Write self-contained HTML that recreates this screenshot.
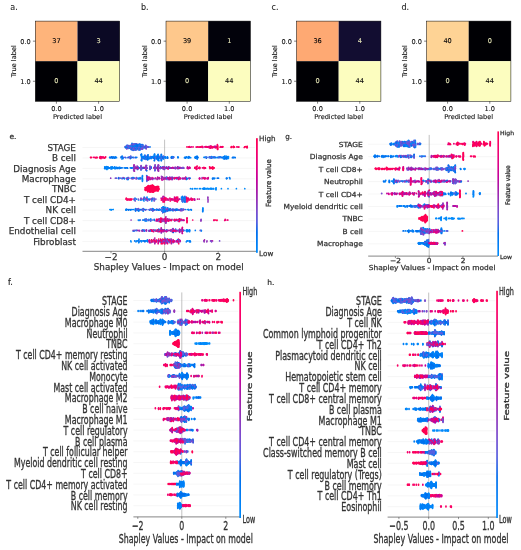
<!DOCTYPE html>
<html><head><meta charset="utf-8"><style>
html,body{margin:0;padding:0;background:#fff;}
svg{display:block;}
text{font-family:'DejaVu Sans','Liberation Sans',sans-serif;}
</style></head><body>
<svg width="521" height="550" viewBox="0 0 521 550" style="filter:blur(0.25px)">
<rect width="521" height="550" fill="#fff"/>
<rect x="35.30" y="21.10" width="42.2" height="40.1" fill="#feb47b"/>
<text transform="translate(56.40,42.96)" font-size="6.60" text-anchor="middle" fill="#000004" stroke="#000004" stroke-width="0.10">37</text>
<rect x="77.50" y="21.10" width="42.2" height="40.1" fill="#0b0924"/>
<text transform="translate(98.60,42.96)" font-size="6.60" text-anchor="middle" fill="#e6e6b8" stroke="#e6e6b8" stroke-width="0.10">3</text>
<rect x="35.30" y="61.20" width="42.2" height="40.1" fill="#000004"/>
<text transform="translate(56.40,83.06)" font-size="6.60" text-anchor="middle" fill="#e6e6b8" stroke="#e6e6b8" stroke-width="0.10">0</text>
<rect x="77.50" y="61.20" width="42.2" height="40.1" fill="#fcfdbf"/>
<text transform="translate(98.60,83.06)" font-size="6.60" text-anchor="middle" fill="#000004" stroke="#000004" stroke-width="0.10">44</text>
<rect x="35.30" y="21.10" width="84.4" height="80.2" fill="none" stroke="#000" stroke-width="0.5"/>
<line x1="32.90" y1="41.15" x2="35.30" y2="41.15" stroke="#000" stroke-width="0.5"/>
<text transform="translate(30.70,43.56)" font-size="6.60" text-anchor="end" fill="#111" stroke="#111" stroke-width="0.10">0.0</text>
<line x1="56.40" y1="101.30" x2="56.40" y2="103.70" stroke="#000" stroke-width="0.5"/>
<text transform="translate(56.40,110.80)" font-size="6.60" text-anchor="middle" fill="#111" stroke="#111" stroke-width="0.10">0.0</text>
<line x1="32.90" y1="81.25" x2="35.30" y2="81.25" stroke="#000" stroke-width="0.5"/>
<text transform="translate(30.70,83.66)" font-size="6.60" text-anchor="end" fill="#111" stroke="#111" stroke-width="0.10">1.0</text>
<line x1="98.60" y1="101.30" x2="98.60" y2="103.70" stroke="#000" stroke-width="0.5"/>
<text transform="translate(98.60,110.80)" font-size="6.60" text-anchor="middle" fill="#111" stroke="#111" stroke-width="0.10">1.0</text>
<text transform="translate(77.50,118.80)" font-size="6.60" text-anchor="middle" fill="#111" stroke="#111" stroke-width="0.10">Predicted label</text>
<text transform="translate(15.80,61.20) rotate(-90)" font-size="6.60" text-anchor="middle" fill="#111" stroke="#111" stroke-width="0.10">True label</text>
<text transform="translate(10.30,9.8)" font-size="8" fill="#222" stroke="#222" stroke-width="0.08">a.</text>
<rect x="166.00" y="21.10" width="42.2" height="40.1" fill="#fec88c"/>
<text transform="translate(187.10,42.96)" font-size="6.60" text-anchor="middle" fill="#000004" stroke="#000004" stroke-width="0.10">39</text>
<rect x="208.20" y="21.10" width="42.2" height="40.1" fill="#02020b"/>
<text transform="translate(229.30,42.96)" font-size="6.60" text-anchor="middle" fill="#e6e6b8" stroke="#e6e6b8" stroke-width="0.10">1</text>
<rect x="166.00" y="61.20" width="42.2" height="40.1" fill="#000004"/>
<text transform="translate(187.10,83.06)" font-size="6.60" text-anchor="middle" fill="#e6e6b8" stroke="#e6e6b8" stroke-width="0.10">0</text>
<rect x="208.20" y="61.20" width="42.2" height="40.1" fill="#fcfdbf"/>
<text transform="translate(229.30,83.06)" font-size="6.60" text-anchor="middle" fill="#000004" stroke="#000004" stroke-width="0.10">44</text>
<rect x="166.00" y="21.10" width="84.4" height="80.2" fill="none" stroke="#000" stroke-width="0.5"/>
<line x1="163.60" y1="41.15" x2="166.00" y2="41.15" stroke="#000" stroke-width="0.5"/>
<text transform="translate(161.40,43.56)" font-size="6.60" text-anchor="end" fill="#111" stroke="#111" stroke-width="0.10">0.0</text>
<line x1="187.10" y1="101.30" x2="187.10" y2="103.70" stroke="#000" stroke-width="0.5"/>
<text transform="translate(187.10,110.80)" font-size="6.60" text-anchor="middle" fill="#111" stroke="#111" stroke-width="0.10">0.0</text>
<line x1="163.60" y1="81.25" x2="166.00" y2="81.25" stroke="#000" stroke-width="0.5"/>
<text transform="translate(161.40,83.66)" font-size="6.60" text-anchor="end" fill="#111" stroke="#111" stroke-width="0.10">1.0</text>
<line x1="229.30" y1="101.30" x2="229.30" y2="103.70" stroke="#000" stroke-width="0.5"/>
<text transform="translate(229.30,110.80)" font-size="6.60" text-anchor="middle" fill="#111" stroke="#111" stroke-width="0.10">1.0</text>
<text transform="translate(208.20,118.80)" font-size="6.60" text-anchor="middle" fill="#111" stroke="#111" stroke-width="0.10">Predicted label</text>
<text transform="translate(146.50,61.20) rotate(-90)" font-size="6.60" text-anchor="middle" fill="#111" stroke="#111" stroke-width="0.10">True label</text>
<text transform="translate(141.00,9.8)" font-size="8" fill="#222" stroke="#222" stroke-width="0.08">b.</text>
<rect x="296.50" y="21.10" width="42.2" height="40.1" fill="#fea973"/>
<text transform="translate(317.60,42.96)" font-size="6.60" text-anchor="middle" fill="#000004" stroke="#000004" stroke-width="0.10">36</text>
<rect x="338.70" y="21.10" width="42.2" height="40.1" fill="#120d31"/>
<text transform="translate(359.80,42.96)" font-size="6.60" text-anchor="middle" fill="#e6e6b8" stroke="#e6e6b8" stroke-width="0.10">4</text>
<rect x="296.50" y="61.20" width="42.2" height="40.1" fill="#000004"/>
<text transform="translate(317.60,83.06)" font-size="6.60" text-anchor="middle" fill="#e6e6b8" stroke="#e6e6b8" stroke-width="0.10">0</text>
<rect x="338.70" y="61.20" width="42.2" height="40.1" fill="#fcfdbf"/>
<text transform="translate(359.80,83.06)" font-size="6.60" text-anchor="middle" fill="#000004" stroke="#000004" stroke-width="0.10">44</text>
<rect x="296.50" y="21.10" width="84.4" height="80.2" fill="none" stroke="#000" stroke-width="0.5"/>
<line x1="294.10" y1="41.15" x2="296.50" y2="41.15" stroke="#000" stroke-width="0.5"/>
<text transform="translate(291.90,43.56)" font-size="6.60" text-anchor="end" fill="#111" stroke="#111" stroke-width="0.10">0.0</text>
<line x1="317.60" y1="101.30" x2="317.60" y2="103.70" stroke="#000" stroke-width="0.5"/>
<text transform="translate(317.60,110.80)" font-size="6.60" text-anchor="middle" fill="#111" stroke="#111" stroke-width="0.10">0.0</text>
<line x1="294.10" y1="81.25" x2="296.50" y2="81.25" stroke="#000" stroke-width="0.5"/>
<text transform="translate(291.90,83.66)" font-size="6.60" text-anchor="end" fill="#111" stroke="#111" stroke-width="0.10">1.0</text>
<line x1="359.80" y1="101.30" x2="359.80" y2="103.70" stroke="#000" stroke-width="0.5"/>
<text transform="translate(359.80,110.80)" font-size="6.60" text-anchor="middle" fill="#111" stroke="#111" stroke-width="0.10">1.0</text>
<text transform="translate(338.70,118.80)" font-size="6.60" text-anchor="middle" fill="#111" stroke="#111" stroke-width="0.10">Predicted label</text>
<text transform="translate(277.00,61.20) rotate(-90)" font-size="6.60" text-anchor="middle" fill="#111" stroke="#111" stroke-width="0.10">True label</text>
<text transform="translate(271.50,9.8)" font-size="8" fill="#222" stroke="#222" stroke-width="0.08">c.</text>
<rect x="426.50" y="21.10" width="42.2" height="40.1" fill="#fed395"/>
<text transform="translate(447.60,42.96)" font-size="6.60" text-anchor="middle" fill="#000004" stroke="#000004" stroke-width="0.10">40</text>
<rect x="468.70" y="21.10" width="42.2" height="40.1" fill="#000004"/>
<text transform="translate(489.80,42.96)" font-size="6.60" text-anchor="middle" fill="#e6e6b8" stroke="#e6e6b8" stroke-width="0.10">0</text>
<rect x="426.50" y="61.20" width="42.2" height="40.1" fill="#000004"/>
<text transform="translate(447.60,83.06)" font-size="6.60" text-anchor="middle" fill="#e6e6b8" stroke="#e6e6b8" stroke-width="0.10">0</text>
<rect x="468.70" y="61.20" width="42.2" height="40.1" fill="#fcfdbf"/>
<text transform="translate(489.80,83.06)" font-size="6.60" text-anchor="middle" fill="#000004" stroke="#000004" stroke-width="0.10">44</text>
<rect x="426.50" y="21.10" width="84.4" height="80.2" fill="none" stroke="#000" stroke-width="0.5"/>
<line x1="424.10" y1="41.15" x2="426.50" y2="41.15" stroke="#000" stroke-width="0.5"/>
<text transform="translate(421.90,43.56)" font-size="6.60" text-anchor="end" fill="#111" stroke="#111" stroke-width="0.10">0.0</text>
<line x1="447.60" y1="101.30" x2="447.60" y2="103.70" stroke="#000" stroke-width="0.5"/>
<text transform="translate(447.60,110.80)" font-size="6.60" text-anchor="middle" fill="#111" stroke="#111" stroke-width="0.10">0.0</text>
<line x1="424.10" y1="81.25" x2="426.50" y2="81.25" stroke="#000" stroke-width="0.5"/>
<text transform="translate(421.90,83.66)" font-size="6.60" text-anchor="end" fill="#111" stroke="#111" stroke-width="0.10">1.0</text>
<line x1="489.80" y1="101.30" x2="489.80" y2="103.70" stroke="#000" stroke-width="0.5"/>
<text transform="translate(489.80,110.80)" font-size="6.60" text-anchor="middle" fill="#111" stroke="#111" stroke-width="0.10">1.0</text>
<text transform="translate(468.70,118.80)" font-size="6.60" text-anchor="middle" fill="#111" stroke="#111" stroke-width="0.10">Predicted label</text>
<text transform="translate(407.00,61.20) rotate(-90)" font-size="6.60" text-anchor="middle" fill="#111" stroke="#111" stroke-width="0.10">True label</text>
<text transform="translate(401.50,9.8)" font-size="8" fill="#222" stroke="#222" stroke-width="0.08">d.</text>
<defs><linearGradient id="cbg" x1="0" y1="1" x2="0" y2="0"><stop offset="0" stop-color="#008bfb"/><stop offset="0.18" stop-color="#006fed"/><stop offset="0.27" stop-color="#575fdf"/><stop offset="0.36" stop-color="#794cce"/><stop offset="0.45" stop-color="#9233b9"/><stop offset="0.55" stop-color="#aa17a7"/><stop offset="0.64" stop-color="#c5009a"/><stop offset="0.73" stop-color="#db008a"/><stop offset="0.82" stop-color="#ec0078"/><stop offset="0.91" stop-color="#fa0065"/><stop offset="1" stop-color="#ff0051"/></linearGradient></defs>
<line x1="82.50" y1="147.49" x2="255.00" y2="147.49" stroke="#ececec" stroke-width="0.5"/>
<line x1="82.50" y1="157.93" x2="255.00" y2="157.93" stroke="#ececec" stroke-width="0.5"/>
<line x1="82.50" y1="168.37" x2="255.00" y2="168.37" stroke="#ececec" stroke-width="0.5"/>
<line x1="82.50" y1="178.81" x2="255.00" y2="178.81" stroke="#ececec" stroke-width="0.5"/>
<line x1="82.50" y1="189.25" x2="255.00" y2="189.25" stroke="#ececec" stroke-width="0.5"/>
<line x1="82.50" y1="199.69" x2="255.00" y2="199.69" stroke="#ececec" stroke-width="0.5"/>
<line x1="82.50" y1="210.13" x2="255.00" y2="210.13" stroke="#ececec" stroke-width="0.5"/>
<line x1="82.50" y1="220.57" x2="255.00" y2="220.57" stroke="#ececec" stroke-width="0.5"/>
<line x1="82.50" y1="231.01" x2="255.00" y2="231.01" stroke="#ececec" stroke-width="0.5"/>
<line x1="82.50" y1="241.45" x2="255.00" y2="241.45" stroke="#ececec" stroke-width="0.5"/>
<line x1="164.60" y1="139.66" x2="164.60" y2="251.30" stroke="#999" stroke-width="0.6"/>
<text transform="translate(75.90,150.70)" font-size="8.80" text-anchor="end" fill="#333" stroke="#333" stroke-width="0.25">STAGE</text>
<text transform="translate(75.90,161.14)" font-size="8.80" text-anchor="end" fill="#333" stroke="#333" stroke-width="0.25">B cell</text>
<text transform="translate(75.90,171.58)" font-size="8.80" text-anchor="end" fill="#333" stroke="#333" stroke-width="0.25">Diagnosis Age</text>
<text transform="translate(75.90,182.02)" font-size="8.80" text-anchor="end" fill="#333" stroke="#333" stroke-width="0.25">Macrophage</text>
<text transform="translate(75.90,192.46)" font-size="8.80" text-anchor="end" fill="#333" stroke="#333" stroke-width="0.25">TNBC</text>
<text transform="translate(75.90,202.90)" font-size="8.80" text-anchor="end" fill="#333" stroke="#333" stroke-width="0.25">T cell CD4+</text>
<text transform="translate(75.90,213.34)" font-size="8.80" text-anchor="end" fill="#333" stroke="#333" stroke-width="0.25">NK cell</text>
<text transform="translate(75.90,223.78)" font-size="8.80" text-anchor="end" fill="#333" stroke="#333" stroke-width="0.25">T cell CD8+</text>
<text transform="translate(75.90,234.22)" font-size="8.80" text-anchor="end" fill="#333" stroke="#333" stroke-width="0.25">Endothelial cell</text>
<text transform="translate(75.90,244.66)" font-size="8.80" text-anchor="end" fill="#333" stroke="#333" stroke-width="0.25">Fibroblast</text>
<line x1="82.50" y1="251.30" x2="257.00" y2="251.30" stroke="#333" stroke-width="0.6"/>
<line x1="111.00" y1="251.30" x2="111.00" y2="253.30" stroke="#333" stroke-width="0.5"/>
<text transform="translate(111.00,260.10)" font-size="8.80" text-anchor="middle" fill="#333" stroke="#333" stroke-width="0.25">−2</text>
<line x1="164.60" y1="251.30" x2="164.60" y2="253.30" stroke="#333" stroke-width="0.5"/>
<text transform="translate(164.60,260.10)" font-size="8.80" text-anchor="middle" fill="#333" stroke="#333" stroke-width="0.25">0</text>
<line x1="218.20" y1="251.30" x2="218.20" y2="253.30" stroke="#333" stroke-width="0.5"/>
<text transform="translate(218.20,260.10)" font-size="8.80" text-anchor="middle" fill="#333" stroke="#333" stroke-width="0.25">2</text>
<text transform="translate(93.75,269.60)" font-size="8.80" text-anchor="start" fill="#333" stroke="#333" stroke-width="0.25">Shapley Values - Impact on model</text>
<rect x="256.00" y="138.20" width="1.80" height="114.60" fill="url(#cbg)"/>
<text transform="translate(259.10,140.80)" font-size="7.20" text-anchor="start" fill="#333" stroke="#333" stroke-width="0.25">High</text>
<text transform="translate(259.10,255.90)" font-size="7.20" text-anchor="start" fill="#333" stroke="#333" stroke-width="0.25">Low</text>
<text transform="translate(270.55,183.20) scale(1.000,1) rotate(-90)" font-size="7.00" text-anchor="middle" fill="#333" stroke="#333" stroke-width="0.30">Feature value</text>
<text transform="translate(9.40,139.00)" font-size="7.50" fill="#2a2a2a" stroke="#2a2a2a" stroke-width="0.2">e.</text>
<line x1="368.20" y1="144.23" x2="496.40" y2="144.23" stroke="#ececec" stroke-width="0.5"/>
<line x1="368.20" y1="156.68" x2="496.40" y2="156.68" stroke="#ececec" stroke-width="0.5"/>
<line x1="368.20" y1="169.13" x2="496.40" y2="169.13" stroke="#ececec" stroke-width="0.5"/>
<line x1="368.20" y1="181.58" x2="496.40" y2="181.58" stroke="#ececec" stroke-width="0.5"/>
<line x1="368.20" y1="194.03" x2="496.40" y2="194.03" stroke="#ececec" stroke-width="0.5"/>
<line x1="368.20" y1="206.48" x2="496.40" y2="206.48" stroke="#ececec" stroke-width="0.5"/>
<line x1="368.20" y1="218.93" x2="496.40" y2="218.93" stroke="#ececec" stroke-width="0.5"/>
<line x1="368.20" y1="231.38" x2="496.40" y2="231.38" stroke="#ececec" stroke-width="0.5"/>
<line x1="368.20" y1="243.83" x2="496.40" y2="243.83" stroke="#ececec" stroke-width="0.5"/>
<line x1="429.20" y1="134.90" x2="429.20" y2="256.10" stroke="#999" stroke-width="0.6"/>
<text transform="translate(362.80,146.75) scale(1.080,1)" font-size="6.90" text-anchor="end" fill="#333" stroke="#333" stroke-width="0.25">STAGE</text>
<text transform="translate(362.80,159.20) scale(1.080,1)" font-size="6.90" text-anchor="end" fill="#333" stroke="#333" stroke-width="0.25">Diagnosis Age</text>
<text transform="translate(362.80,171.65) scale(1.080,1)" font-size="6.90" text-anchor="end" fill="#333" stroke="#333" stroke-width="0.25">T cell CD8+</text>
<text transform="translate(362.80,184.10) scale(1.080,1)" font-size="6.90" text-anchor="end" fill="#333" stroke="#333" stroke-width="0.25">Neutrophil</text>
<text transform="translate(362.80,196.55) scale(1.080,1)" font-size="6.90" text-anchor="end" fill="#333" stroke="#333" stroke-width="0.25">T cell CD4+</text>
<text transform="translate(362.80,209.00) scale(1.080,1)" font-size="6.90" text-anchor="end" fill="#333" stroke="#333" stroke-width="0.25">Myeloid dendritic cell</text>
<text transform="translate(362.80,221.45) scale(1.080,1)" font-size="6.90" text-anchor="end" fill="#333" stroke="#333" stroke-width="0.25">TNBC</text>
<text transform="translate(362.80,233.90) scale(1.080,1)" font-size="6.90" text-anchor="end" fill="#333" stroke="#333" stroke-width="0.25">B cell</text>
<text transform="translate(362.80,246.35) scale(1.080,1)" font-size="6.90" text-anchor="end" fill="#333" stroke="#333" stroke-width="0.25">Macrophage</text>
<line x1="368.20" y1="256.10" x2="498.00" y2="256.10" stroke="#333" stroke-width="0.6"/>
<line x1="395.40" y1="256.10" x2="395.40" y2="258.10" stroke="#333" stroke-width="0.5"/>
<text transform="translate(395.40,262.50) scale(1.080,1)" font-size="6.90" text-anchor="middle" fill="#333" stroke="#333" stroke-width="0.25">−2</text>
<line x1="429.20" y1="256.10" x2="429.20" y2="258.10" stroke="#333" stroke-width="0.5"/>
<text transform="translate(429.20,262.50) scale(1.080,1)" font-size="6.90" text-anchor="middle" fill="#333" stroke="#333" stroke-width="0.25">0</text>
<line x1="463.00" y1="256.10" x2="463.00" y2="258.10" stroke="#333" stroke-width="0.5"/>
<text transform="translate(463.00,262.50) scale(1.080,1)" font-size="6.90" text-anchor="middle" fill="#333" stroke="#333" stroke-width="0.25">2</text>
<text transform="translate(368.70,270.30) scale(1.080,1)" font-size="6.90" text-anchor="start" fill="#333" stroke="#333" stroke-width="0.25">Shapley Values - Impact on model</text>
<rect x="497.40" y="131.40" width="1.60" height="124.60" fill="url(#cbg)"/>
<text transform="translate(500.00,135.40) scale(1.080,1)" font-size="5.65" text-anchor="start" fill="#333" stroke="#333" stroke-width="0.25">High</text>
<text transform="translate(500.00,259.10) scale(1.080,1)" font-size="5.65" text-anchor="start" fill="#333" stroke="#333" stroke-width="0.25">Low</text>
<text transform="translate(509.98,185.20) scale(1.080,1) rotate(-90)" font-size="5.80" text-anchor="middle" fill="#333" stroke="#333" stroke-width="0.28">Feature value</text>
<text transform="translate(285.20,138.60)" font-size="7.20" fill="#2a2a2a" stroke="#2a2a2a" stroke-width="0.2">g.</text>
<line x1="133.40" y1="300.51" x2="238.30" y2="300.51" stroke="#ececec" stroke-width="0.5"/>
<line x1="133.40" y1="311.31" x2="238.30" y2="311.31" stroke="#ececec" stroke-width="0.5"/>
<line x1="133.40" y1="322.11" x2="238.30" y2="322.11" stroke="#ececec" stroke-width="0.5"/>
<line x1="133.40" y1="332.91" x2="238.30" y2="332.91" stroke="#ececec" stroke-width="0.5"/>
<line x1="133.40" y1="343.71" x2="238.30" y2="343.71" stroke="#ececec" stroke-width="0.5"/>
<line x1="133.40" y1="354.51" x2="238.30" y2="354.51" stroke="#ececec" stroke-width="0.5"/>
<line x1="133.40" y1="365.31" x2="238.30" y2="365.31" stroke="#ececec" stroke-width="0.5"/>
<line x1="133.40" y1="376.11" x2="238.30" y2="376.11" stroke="#ececec" stroke-width="0.5"/>
<line x1="133.40" y1="386.91" x2="238.30" y2="386.91" stroke="#ececec" stroke-width="0.5"/>
<line x1="133.40" y1="397.71" x2="238.30" y2="397.71" stroke="#ececec" stroke-width="0.5"/>
<line x1="133.40" y1="408.51" x2="238.30" y2="408.51" stroke="#ececec" stroke-width="0.5"/>
<line x1="133.40" y1="419.31" x2="238.30" y2="419.31" stroke="#ececec" stroke-width="0.5"/>
<line x1="133.40" y1="430.11" x2="238.30" y2="430.11" stroke="#ececec" stroke-width="0.5"/>
<line x1="133.40" y1="440.91" x2="238.30" y2="440.91" stroke="#ececec" stroke-width="0.5"/>
<line x1="133.40" y1="451.71" x2="238.30" y2="451.71" stroke="#ececec" stroke-width="0.5"/>
<line x1="133.40" y1="462.51" x2="238.30" y2="462.51" stroke="#ececec" stroke-width="0.5"/>
<line x1="133.40" y1="473.31" x2="238.30" y2="473.31" stroke="#ececec" stroke-width="0.5"/>
<line x1="133.40" y1="484.11" x2="238.30" y2="484.11" stroke="#ececec" stroke-width="0.5"/>
<line x1="133.40" y1="494.91" x2="238.30" y2="494.91" stroke="#ececec" stroke-width="0.5"/>
<line x1="133.40" y1="505.71" x2="238.30" y2="505.71" stroke="#ececec" stroke-width="0.5"/>
<line x1="181.80" y1="292.41" x2="181.80" y2="516.90" stroke="#999" stroke-width="0.6"/>
<text transform="translate(127.60,305.10) scale(0.625,1)" font-size="12.60" text-anchor="end" fill="#333" stroke="#333" stroke-width="0.35">STAGE</text>
<text transform="translate(127.60,315.90) scale(0.625,1)" font-size="12.60" text-anchor="end" fill="#333" stroke="#333" stroke-width="0.35">Diagnosis Age</text>
<text transform="translate(127.60,326.70) scale(0.625,1)" font-size="12.60" text-anchor="end" fill="#333" stroke="#333" stroke-width="0.35">Macrophage M0</text>
<text transform="translate(127.60,337.50) scale(0.625,1)" font-size="12.60" text-anchor="end" fill="#333" stroke="#333" stroke-width="0.35">Neutrophil</text>
<text transform="translate(127.60,348.30) scale(0.625,1)" font-size="12.60" text-anchor="end" fill="#333" stroke="#333" stroke-width="0.35">TNBC</text>
<text transform="translate(127.60,359.10) scale(0.625,1)" font-size="12.60" text-anchor="end" fill="#333" stroke="#333" stroke-width="0.35">T cell CD4+ memory resting</text>
<text transform="translate(127.60,369.90) scale(0.625,1)" font-size="12.60" text-anchor="end" fill="#333" stroke="#333" stroke-width="0.35">NK cell activated</text>
<text transform="translate(127.60,380.70) scale(0.625,1)" font-size="12.60" text-anchor="end" fill="#333" stroke="#333" stroke-width="0.35">Monocyte</text>
<text transform="translate(127.60,391.50) scale(0.625,1)" font-size="12.60" text-anchor="end" fill="#333" stroke="#333" stroke-width="0.35">Mast cell activated</text>
<text transform="translate(127.60,402.30) scale(0.625,1)" font-size="12.60" text-anchor="end" fill="#333" stroke="#333" stroke-width="0.35">Macrophage M2</text>
<text transform="translate(127.60,413.10) scale(0.625,1)" font-size="12.60" text-anchor="end" fill="#333" stroke="#333" stroke-width="0.35">B cell naive</text>
<text transform="translate(127.60,423.90) scale(0.625,1)" font-size="12.60" text-anchor="end" fill="#333" stroke="#333" stroke-width="0.35">Macrophage M1</text>
<text transform="translate(127.60,434.70) scale(0.625,1)" font-size="12.60" text-anchor="end" fill="#333" stroke="#333" stroke-width="0.35">T cell regulatory</text>
<text transform="translate(127.60,445.50) scale(0.625,1)" font-size="12.60" text-anchor="end" fill="#333" stroke="#333" stroke-width="0.35">B cell plasma</text>
<text transform="translate(127.60,456.30) scale(0.625,1)" font-size="12.60" text-anchor="end" fill="#333" stroke="#333" stroke-width="0.35">T cell follicular helper</text>
<text transform="translate(127.60,467.10) scale(0.625,1)" font-size="12.60" text-anchor="end" fill="#333" stroke="#333" stroke-width="0.35">Myeloid dendritic cell resting</text>
<text transform="translate(127.60,477.90) scale(0.625,1)" font-size="12.60" text-anchor="end" fill="#333" stroke="#333" stroke-width="0.35">T cell CD8+</text>
<text transform="translate(127.60,488.70) scale(0.625,1)" font-size="12.60" text-anchor="end" fill="#333" stroke="#333" stroke-width="0.35">T cell CD4+ memory activated</text>
<text transform="translate(127.60,499.50) scale(0.625,1)" font-size="12.60" text-anchor="end" fill="#333" stroke="#333" stroke-width="0.35">B cell memory</text>
<text transform="translate(127.60,510.30) scale(0.625,1)" font-size="12.60" text-anchor="end" fill="#333" stroke="#333" stroke-width="0.35">NK cell resting</text>
<line x1="133.40" y1="516.90" x2="240.00" y2="516.90" stroke="#333" stroke-width="0.6"/>
<line x1="137.80" y1="516.90" x2="137.80" y2="518.90" stroke="#333" stroke-width="0.5"/>
<text transform="translate(137.80,529.80) scale(0.625,1)" font-size="12.60" text-anchor="middle" fill="#333" stroke="#333" stroke-width="0.35">−2</text>
<line x1="181.80" y1="516.90" x2="181.80" y2="518.90" stroke="#333" stroke-width="0.5"/>
<text transform="translate(181.80,529.80) scale(0.625,1)" font-size="12.60" text-anchor="middle" fill="#333" stroke="#333" stroke-width="0.35">0</text>
<line x1="225.80" y1="516.90" x2="225.80" y2="518.90" stroke="#333" stroke-width="0.5"/>
<text transform="translate(225.80,529.80) scale(0.625,1)" font-size="12.60" text-anchor="middle" fill="#333" stroke="#333" stroke-width="0.35">2</text>
<text transform="translate(118.75,543.40) scale(0.625,1)" font-size="12.60" text-anchor="start" fill="#333" stroke="#333" stroke-width="0.35">Shapley Values - Impact on model</text>
<rect x="239.30" y="291.80" width="1.70" height="226.20" fill="url(#cbg)"/>
<text transform="translate(242.50,294.75) scale(0.625,1)" font-size="10.30" text-anchor="start" fill="#333" stroke="#333" stroke-width="0.35">High</text>
<text transform="translate(242.50,523.00) scale(0.625,1)" font-size="10.30" text-anchor="start" fill="#333" stroke="#333" stroke-width="0.35">Low</text>
<text transform="translate(252.34,386.40) scale(0.625,1) rotate(-90)" font-size="10.25" text-anchor="middle" fill="#333" stroke="#333" stroke-width="0.48">Feature value</text>
<text transform="translate(8.10,285.20)" font-size="8.00" fill="#2a2a2a" stroke="#2a2a2a" stroke-width="0.2">f.</text>
<line x1="387.60" y1="300.71" x2="495.20" y2="300.71" stroke="#ececec" stroke-width="0.5"/>
<line x1="387.60" y1="311.55" x2="495.20" y2="311.55" stroke="#ececec" stroke-width="0.5"/>
<line x1="387.60" y1="322.39" x2="495.20" y2="322.39" stroke="#ececec" stroke-width="0.5"/>
<line x1="387.60" y1="333.23" x2="495.20" y2="333.23" stroke="#ececec" stroke-width="0.5"/>
<line x1="387.60" y1="344.07" x2="495.20" y2="344.07" stroke="#ececec" stroke-width="0.5"/>
<line x1="387.60" y1="354.91" x2="495.20" y2="354.91" stroke="#ececec" stroke-width="0.5"/>
<line x1="387.60" y1="365.75" x2="495.20" y2="365.75" stroke="#ececec" stroke-width="0.5"/>
<line x1="387.60" y1="376.59" x2="495.20" y2="376.59" stroke="#ececec" stroke-width="0.5"/>
<line x1="387.60" y1="387.43" x2="495.20" y2="387.43" stroke="#ececec" stroke-width="0.5"/>
<line x1="387.60" y1="398.27" x2="495.20" y2="398.27" stroke="#ececec" stroke-width="0.5"/>
<line x1="387.60" y1="409.11" x2="495.20" y2="409.11" stroke="#ececec" stroke-width="0.5"/>
<line x1="387.60" y1="419.95" x2="495.20" y2="419.95" stroke="#ececec" stroke-width="0.5"/>
<line x1="387.60" y1="430.79" x2="495.20" y2="430.79" stroke="#ececec" stroke-width="0.5"/>
<line x1="387.60" y1="441.63" x2="495.20" y2="441.63" stroke="#ececec" stroke-width="0.5"/>
<line x1="387.60" y1="452.47" x2="495.20" y2="452.47" stroke="#ececec" stroke-width="0.5"/>
<line x1="387.60" y1="463.31" x2="495.20" y2="463.31" stroke="#ececec" stroke-width="0.5"/>
<line x1="387.60" y1="474.15" x2="495.20" y2="474.15" stroke="#ececec" stroke-width="0.5"/>
<line x1="387.60" y1="484.99" x2="495.20" y2="484.99" stroke="#ececec" stroke-width="0.5"/>
<line x1="387.60" y1="495.83" x2="495.20" y2="495.83" stroke="#ececec" stroke-width="0.5"/>
<line x1="387.60" y1="506.67" x2="495.20" y2="506.67" stroke="#ececec" stroke-width="0.5"/>
<line x1="428.70" y1="292.58" x2="428.70" y2="517.10" stroke="#999" stroke-width="0.6"/>
<text transform="translate(381.80,305.30) scale(0.630,1)" font-size="12.60" text-anchor="end" fill="#333" stroke="#333" stroke-width="0.35">STAGE</text>
<text transform="translate(381.80,316.14) scale(0.630,1)" font-size="12.60" text-anchor="end" fill="#333" stroke="#333" stroke-width="0.35">Diagnosis Age</text>
<text transform="translate(381.80,326.98) scale(0.630,1)" font-size="12.60" text-anchor="end" fill="#333" stroke="#333" stroke-width="0.35">T cell NK</text>
<text transform="translate(381.80,337.82) scale(0.630,1)" font-size="12.60" text-anchor="end" fill="#333" stroke="#333" stroke-width="0.35">Common lymphoid progenitor</text>
<text transform="translate(381.80,348.66) scale(0.630,1)" font-size="12.60" text-anchor="end" fill="#333" stroke="#333" stroke-width="0.35">T cell CD4+ Th2</text>
<text transform="translate(381.80,359.50) scale(0.630,1)" font-size="12.60" text-anchor="end" fill="#333" stroke="#333" stroke-width="0.35">Plasmacytoid dendritic cell</text>
<text transform="translate(381.80,370.34) scale(0.630,1)" font-size="12.60" text-anchor="end" fill="#333" stroke="#333" stroke-width="0.35">NK cell</text>
<text transform="translate(381.80,381.18) scale(0.630,1)" font-size="12.60" text-anchor="end" fill="#333" stroke="#333" stroke-width="0.35">Hematopoietic stem cell</text>
<text transform="translate(381.80,392.02) scale(0.630,1)" font-size="12.60" text-anchor="end" fill="#333" stroke="#333" stroke-width="0.35">T cell CD4+ memory</text>
<text transform="translate(381.80,402.86) scale(0.630,1)" font-size="12.60" text-anchor="end" fill="#333" stroke="#333" stroke-width="0.35">T cell CD8+ central memory</text>
<text transform="translate(381.80,413.70) scale(0.630,1)" font-size="12.60" text-anchor="end" fill="#333" stroke="#333" stroke-width="0.35">B cell plasma</text>
<text transform="translate(381.80,424.54) scale(0.630,1)" font-size="12.60" text-anchor="end" fill="#333" stroke="#333" stroke-width="0.35">Macrophage M1</text>
<text transform="translate(381.80,435.38) scale(0.630,1)" font-size="12.60" text-anchor="end" fill="#333" stroke="#333" stroke-width="0.35">TNBC</text>
<text transform="translate(381.80,446.22) scale(0.630,1)" font-size="12.60" text-anchor="end" fill="#333" stroke="#333" stroke-width="0.35">T cell CD4+ central memory</text>
<text transform="translate(381.80,457.06) scale(0.630,1)" font-size="12.60" text-anchor="end" fill="#333" stroke="#333" stroke-width="0.35">Class-switched memory B cell</text>
<text transform="translate(381.80,467.90) scale(0.630,1)" font-size="12.60" text-anchor="end" fill="#333" stroke="#333" stroke-width="0.35">Mast cell</text>
<text transform="translate(381.80,478.74) scale(0.630,1)" font-size="12.60" text-anchor="end" fill="#333" stroke="#333" stroke-width="0.35">T cell regulatory (Tregs)</text>
<text transform="translate(381.80,489.58) scale(0.630,1)" font-size="12.60" text-anchor="end" fill="#333" stroke="#333" stroke-width="0.35">B cell memory</text>
<text transform="translate(381.80,500.42) scale(0.630,1)" font-size="12.60" text-anchor="end" fill="#333" stroke="#333" stroke-width="0.35">T cell CD4+ Th1</text>
<text transform="translate(381.80,511.26) scale(0.630,1)" font-size="12.60" text-anchor="end" fill="#333" stroke="#333" stroke-width="0.35">Eosinophil</text>
<line x1="387.60" y1="517.10" x2="497.00" y2="517.10" stroke="#333" stroke-width="0.6"/>
<line x1="398.90" y1="517.10" x2="398.90" y2="519.10" stroke="#333" stroke-width="0.5"/>
<text transform="translate(398.90,529.80) scale(0.630,1)" font-size="12.60" text-anchor="middle" fill="#333" stroke="#333" stroke-width="0.35">−0.5</text>
<line x1="428.70" y1="517.10" x2="428.70" y2="519.10" stroke="#333" stroke-width="0.5"/>
<text transform="translate(428.70,529.80) scale(0.630,1)" font-size="12.60" text-anchor="middle" fill="#333" stroke="#333" stroke-width="0.35">0.0</text>
<line x1="458.50" y1="517.10" x2="458.50" y2="519.10" stroke="#333" stroke-width="0.5"/>
<text transform="translate(458.50,529.80) scale(0.630,1)" font-size="12.60" text-anchor="middle" fill="#333" stroke="#333" stroke-width="0.35">0.5</text>
<line x1="488.30" y1="517.10" x2="488.30" y2="519.10" stroke="#333" stroke-width="0.5"/>
<text transform="translate(488.30,529.80) scale(0.630,1)" font-size="12.60" text-anchor="middle" fill="#333" stroke="#333" stroke-width="0.35">1.0</text>
<text transform="translate(508.50,543.40) scale(0.630,1)" font-size="12.60" text-anchor="end" fill="#333" stroke="#333" stroke-width="0.35">Shapley Values - Impact on model</text>
<rect x="496.20" y="290.80" width="1.70" height="227.20" fill="url(#cbg)"/>
<text transform="translate(499.00,294.50) scale(0.630,1)" font-size="10.30" text-anchor="start" fill="#333" stroke="#333" stroke-width="0.35">High</text>
<text transform="translate(499.00,522.70) scale(0.630,1)" font-size="10.30" text-anchor="start" fill="#333" stroke="#333" stroke-width="0.35">Low</text>
<text transform="translate(508.55,385.90) scale(0.630,1) rotate(-90)" font-size="10.25" text-anchor="middle" fill="#333" stroke="#333" stroke-width="0.48">Feature value</text>
<text transform="translate(267.20,285.20)" font-size="7.50" fill="#2a2a2a" stroke="#2a2a2a" stroke-width="0.2">h.</text>
<path transform="scale(0.1000,0.1)" d="M1282 1472h0m37-25h0m5 9h0m4 19h0m16 6h0m18-40h0m42 53h0m3-28h0m17 6h0m-269 97h0m160 8h0m22-4h0m78-21h0m1 13h0m60 8h0m0 13h0m1-9h0m64-8h0m4-25h0m28 21h0m41 21h0m235-13h0m4 0h0m14 0h0m15 9h0m0-13h0m25 8h0m46-4h0m17-12h0m275 16h0m3-16h0m-1201 108h0m3 13h0m13-17h0m6 29h0m12-8h0m30-17h0m16 13h0m14-8h0m5 4h0m23-4h0m11 4h0m74 4h0m-43 100h0m212 0h0m482 105h0m18 2h0m22-2h0m13 0h0m79 2h0m3-2h0m10 0h0m50 2h0m3-2h0m56-3h0m1 3h0m0 11h0m1-3h0m53-8h0m-829 113h0m74-9h0m56 0h0m-221 104h0m12 6h0m124 5h0m105-5h0m97-6h0m6 11h0m8 5h0m1-26h0m10 5h0m166 5h0m13 0h0m-64 209h0m47-6h0m51 19h0m25 0h0m-508 110h0" stroke="#008bfb" stroke-width="17.0" stroke-linecap="round" fill="none"/>
<path transform="scale(0.1000,0.1)" d="M1257 1472h0m12 9h0m13-9h0m13-6h0m24 15h0m5-3h0m2 16h0m15-41h0m15 41h0m0-44h0m1 41h0m3-3h0m5-32h0m18-3h0m8 10h0m2 37h0m10-44h0m1-9h0m-255 126h0m14 0h0m2 4h0m46 0h0m4-4h0m3-8h0m84 8h0m1 13h0m1-21h0m4 4h0m51 8h0m58 13h0m0-8h0m20-5h0m6 13h0m15-4h0m19 12h0m26-21h0m41 26h0m2-5h0m0-46h0m0 42h0m0-54h0m3 25h0m30 12h0m27-8h0m8-12h0m7 8h0m96 17h0m19-13h0m43 8h0m75 5h0m10-13h0m100 4h0m106 0h0m130 4h0m4-8h0m34 13h0m29-13h0m4-4h0m14 4h0m-1228 109h0m15 0h0m5 4h0m3-13h0m9 13h0m21-8h0m13-5h0m36 13h0m29-4h0m64 0h0m162-4h0m173 4h0m-202 110h0m38 0h0m0-6h0m1-12h0m0 31h0m43-44h0m1 19h0m826 0h0m-162 111h0m-727 113h0m37-28h0m43 19h0m9 9h0m26 0h0m0-9h0m315 0h0m5 0h0m6-19h0m-582 118h0m1 5h0m21 0h0m70-10h0m42 16h0m22-6h0m32 0h0m78 0h0m39 6h0m15-6h0m54-10h0m8 21h0m1 11h0m0-38h0m27 6h0m21 16h0m64-6h0m13 0h0m255 6h0m2-16h0m-639 120h0m46 99h0m122 0h0m109-6h0m63 19h0m-340 82h0m69 10h0m437 0h0" stroke="#007ef6" stroke-width="17.0" stroke-linecap="round" fill="none"/>
<path transform="scale(0.1000,0.1)" d="M1252 1466h0m34 12h0m23-18h0m4-4h0m1 16h0m2-3h0m5 28h0m5-56h0m5 62h0m3-6h0m8-50h0m13-6h0m5 44h0m2-19h0m8 25h0m5-44h0m2 9h0m10 32h0m1-38h0m10-6h0m3 44h0m22-19h0m4-22h0m12 28h0m16-9h0m3 3h0m-333 104h0m6 4h0m92-4h0m35 4h0m66-4h0m92 21h0m2-17h0m1 9h0m6-9h0m84-12h0m1 17h0m6-5h0m22-16h0m25 8h0m3 13h0m4-5h0m5 9h0m5-17h0m1-25h0m34 25h0m32 4h0m84 0h0m126 4h0m100 5h0m106-5h0m0 5h0m30-5h0m17-4h0m31 0h0m9 4h0m42-8h0m82 8h0m60 0h0m-1186 109h0m155-8h0m15 4h0m57 12h0m35 5h0m55 4h0m45-21h0m1-13h0m37 0h0m4 30h0m3-34h0m-188 117h0m280 0h0m45 0h0m94-6h0m78 19h0m309-13h0m98 0h0m-441 200h0m8 18h0m14 19h0m-498 87h0m1-16h0m1 21h0m0-5h0m0-11h0m28 11h0m2-5h0m2 10h0m103-16h0m45 0h0m62 0h0m2 6h0m24-11h0m7 0h0m17 0h0m52 16h0m103-5h0m86 0h0m-442 93h0m40 11h0m20 5h0m-175 100h0m114-6h0m64 0h0m65 0h0m75 0h0m168 6h0m-471 99h0m232 0h0m121-19h0" stroke="#006fed" stroke-width="17.0" stroke-linecap="round" fill="none"/>
<path transform="scale(0.1000,0.1)" d="M1281 1456h0m14 13h0m2-6h0m11 18h0m17-15h0m2-16h0m12 10h0m6 25h0m16-25h0m14 18h0m7 7h0m38-22h0m6 12h0m1 13h0m19-19h0m9-13h0m18 13h0m4-3h0m-258 103h0m18 4h0m14 0h0m59 0h0m134 9h0m10 0h0m3-9h0m21-21h0m55 30h0m0-9h0m34 0h0m36 9h0m135-9h0m378 9h0m97-9h0m-869 105h0m68-13h0m31 17h0m60 8h0m47-33h0m0-4h0m1 41h0m8-16h0m20 21h0m1-25h0m25 0h0m232 4h0m-649 110h0m51-6h0m43 6h0m111 0h0m11 0h0m63-18h0m420 12h0m-539 209h0m472 19h0m5-19h0m14-9h0m10-19h0m5 37h0m-416 95h0m244 0h0m12 0h0m24 6h0m8-11h0m8 0h0m26 0h0m27 11h0m-384 99h0m45 0h0m9 0h0m4 5h0m49-5h0m36 5h0m-127 99h0m71 0h0m27-6h0m63 19h0m-67 92h0m5-10h0m4 10h0m98 9h0m40-28h0m15 0h0m41 37h0" stroke="#575fdf" stroke-width="17.0" stroke-linecap="round" fill="none"/>
<path transform="scale(0.1000,0.1)" d="M1260 1463h0m2 3h0m5-6h0m1 28h0m7-22h0m8-3h0m4 18h0m25-15h0m2 22h0m11-16h0m4-9h0m6 25h0m10 3h0m8 6h0m3-22h0m1-12h0m10-25h0m24 28h0m1 0h0m8 3h0m2 9h0m1 13h0m58-6h0m-182 92h0m58 92h0m1-12h0m17 21h0m91 0h0m13 21h0m1-46h0m39 41h0m0-12h0m2-8h0m48 29h0m1-29h0m1-13h0m29 29h0m82-8h0m58 0h0m-566 100h0m91 0h0m74 0h0m82-6h0m68 19h0m0-13h0m19 13h0m52-7h0m133-12h0m38 12h0m77-6h0m19 6h0m-423 203h0m108 9h0m55-9h0m-180 99h0m20 0h0m12 5h0m56 6h0m58-6h0m15 6h0m15 0h0m25-11h0m73 0h0m82 5h0m64 0h0m27 11h0m-241 99h0m52-11h0m137 11h0m41 0h0m-189 80h0m118 7h0m-171 117h0m21-10h0m66-9h0m41 9h0m43 28h0m307-18h0" stroke="#794cce" stroke-width="17.0" stroke-linecap="round" fill="none"/>
<path transform="scale(0.1000,0.1)" d="M1337 1686h0m0 21h0m30-25h0m9 4h0m4 4h0m50-12h0m30-4h0m7-17h0m84-9h0m13 34h0m22 0h0m49 0h0m5 4h0m2-12h0m163 4h0m33 4h0m-549 100h0m196 19h0m13-19h0m17 6h0m11 7h0m108-13h0m24 6h0m27 7h0m357-13h0m-571 209h0m37 0h0m7 9h0m8-18h0m271 9h0m285-19h0m2 28h0m-326 106h0m26-5h0m40 5h0m10-5h0m-256 109h0m25 0h0m16-16h0m26-5h0m78 5h0m27 16h0m263-5h0m1-11h0m-679 110h0m63 0h0m48 0h0m76 0h0m66-6h0m1 12h0m28-12h0m169 6h0m22-6h0m4 6h0m-189 95h0m30 38h0m139-38h0m7 0h0m3 19h0m242-9h0m1 9h0" stroke="#9233b9" stroke-width="17.0" stroke-linecap="round" fill="none"/>
<path transform="scale(0.1000,0.1)" d="M2105 1463h0m0 12h0m-737 211h0m3-25h0m68 17h0m69-4h0m71 20h0m7 17h0m2-58h0m33 29h0m8 4h0m13-17h0m71 13h0m37-8h0m130 8h0m-384 106h0m64 0h0m22-6h0m14 6h0m126-6h0m105 6h0m-201 194h0m19-10h0m-83 238h0m55 6h0m6-6h0m27-10h0m25-11h0m122 0h0m-425 115h0m9 0h0m46 6h0m37-12h0m128 6h0m23 0h0m21 6h0m38 0h0m148-12h0m1 12h0m-279 80h0m8 28h0m166 0h0m18-9h0m49 9h0m260-19h0m67 10h0m13 0h0" stroke="#aa17a7" stroke-width="17.0" stroke-linecap="round" fill="none"/>
<path transform="scale(0.1000,0.1)" d="M2143 1463h0m10 0h0m-467 219h0m22 0h0m51-4h0m116-9h0m17 13h0m7-4h0m-414 98h0m141-6h0m10 25h0m362-13h0m-382 209h0m23 19h0m16-19h0m35 0h0m26 0h0m17 0h0m18-9h0m15 28h0m178-19h0m-338 214h0m170 0h0m-255 99h0m50 0h0m41-25h0m90 25h0m21-6h0m11 6h0m102 0h0m-253 105h0m6 0h0m26 18h0" stroke="#c5009a" stroke-width="17.0" stroke-linecap="round" fill="none"/>
<path transform="scale(0.1000,0.1)" d="M2060 1472h0m18 0h0m69-3h0m-466 221h0m197-16h0m10 4h0m79-9h0m21 13h0m11-4h0m-528 110h0m181-12h0m29 12h0m37-6h0m5 13h0m21-7h0m1 0h0m-105 194h0m84 9h0m140-19h0m7 19h0m10-9h0m-305 218h0m17 16h0m12-11h0m0-16h0m13 16h0m39 0h0m1 22h0m40-33h0m86 16h0m55-10h0m440 0h0m-704 110h0m38 0h0m95-6h0m71 6h0m17-18h0m34 18h0m-336 108h0m47 0h0m98 0h0m25-9h0m13-19h0m6 19h0m101-19h0" stroke="#db008a" stroke-width="17.0" stroke-linecap="round" fill="none"/>
<path transform="scale(0.1000,0.1)" d="M2006 1469h0m-129 209h0m72 0h0m12 0h0m86 4h0m65-8h0m9 8h0m-645 119h0m81-19h0m62-6h0m9 0h0m229-6h0m140 18h0m42-12h0m16 6h0m28-6h0m-376 215h0m41 0h0m9 0h0m145 0h0m6 0h0m22 0h0m-365 203h0m52-10h0m121 16h0m55-6h0m24 6h0m52 5h0m-136 93h0m19 6h0m-224 105h0m35 0h0m19 28h0m76-28h0" stroke="#ec0078" stroke-width="17.0" stroke-linecap="round" fill="none"/>
<path transform="scale(0.1000,0.1)" d="M1893 1469h0m103 3h0m28 0h0m1-6h0m69 12h0m30 0h0m51-9h0m1 25h0m0-13h0m31-12h0m12 0h0m98 0h0m18-6h0m0 12h0m51-3h0m3-3h0m79 0h0m-1504 104h0m7 0h0m25 0h0m13 4h0m10-8h0m947 125h0m25-20h0m64 8h0m45-4h0m29 8h0m-537 90h0m262 12h0m-585 212h0m33-9h0m11 9h0m17-9h0m330-9h0m43 28h0m44-10h0m26 19h0m115-19h0m29 0h0m-328 200h0m18 0h0m263 27h0m0-49h0m1 38h0m56-16h0m211 0h0m33 0h0m76 5h0m-739 93h0m60 12h0m155 7h0m76-7h0m-237 89h0m3 19h0m63-28h0m17 47h0m0-38h0m90 19h0" stroke="#fa0065" stroke-width="17.0" stroke-linecap="round" fill="none"/>
<path transform="scale(0.1000,0.1)" d="M2007 1472h0m167 0h0m2-12h0m47 12h0m114-3h0m-1378 108h0m51 9h0m32-4h0m930 79h0m160 21h0m-680 210h0m1-8h0m1-3h0m1 14h0m2-17h0m3 23h0m7-23h0m1 20h0m7-17h0m3 37h0m0-3h0m6-37h0m0-6h0m0-3h0m3 23h0m5-11h0m1 6h0m1 5h0m1-3h0m0-17h0m2-6h0m0 35h0m2 20h0m0-23h0m2 12h0m2-52h0m4 52h0m1-41h0m2 46h0m1-14h0m1-40h0m1 26h0m3-3h0m1 3h0m0-6h0m2-6h0m1-23h0m2 17h0m0 29h0m1-14h0m2 34h0m0-55h0m1 32h0m0-40h0m2 37h0m0 9h0m2 17h0m2-34h0m0-9h0m1-17h0m2 11h0m1 52h0m0-43h0m2 14h0m1-23h0m1 35h0m1-41h0m2 3h0m0 32h0m1-3h0m1 15h0m1-23h0m0 20h0m2-15h0m1 6h0m1-14h0m0-12h0m1 29h0m5 3h0m3-29h0m1 26h0m4-9h0m1-26h0m1 32h0m4-23h0m0 6h0m5 20h0m2-38h0m0 44h0m1-6h0m0-3h0m7-23h0m0 17h0m1-23h0m-323 113h0m47 9h0m319 0h0m120 9h0m4 10h0m126-28h0m-297 218h0m563 0h0m-615 104h0m292-12h0m0 25h0m4-13h0m-267 114h0m29 0h0m110-19h0" stroke="#ff0051" stroke-width="17.0" stroke-linecap="round" fill="none"/>
<path transform="scale(0.1000,0.1)" d="M1275 1475h0m6-15h0m12 9h0m12 16h0m31-35h0m5-9h0m7 19h0m22 28h0m3-7h0m17-25h0m35-6h0m-10 107h0m0-13h0m36 33h0m96-20h0m33 0h0m23 16h0m71-4h0m214 4h0m65-4h0m204 4h0m77 13h0m28-13h0m-1199 113h0m3 4h0m18-12h0m27 12h0m12-4h0m8-8h0m23 8h0m17 0h0m166 90h0m43 6h0m10 0h0m33-6h0m1 37h0m1-56h0m0 50h0m700-19h0m-154 99h0m23 0h0m33 0h0m13 5h0m2-8h0m8 5h0m21-5h0m15 3h0m17-3h0m8 5h0m2-2h0m17 2h0m7-2h0m311 0h0m-978 95h0m350 0h0m6 18h0m-727 95h0m13 6h0m148 0h0m330 0h0m3-6h0m28 11h0m11-38h0m15 33h0m38 5h0m342 5h0m-574 99h0m14 0h0m41-21h0m0 5h0m200 116h0m107-6h0m47 0h0m4-6h0m5 0h0m143 6h0m-706 105h0m3 9h0m104-9h0" stroke="#008bfb" stroke-width="17.0" stroke-linecap="round" fill="none"/>
<path transform="scale(0.1000,0.1)" d="M1258 1472h0m55-19h0m7 16h0m5-22h0m16 9h0m2 29h0m8-22h0m0-16h0m4 3h0m2 31h0m9-12h0m3 6h0m9-22h0m23 44h0m5-16h0m20-25h0m38 16h0m-326 97h0m10 13h0m71 8h0m3-29h0m1 21h0m145-9h0m48 25h0m1-12h0m4-17h0m13 0h0m1 4h0m41 17h0m1-33h0m4-9h0m0 13h0m1 8h0m14 17h0m5-13h0m12-4h0m13-4h0m3 12h0m19-4h0m31-25h0m0 25h0m1 9h0m0-30h0m1 38h0m8 17h0m24-13h0m1 9h0m0-55h0m0 13h0m37 16h0m8 5h0m17-9h0m169 4h0m52-4h0m52 4h0m11-12h0m13 21h0m137-4h0m2-5h0m27-8h0m31 8h0m50-4h0m20 0h0m5-8h0m20 25h0m7-8h0m8 4h0m67-13h0m-1301 113h0m20-4h0m28-4h0m17 0h0m1 8h0m4-4h0m9-8h0m22-5h0m18 9h0m111 4h0m154-8h0m189 4h0m7-9h0m-353 126h0m6-7h0m122-6h0m24 13h0m342-13h0m107 6h0m252-6h0m173 0h0m1 6h0m-806 203h0m32 0h0m20 9h0m269-9h0m0-19h0m15 0h0m8 10h0m20 9h0m0 9h0m-503 95h0m1 6h0m33-6h0m44 16h0m73-21h0m22-5h0m97-6h0m2-5h0m13 0h0m1 5h0m5 16h0m10 22h0m3-11h0m11 0h0m58-11h0m17 0h0m130 0h0m39 6h0m113 16h0m1-27h0m-630 110h0m91-6h0m15 6h0m38-6h0m-51 116h0m239-6h0m26-12h0m118 18h0m20-6h0m4 0h0m55 0h0m60 6h0m-653 108h0m13-9h0m48 0h0m32 0h0m20 0h0m401 0h0m7 0h0" stroke="#007ef6" stroke-width="17.0" stroke-linecap="round" fill="none"/>
<path transform="scale(0.1000,0.1)" d="M1267 1456h0m52-3h0m3 7h0m19 34h0m6-25h0m1 9h0m8-34h0m1 9h0m7 19h0m15 13h0m3-4h0m15-40h0m14 28h0m5-13h0m5 10h0m31 9h0m48-6h0m-397 104h0m14 4h0m34 0h0m60-8h0m19 17h0m75-4h0m51-9h0m57 30h0m3-34h0m24 17h0m2-25h0m34 4h0m86 17h0m13-13h0m6 29h0m0-4h0m7-8h0m11-9h0m25-4h0m11 4h0m40 0h0m2 5h0m37-13h0m66 4h0m109-8h0m83 25h0m87-21h0m34 0h0m58 4h0m35 0h0m57 17h0m16-4h0m65-9h0m3-4h0m-1256 96h0m101 13h0m20 0h0m72-4h0m8 0h0m45 0h0m32 4h0m25-4h0m4-13h0m43 21h0m13-4h0m78-4h0m31 0h0m32 0h0m30-9h0m183 17h0m-476 96h0m112 6h0m44 13h0m198-31h0m59 18h0m15-12h0m24 12h0m421-6h0m79 0h0m-914 200h0m16 9h0m96 9h0m358 0h0m7 19h0m25-37h0m-567 119h0m70 0h0m22-11h0m35 5h0m19-10h0m5 5h0m9 5h0m50 6h0m54-6h0m23 0h0m13 6h0m38-6h0m0 6h0m5 16h0m4-32h0m6 32h0m18-16h0m0-22h0m20 16h0m2-16h0m25 22h0m47-6h0m19-5h0m135 5h0m-562 215h0m164 0h0m82-18h0m45 18h0m9-12h0m-258 111h0m19 0h0m31 0h0m44 9h0m152 0h0m36 9h0" stroke="#006fed" stroke-width="17.0" stroke-linecap="round" fill="none"/>
<path transform="scale(0.1000,0.1)" d="M1274 1478h0m71-40h0m3 56h0m16-16h0m5-12h0m17-6h0m23 25h0m2 3h0m16-28h0m2-7h0m54 16h0m-190 100h0m15-8h0m31 16h0m83 5h0m37-17h0m1 29h0m136-29h0m4-4h0m11 29h0m20-25h0m5 12h0m430-4h0m39-4h0m38 0h0m44 8h0m-839 97h0m28-5h0m123-4h0m1 25h0m49 17h0m6-21h0m72-4h0m7 8h0m124-4h0m20-4h0m11-8h0m18 8h0m-641 100h0m22-6h0m33 12h0m103-12h0m144 31h0m1 6h0m204-31h0m-331 209h0m133 19h0m65-28h0m318 0h0m-493 119h0m13-6h0m53 6h0m37-6h0m43 6h0m50 0h0m64 10h0m29-26h0m181 5h0m-381 115h0m-11 105h0m22-6h0m171 0h0m31 6h0m91 7h0m29-13h0m6 0h0m209 0h0m2 0h0m-459 95h0m121 0h0m8 19h0m3 9h0m89-18h0" stroke="#575fdf" stroke-width="17.0" stroke-linecap="round" fill="none"/>
<path transform="scale(0.1000,0.1)" d="M1252 1469h0m48 9h0m7 7h0m5-35h0m11-6h0m10 19h0m1-19h0m3 37h0m1-12h0m6-3h0m7-22h0m32 0h0m2 50h0m13-31h0m2-3h0m1-7h0m4 7h0m21 18h0m17-6h0m12 3h0m0 6h0m-81 201h0m37-25h0m6 25h0m49 4h0m34-25h0m1 25h0m71 0h0m13-17h0m6 5h0m19 8h0m62-8h0m25 4h0m44 0h0m15 4h0m9-4h0m62 4h0m-627 100h0m144 0h0m20-6h0m105 12h0m41-6h0m195-6h0m87 12h0m42 0h0m12-6h0m47 0h0m-541 228h0m487-10h0m-473 95h0m148-5h0m113 38h0m15-6h0m30-11h0m6-21h0m126 5h0m-169 115h0m27 11h0m124-21h0m223 0h0m-408 98h0m119 6h0m7-6h0m2 25h0m27-25h0m-248 129h0m140-47h0m2 29h0m2-19h0m6 28h0m130-9h0m318 0h0" stroke="#794cce" stroke-width="17.0" stroke-linecap="round" fill="none"/>
<path transform="scale(0.1000,0.1)" d="M1337 1665h0m0 25h0m1-16h0m1 29h0m42-25h0m29 4h0m1 12h0m48-16h0m1 12h0m1-8h0m39 4h0m40-4h0m13-4h0m18 4h0m10-17h0m1-17h0m125 30h0m24 0h0m21 8h0m3-12h0m-648 108h0m223 6h0m221-6h0m64-19h0m1 19h0m9-12h0m66 18h0m27 7h0m-289 196h0m8 9h0m2-18h0m20 0h0m179 18h0m441-18h0m1 9h0m-276 115h0m5-16h0m31 5h0m-203 99h0m6 22h0m51-11h0m23-5h0m87 0h0m-384 110h0m115 0h0m54-12h0m79 6h0m55 6h0m39-6h0m34-6h0m-128 101h0m94 19h0m306 0h0" stroke="#9233b9" stroke-width="17.0" stroke-linecap="round" fill="none"/>
<path transform="scale(0.1000,0.1)" d="M2118 1469h0m50-3h0m-794 208h0m13 8h0m31-4h0m54 4h0m108 4h0m1-25h0m4 42h0m4-17h0m18-8h0m16-4h0m40 0h0m130 4h0m-294 98h0m118 12h0m47 0h0m28 7h0m115-13h0m19 0h0m-55 209h0m28 0h0m147 0h0m-290 187h0m2-5h0m1-5h0m0 26h0m18 11h0m10 0h0m114-11h0m22 6h0m14 0h0m-412 104h0m39 6h0m149-18h0m209 31h0m0 6h0m2-50h0m-276 101h0m2 47h0m82-28h0m82 38h0" stroke="#aa17a7" stroke-width="17.0" stroke-linecap="round" fill="none"/>
<path transform="scale(0.1000,0.1)" d="M2165 1469h0m4 3h0m-517 206h0m91 4h0m33-13h0m24 5h0m-228 121h0m267-13h0m204 6h0m29 0h0m-414 203h0m98 9h0m11 0h0m225-9h0m-410 214h0m77-5h0m5 10h0m38-10h0m55 0h0m5-6h0m-81 110h0m141-19h0m2 50h0m-331 64h0m89 28h0m24-28h0m107-9h0m15 19h0m34 0h0" stroke="#c5009a" stroke-width="17.0" stroke-linecap="round" fill="none"/>
<path transform="scale(0.1000,0.1)" d="M1917 1469h0m152 0h0m37 9h0m-113 200h0m-516 117h0m28 0h0m16-19h0m0 6h0m56 0h0m101-6h0m27 6h0m72-6h0m9 19h0m-140 196h0m7 9h0m94-18h0m9 9h0m163 0h0m56 0h0m-378 209h0m50-6h0m36 0h0m93 6h0m20 0h0m457 0h0m-692 104h0m32 6h0m117-6h0m1-6h0m-215 129h0m48-18h0m71 18h0m81-9h0m9-9h0m27-10h0m41 19h0" stroke="#db008a" stroke-width="17.0" stroke-linecap="round" fill="none"/>
<path transform="scale(0.1000,0.1)" d="M1903 1472h0m87 0h0m28-3h0m9 6h0m38-9h0m28 6h0m20-9h0m7 12h0m32 0h0m56-9h0m8 6h0m11-3h0m141 0h0m-1424 104h0m85 4h0m1002 101h0m73 4h0m-628 100h0m104 6h0m123 0h0m-65 203h0m6 19h0m43-10h0m12-18h0m64-10h0m108 28h0m23 0h0m-306 194h0m17 0h0m52 22h0m-137 94h0m19-12h0m4 6h0m83-6h0m98 12h0m17-6h0m82 0h0m-274 105h0m63 9h0m132-9h0" stroke="#ec0078" stroke-width="17.0" stroke-linecap="round" fill="none"/>
<path transform="scale(0.1000,0.1)" d="M1892 1472h0m2-6h0m37 3h0m49 0h0m40-6h0m77 6h0m11 12h0m49-12h0m17-16h0m1 3h0m1 29h0m0 6h0m138-25h0m132 3h0m24 9h0m0-12h0m-1561 111h0m45 0h0m49-12h0m29 8h0m25-4h0m892 113h0m14-17h0m4 13h0m86 0h0m61 0h0m21 0h0m-865 313h0m32 9h0m317 0h0m38-18h0m7 18h0m14-9h0m37 0h0m53-9h0m6 0h0m5 9h0m95 9h0m-267 184h0m29 16h0m46 10h0m83-10h0m104-6h0m0-5h0m1 11h0m403 0h0m-746 110h0m119 117h0m29 10h0" stroke="#fa0065" stroke-width="17.0" stroke-linecap="round" fill="none"/>
<path transform="scale(0.1000,0.1)" d="M1976 1469h0m78-3h0m20 6h0m101-6h0m1-3h0m0 25h0m52-22h0m85 6h0m134 0h0m6-6h0m19-3h0m-1470 119h0m947 92h0m174 12h0m4 4h0m13-8h0m2-4h0m-689 223h0m0-26h0m5 29h0m1-20h0m2 14h0m3-11h0m1 2h0m1 6h0m4 0h0m1 9h0m3-15h0m0-14h0m3-12h0m1 47h0m2-12h0m1 15h0m0-6h0m2-18h0m1 12h0m2-46h0m0 20h0m1 23h0m8 6h0m0-3h0m1-32h0m0 6h0m2-3h0m1-9h0m4 26h0m1-28h0m0 31h0m1-23h0m0 15h0m1 31h0m0-28h0m1 8h0m0 23h0m1-55h0m5-5h0m0 8h0m1 23h0m2 18h0m0-12h0m1 20h0m0-54h0m0 17h0m1 26h0m2 3h0m0 6h0m7-6h0m0-12h0m4-14h0m0-18h0m1 24h0m2-15h0m1 41h0m1-15h0m0 6h0m7-32h0m2 29h0m0-20h0m3-12h0m1 20h0m7-2h0m2 8h0m1-26h0m0 35h0m2-26h0m3 9h0m2-3h0m1-12h0m2 15h0m0-9h0m1 6h0m0 5h0m2 3h0m3 12h0m3-17h0m2 23h0m1-29h0m3 23h0m0-20h0m2 5h0m1-5h0m2 3h0m-297 104h0m339 28h0m15-19h0m113-18h0m106 28h0m62-10h0m0-9h0m-362 209h0m20-6h0m10 16h0m116-10h0m160 10h0m286-10h0m12 5h0m-541 93h0m105 19h0m-146 73h0m19 0h0m29 9h0m65 28h0m29-9h0" stroke="#ff0051" stroke-width="17.0" stroke-linecap="round" fill="none"/>
<path transform="scale(0.1000,0.1)" d="M1266 1469h0m47-6h0m13 25h0m14-22h0m23 31h0m30-12h0m9-35h0m-306 123h0m352-21h0m5 9h0m24 4h0m2 8h0m6 9h0m61-17h0m52 21h0m11-13h0m5-21h0m41 17h0m319 13h0m66-9h0m85 0h0m108-4h0m1 8h0m11-8h0m4 4h0m12-12h0m22 4h0m1 17h0m-1234 96h0m9-4h0m13 0h0m23 4h0m31 0h0m15 4h0m58-8h0m66 108h0m14-6h0m869 6h0m-224 105h0m83 0h0m27 2h0m16-5h0m16 5h0m8-2h0m11 2h0m30 0h0m3-5h0m0 3h0m38 5h0m3-3h0m1-8h0m1-3h0m119 9h0m84 0h0m-932 113h0m8 10h0m30-38h0m48 38h0m-413 85h0m11 0h0m15 0h0m1 0h0m183 0h0m62 6h0m139 0h0m47-6h0m54-16h0m8 22h0m1 5h0m6 16h0m11-11h0m14-37h0m226 21h0m2 0h0m144-16h0m-578 126h0m10-16h0m1 11h0m-17 110h0m395-6h0m25 6h0m19-6h0m-522 105h0m28-19h0m24 28h0m51-9h0m405 0h0" stroke="#008bfb" stroke-width="17.0" stroke-linecap="round" fill="none"/>
<path transform="scale(0.1000,0.1)" d="M1254 1475h0m5 0h0m18 6h0m18 0h0m2-21h0m3 15h0m1-3h0m33 3h0m11-19h0m9-3h0m17 16h0m3 3h0m6-3h0m3 3h0m2-25h0m3 44h0m8-19h0m16 0h0m1-22h0m17 13h0m34 15h0m-366 99h0m22-8h0m8 13h0m99-5h0m182-29h0m7 13h0m1 46h0m0-34h0m2-8h0m8 8h0m19-8h0m21 4h0m10 21h0m11-4h0m11-4h0m6-13h0m6 17h0m7-13h0m11-4h0m15-21h0m0 29h0m2 13h0m20-29h0m15 0h0m32 16h0m1 21h0m9-12h0m20-17h0m14 4h0m63 0h0m9 4h0m50-8h0m4 4h0m179 4h0m11-8h0m71 4h0m72-8h0m5 4h0m16 8h0m38-4h0m80 9h0m17-9h0m63 0h0m-1285 101h0m3 8h0m5 4h0m23-12h0m15 8h0m60-4h0m5-4h0m1 8h0m29-8h0m1 12h0m3-4h0m1-4h0m26 0h0m20 0h0m67 0h0m19 0h0m-84 110h0m38 7h0m47-13h0m95-19h0m717 25h0m125 0h0m-227 93h0m-632 110h0m5 9h0m413-37h0m7 47h0m7 0h0m7 9h0m3-47h0m1 19h0m-591 104h0m3 6h0m59-6h0m15 0h0m20-5h0m26 16h0m148-16h0m77 5h0m29-27h0m1 33h0m3-6h0m24 6h0m14 0h0m9-11h0m19 0h0m18 16h0m22-5h0m30-6h0m18 6h0m20-11h0m42 5h0m57 0h0m114 0h0m2 11h0m-646 94h0m52 0h0m-70 104h0m64-6h0m124 6h0m93 6h0m222 0h0m2-6h0m5 0h0m11 6h0m9-12h0m0 12h0m-421 89h0m389 19h0m33 0h0m5-9h0m4 9h0" stroke="#007ef6" stroke-width="17.0" stroke-linecap="round" fill="none"/>
<path transform="scale(0.1000,0.1)" d="M1259 1478h0m19-25h0m3 16h0m31 25h0m5-3h0m3-57h0m1 51h0m11-13h0m21 0h0m1 16h0m10-41h0m7 16h0m2-13h0m1 10h0m25 21h0m6-18h0m2 12h0m5-28h0m21 22h0m7 9h0m4-12h0m13-3h0m-349 114h0m6-8h0m16 4h0m153 0h0m132-33h0m41 29h0m6 21h0m13-29h0m0 21h0m0-5h0m1 17h0m63-12h0m5 25h0m2-21h0m4-13h0m17 17h0m12-25h0m2 38h0m32 4h0m0-63h0m13 25h0m3 13h0m6 8h0m77-13h0m9-12h0m173 12h0m73-8h0m5-4h0m3 12h0m6-4h0m240 4h0m20-12h0m8 21h0m13-9h0m90 0h0m-1146 105h0m7-4h0m183 0h0m15 0h0m56 29h0m199-29h0m29 4h0m90-8h0m-600 108h0m45 0h0m632 0h0m7 0h0m32 0h0m227 6h0m8-6h0m-793 218h0m99-9h0m405 19h0m-569 85h0m25 0h0m106 0h0m121 11h0m126 5h0m20-5h0m13-5h0m11-16h0m3 10h0m32 11h0m27-5h0m9 0h0m45-6h0m-388 105h0m113 0h0m40 104h0m38-6h0m115 25h0m-342 95h0m51-9h0m6 9h0m154 0h0m172-19h0" stroke="#006fed" stroke-width="17.0" stroke-linecap="round" fill="none"/>
<path transform="scale(0.1000,0.1)" d="M1270 1453h0m11 32h0m1-25h0m5 6h0m1 9h0m11-19h0m8 19h0m17 25h0m5-62h0m0 53h0m4-13h0m13 22h0m8-25h0m4 25h0m24-3h0m1-22h0m3 3h0m8-3h0m20 3h0m1-25h0m15 19h0m28-19h0m29 19h0m-31 85h0m45 8h0m53 12h0m59 5h0m21-21h0m94 21h0m367-9h0m26 4h0m-712 109h0m0-17h0m62 9h0m28 0h0m92 0h0m13 8h0m49-4h0m4 4h0m6-17h0m20 5h0m137 4h0m-543 104h0m190-19h0m183 19h0m20 13h0m50-25h0m-368 230h0m107 0h0m82-9h0m282 19h0m-402 91h0m174-11h0m22 21h0m42-16h0m159 6h0m4-11h0m2 11h0m-370 93h0m11 0h0m11 6h0m5 0h0m23 5h0m19-5h0m66 5h0m192 0h0m-434 99h0m11 0h0m179 0h0m23 6h0m35-6h0m130-12h0m-237 117h0m32 9h0m100-9h0m19 0h0m36 0h0m4 9h0m15 0h0m90 9h0" stroke="#575fdf" stroke-width="17.0" stroke-linecap="round" fill="none"/>
<path transform="scale(0.1000,0.1)" d="M1266 1485h0m13-22h0m29 15h0m28 13h0m75 0h0m8-6h0m4-4h0m1 10h0m15-25h0m23 22h0m0-28h0m9 12h0m-175 105h0m41 122h0m1-17h0m72-8h0m1 16h0m48-29h0m41 8h0m49 13h0m1 8h0m31-33h0m52 8h0m43 13h0m69 0h0m67 4h0m18-8h0m-546 102h0m36 12h0m40 0h0m3-6h0m4 6h0m120-6h0m90 6h0m0-18h0m-167 212h0m129 18h0m3 10h0m17-19h0m-176 94h0m46 5h0m67 5h0m17 0h0m15 16h0m96-26h0m46 5h0m40 5h0m89 0h0m-205 94h0m48 16h0m49-11h0m123 11h0m-319 99h0m118 25h0m2-12h0m11-13h0m87 6h0m81 7h0m-138 110h0m460-9h0m80-9h0" stroke="#794cce" stroke-width="17.0" stroke-linecap="round" fill="none"/>
<path transform="scale(0.1000,0.1)" d="M1338 1694h0m1-41h0m8 8h0m5 8h0m58-8h0m50 4h0m0 4h0m0 25h0m120 13h0m15-25h0m38-4h0m9 16h0m55-20h0m87 4h0m26 0h0m-579 98h0m37 12h0m255 0h0m115 0h0m60-18h0m23 6h0m29 0h0m107 0h0m163 12h0m1-12h0m-609 215h0m55 0h0m8 9h0m152-28h0m453 38h0m0 9h0m-409 76h0m65 6h0m-425 99h0m304 16h0m6-16h0m37 32h0m351-22h0m-615 100h0m220 7h0m58-13h0m132 0h0m3 6h0m-176 117h0m33-9h0m54-19h0m82 10h0m270 0h0" stroke="#9233b9" stroke-width="17.0" stroke-linecap="round" fill="none"/>
<path transform="scale(0.1000,0.1)" d="M2149 1466h0m8 0h0m-816 182h0m4 63h0m7-25h0m12-12h0m4 4h0m173-4h0m32 0h0m59 4h0m38 4h0m17-13h0m27 9h0m19 4h0m43 4h0m98-8h0m11 8h0m-414 77h0m125 19h0m100-6h0m26 0h0m49 6h0m21-12h0m102 18h0m159-6h0m29 0h0m-404 218h0m267 0h0m-336 189h0m62 11h0m3 5h0m76 0h0m-287 99h0m29 6h0m122 13h0m19-6h0m59-13h0m38-19h0m67 38h0m31-25h0m-300 120h0m20 19h0m102-19h0m42-9h0m21 0h0" stroke="#aa17a7" stroke-width="17.0" stroke-linecap="round" fill="none"/>
<path transform="scale(0.1000,0.1)" d="M2139 1475h0m22-3h0m-720 202h0m221 4h0m19 8h0m47-12h0m64 8h0m81 0h0m24-8h0m-416 102h0m50 6h0m45-6h0m45 25h0m28-13h0m34-6h0m15 13h0m296-13h0m87 6h0m-455 212h0m6-37h0m83 37h0m232 0h0m-381 205h0m92-16h0m52 16h0m85 5h0m35-5h0m9 0h0m-223 105h0m27-6h0m152 6h0m-197 99h0m10-10h0m45 0h0m93 19h0m57-9h0" stroke="#c5009a" stroke-width="17.0" stroke-linecap="round" fill="none"/>
<path transform="scale(0.1000,0.1)" d="M2042 1469h0m44-3h0m2 3h0m3-3h0m1-3h0m15-3h0m1 12h0m12 0h0m23 0h0m-264 214h0m16-12h0m3 8h0m65 0h0m-473 88h0m4 18h0m125 7h0m160-7h0m70 0h0m145 0h0m-382 194h0m8 9h0m125-19h0m34 28h0m2-9h0m-246 326h0m79-13h0m9 6h0m6-6h0m23 6h0m12 7h0m73-7h0m8-6h0m12 6h0m5 0h0m-262 99h0m125 0h0m44 18h0" stroke="#db008a" stroke-width="17.0" stroke-linecap="round" fill="none"/>
<path transform="scale(0.1000,0.1)" d="M1962 1469h0m1 3h0m98-3h0m32 6h0m16-9h0m50 12h0m-1149 91h0m10 8h0m951 109h0m23-4h0m30-4h0m22 0h0m-568 92h0m274 12h0m11-6h0m37 6h0m272 0h0m-441 228h0m41-19h0m55 9h0m7 0h0m11 10h0m120-28h0m4 37h0m43-37h0m0 18h0m-307 216h0m2-6h0m10-21h0m34 16h0m23-5h0m18 0h0m53-6h0m394 11h0m113-11h0m4 6h0m-664 117h0m10-7h0m5-6h0m217-31h0m-334 136h0m195-10h0m17 10h0m74 0h0m4 9h0" stroke="#ec0078" stroke-width="17.0" stroke-linecap="round" fill="none"/>
<path transform="scale(0.1000,0.1)" d="M1869 1469h0m133 0h0m102 0h0m29 0h0m41-19h0m0-3h0m158 22h0m47 0h0m64 6h0m30 0h0m-1568 98h0m28 0h0m64 4h0m9-4h0m19 0h0m6-4h0m19 4h0m912 117h0m2-16h0m33 12h0m44 0h0m58-12h0m1 12h0m19-8h0m7-4h0m-386 108h0m59 6h0m231-6h0m21 6h0m-792 203h0m16 0h0m1 9h0m4 0h0m2-9h0m13 9h0m318 0h0m30 19h0m59-19h0m75-28h0m0 38h0m8-10h0m93 10h0m6-19h0m6 0h0m-318 203h0m34-10h0m51 0h0m29 26h0m62-10h0m35-6h0m8 22h0m6-11h0m74-21h0m-353 126h0m42 0h0m19-12h0m167 12h0m-122 127h0m16-10h0" stroke="#fa0065" stroke-width="17.0" stroke-linecap="round" fill="none"/>
<path transform="scale(0.1000,0.1)" d="M1882 1469h0m238-3h0m43 9h0m11 3h0m2-3h0m25-3h0m112 3h0m24-9h0m8 6h0m123 0h0m-1555 101h0m57 4h0m82 0h0m945 97h0m42 0h0m57-5h0m16 13h0m15-8h0m1-5h0m-676 229h0m2-20h0m2 11h0m1-2h0m2-6h0m1 11h0m3-17h0m3-3h0m1 12h0m0 3h0m1-18h0m1 3h0m4 29h0m1-9h0m5-11h0m1 6h0m1-29h0m0 3h0m0 5h0m2 29h0m1-11h0m0 20h0m5-26h0m3 17h0m0 12h0m1-23h0m1-18h0m2 44h0m1-29h0m1 32h0m1-6h0m0-32h0m1 43h0m1-14h0m3-49h0m3 23h0m0-3h0m2 17h0m0 12h0m2-26h0m0 3h0m2-9h0m3 41h0m0-15h0m1 3h0m3-29h0m1 20h0m1 29h0m1-63h0m1 52h0m1-21h0m1-23h0m1-14h0m3 3h0m0 60h0m1-54h0m0 5h0m3 44h0m2-21h0m1 24h0m1-35h0m2-3h0m1 14h0m0-5h0m6-9h0m1 32h0m2-12h0m1-14h0m1-3h0m9 3h0m1 26h0m4-18h0m0-17h0m1 23h0m8 3h0m2-26h0m0 6h0m4 17h0m3-29h0m2 23h0m2 3h0m-275 99h0m331-9h0m117 28h0m106-19h0m-260 230h0m106-16h0m102-11h0m55 27h0m-356 178h0m2 19h0m21-19h0m76 38h0m0-28h0m174 28h0" stroke="#ff0051" stroke-width="17.0" stroke-linecap="round" fill="none"/>
<path transform="scale(0.1000,0.1)" d="M3965 1418h0m-50 19h0m53 119h0m36 0h0m14-119h0m27 0h0m10 20h0m-237 105h0m122 242h0m351-112h0m51-6h0m150 23h0m0-17h0m30 0h0m7-6h0m1 12h0m-257 353h0m185-109h0m69 0h0m41-7h0m167 13h0m-762 121h0m151 0h0m339 106h0m-69 9h0m5 0h0m1 0h0m11 18h0m0-4h0m3 104h0m28-118h0m19 5h0m33-5h0m37 5h0m10-5h0m44 5h0m-510 120h0m110 0h0m24 0h0m3 19h0m15-19h0m39 117h0m160-117h0m18 0h0m-244 132h0m24-8h0m19 0h0m10 0h0m17 15h0m9 0h0" stroke="#008bfb" stroke-width="19.0" stroke-linecap="round" fill="none"/>
<path transform="scale(0.1000,0.1)" d="M3914 1431h0m78-6h0m69 0h0m7 0h0m12 0h0m56 6h0m-384 125h0m22 0h0m139-112h0m47 0h0m73 0h0m4 13h0m17-20h0m7 13h0m10 13h0m3-13h0m38 7h0m1-7h0m27 13h0m1 88h0m6-101h0m8 7h0m-406 116h0m304-6h0m2-5h0m50 0h0m95 0h0m101 119h0m73 0h0m87 0h0m72 0h0m-676 123h0m424-12h0m103-100h0m22-6h0m14 0h0m40 12h0m21-12h0m5 34h0m16-22h0m3 5h0m138-11h0m-805 125h0m14-6h0m42 13h0m61-7h0m103-6h0m284 6h0m35 0h0m358 99h0m0 7h0m-628 128h0m158 0h0m160-96h0m10-13h0m12 0h0m79-7h0m-512 125h0m34 0h0m24 9h0m52 233h0m81 0h0m90-12h0m92-106h0m24-4h0m4 122h0m116-118h0m87 0h0m-562 125h0m31 13h0m46-13h0m24 0h0m7 0h0m0 6h0m27 111h0m25-92h0m36-25h0m14 109h0m17-15h0m130-94h0m-230 124h0m8 0h0m20 0h0m6 0h0m15 0h0m17 0h0m13 0h0m17 0h0" stroke="#007ef6" stroke-width="19.0" stroke-linecap="round" fill="none"/>
<path transform="scale(0.1000,0.1)" d="M4095 1418h0m57-13h0m-190 45h0m12-13h0m14 13h0m2 19h0m90-19h0m116-6h0m5 0h0m4-7h0m-451 125h0m37 0h0m142 0h0m40 0h0m41 5h0m65-5h0m62 11h0m76-11h0m10 0h0m303 113h0m21-17h0m2 6h0m-615 134h0m309-106h0m32 0h0m6 106h0m184-106h0m15 0h0m31 11h0m3-5h0m18 11h0m15-6h0m2 23h0m-490 85h0m15 0h0m5 6h0m354-6h0m73 112h0m18-93h0m57-19h0m-350 240h0m165-103h0m140-13h0m19 0h0m4 7h0m-568 118h0m119 0h0m7 0h0m61 9h0m36 227h0m13-19h0m-107 38h0m5 0h0m44 0h0m1-6h0m43 13h0m27-13h0m2 117h0m10-117h0m14 94h0m13 15h0m7-96h0m123 0h0m1-7h0m-132 118h0" stroke="#006fed" stroke-width="19.0" stroke-linecap="round" fill="none"/>
<path transform="scale(0.1000,0.1)" d="M3954 1431h0m19-13h0m1-6h0m76 6h0m42 13h0m30-6h0m-161 32h0m51 0h0m6-13h0m19 6h0m20-13h0m9 7h0m40 6h0m33 19h0m37-32h0m-170 130h0m32 0h0m103-5h0m43 119h0m-75 17h0m127-12h0m35 6h0m26 112h0m2-118h0m34 0h0m25 0h0m17 6h0m25 0h0m9 0h0m45 0h0m16 6h0m16 5h0m-534 108h0m57 0h0m402 112h0m7-112h0m185 6h0m10-6h0m-427 231h0m105-75h0m44-32h0m76 7h0m100 0h0m21-7h0m25 7h0m23-7h0m-422 134h0m74 227h0m-5 26h0m58 89h0m3-89h0m32 0h0m143-13h0m-195 132h0m4 15h0m13-23h0" stroke="#575fdf" stroke-width="19.0" stroke-linecap="round" fill="none"/>
<path transform="scale(0.1000,0.1)" d="M3956 1425h0m14 0h0m88 6h0m53-6h0m-116 12h0m10 20h0m45-13h0m88 0h0m3 112h0m9-93h0m-35 110h0m14 113h0m97 0h0m130 118h0m77-112h0m118 106h0m-589 13h0m67 0h0m152 6h0m93-6h0m60 6h0m37 0h0m202-6h0m-329 131h0m24-7h0m18 13h0m80 7h0m58 96h0m1 0h0m-235 9h0m10 18h0m48-18h0m34 0h0m47 0h0m1 0h0m-121 236h0m33 6h0m16-6h0m125 6h0m-172 20h0m22 6h0m68-19h0m87 6h0m62 111h0" stroke="#794cce" stroke-width="19.0" stroke-linecap="round" fill="none"/>
<path transform="scale(0.1000,0.1)" d="M4105 1556h0m-64 11h0m18-5h0m64 119h0m308-114h0m31 0h0m44 0h0m-556 237h0m12 0h0m122-118h0m114 0h0m54 6h0m143 112h0m19-118h0m4 12h0m115 94h0m27 6h0m-616 13h0m17 6h0m11 0h0m78 112h0m183-118h0m27 6h0m21 7h0m56-13h0m12 118h0m99-112h0m81-6h0m7 19h0m1 6h0m-409 99h0m14 0h0m174 7h0m46 0h0m3 0h0m59 0h0m-187 127h0m154-9h0m4 9h0m77 0h0m-237 221h0m9 12h0m69 0h0m-97 7h0m2 19h0m13-13h0m79 111h0m22-111h0m5 111h0m2-117h0m22 132h0m0-8h0m4 8h0m4-8h0m70 0h0m7 0h0" stroke="#9233b9" stroke-width="19.0" stroke-linecap="round" fill="none"/>
<path transform="scale(0.1000,0.1)" d="M4316 1556h0m-161 125h0m159-108h0m205-11h0m-413 130h0m10 6h0m154-12h0m15 118h0m91 0h0m-339 125h0m98-112h0m115 99h0m7-105h0m24 0h0m49 118h0m170-112h0m76-6h0m-567 124h0m17 7h0m10-7h0m326 0h0m23 116h0m86-27h0m0 18h0m0 9h0m-202 9h0m29 9h0m94 0h0m79-9h0m2 9h0m-141 240h0m8 6h0m36-6h0m17 0h0m57 139h0" stroke="#aa17a7" stroke-width="19.0" stroke-linecap="round" fill="none"/>
<path transform="scale(0.1000,0.1)" d="M4493 1556h0m-382 125h0m308-119h0m106 5h0m-571 125h0m198 0h0m-127 237h0m82-105h0m1 6h0m44-6h0m12-7h0m110 112h0m191-112h0m-579 118h0m36 7h0m3-7h0m155 7h0m106 0h0m1 6h0m16-6h0m81 6h0m-28 112h0m27 9h0m41 0h0m40 0h0m73-9h0m-99 242h0m17 0h0m-2 7h0m46 6h0m-95 118h0m23 0h0m38 0h0m84 0h0" stroke="#c5009a" stroke-width="19.0" stroke-linecap="round" fill="none"/>
<path transform="scale(0.1000,0.1)" d="M4731 1418h0m32 13h0m-400 125h0m163-5h0m239-101h0m-401 112h0m105 0h0m21 0h0m71 0h0m30 0h0m-599 124h0m-71 243h0m105-13h0m70 7h0m241 6h0m2-6h0m22-7h0m59 13h0m56-112h0m-511 118h0m60 26h0m267-19h0m110 13h0m-203 114h0m46 18h0m9-18h0m16 0h0m45 0h0m61-9h0m60 0h0m-111 242h0m-15 7h0m57 0h0" stroke="#db008a" stroke-width="19.0" stroke-linecap="round" fill="none"/>
<path transform="scale(0.1000,0.1)" d="M4751 1431h0m35-6h0m-298 12h0m46 119h0m92-119h0m27 0h0m77 7h0m61-7h0m-435 136h0m17 0h0m190-6h0m-734 119h0m119 0h0m19 0h0m11 0h0m129 99h0m311 19h0m-272 125h0m42 0h0m64 0h0m96-13h0m43-99h0m86-6h0m-562 131h0m334 13h0m99-20h0m15 13h0m51-6h0m-75 380h0m21 0h0m-69 111h0m35 8h0m21-8h0m11 8h0" stroke="#ec0078" stroke-width="19.0" stroke-linecap="round" fill="none"/>
<path transform="scale(0.1000,0.1)" d="M4644 1431h0m137 0h0m16 0h0m43-6h0m61 6h0m2-6h0m-466 131h0m127-119h0m69 114h0m118-101h0m15 13h0m6-26h0m11 13h0m17 0h0m74-13h0m-1009 238h0m563-113h0m110 0h0m94 28h0m2-23h0m73-5h0m10 0h0m-941 124h0m8 0h0m28 0h0m4 6h0m34-6h0m27 0h0m36 0h0m42 12h0m35-6h0m223 93h0m0 7h0m2 12h0m0 26h0m-26 221h0m13 0h0m20-109h0m132 13h0m82 96h0m165-96h0m0 12h0m-280 102h0m93-9h0m-100 366h0m-4 15h0m2-8h0m29 0h0m12 0h0m14 0h0" stroke="#fa0065" stroke-width="19.0" stroke-linecap="round" fill="none"/>
<path transform="scale(0.1000,0.1)" d="M4799 1418h0m41 13h0m-347 6h0m12 7h0m67-7h0m39 0h0m16 7h0m6 84h0m1 28h0m100-119h0m49 0h0m51 7h0m14 0h0m1 6h0m-977 231h0m655-102h0m77-12h0m28 6h0m1 22h0m-840 91h0m2 6h0m126 0h0m294 132h0m11 99h0m166 6h0m207-6h0m1 6h0m0 6h0m-366 240h0m4 0h0m13 0h0m2-9h0m5 0h0m1 5h0m9-5h0m5 5h0m43-111h0m-125 120h0m2 4h0m10 0h0m6 14h0m4-9h0m3-9h0m0 4h0m3-4h0m4 13h0m1-9h0m1 18h0m3-9h0m1-13h0m1 0h0m3 18h0m7 9h0m0-23h0m0 14h0m1 13h0m5-4h0m2-14h0m1-13h0m2 18h0m2-14h0m2 5h0m0-9h0m1 36h0m0-14h0m1-9h0m2-4h0m1 9h0m0-14h0m4 0h0m1 14h0m0 0h0m1 13h0m2-4h0m1-23h0m26 257h0m64-8h0" stroke="#ff0051" stroke-width="19.0" stroke-linecap="round" fill="none"/>
<path transform="scale(0.1000,0.1)" d="M4080 1412h0m-171 144h0m52-119h0m98 26h0m11-6h0m11 0h0m74-20h0m0 32h0m-338 98h0m95-5h0m46 0h0m533 108h0m-192 22h0m-403 119h0m32 6h0m67 0h0m290 112h0m146 0h0m95 0h0m29-6h0m-270 12h0m224 13h0m62-6h0m-498 118h0m187 0h0m153 111h0m-139 119h0m85-106h0m7 0h0m43 9h0m52-9h0m2 0h0m0 9h0m25-9h0m31 5h0m0-5h0m1 0h0m79 0h0m40 0h0m-548 125h0m113 13h0m6-7h0m61 96h0m3-83h0m3-13h0m5 111h0m131-111h0m0 13h0m-225 113h0m1 0h0m3-8h0m64 0h0m22 8h0m2 7h0m4-7h0m1 30h0m4-30h0" stroke="#008bfb" stroke-width="19.0" stroke-linecap="round" fill="none"/>
<path transform="scale(0.1000,0.1)" d="M3964 1425h0m6 6h0m14 0h0m9 0h0m54-13h0m9 7h0m68-7h0m5 7h0m12 0h0m4-13h0m8 19h0m-403 120h0m79 5h0m75-112h0m27 0h0m11-7h0m13 0h0m44 13h0m3-6h0m13 0h0m18-7h0m7 7h0m4 6h0m1 7h0m33 6h0m2 88h0m16-107h0m21 0h0m39 0h0m-416 118h0m38 0h0m56 0h0m75 11h0m44-11h0m108 11h0m17-11h0m283 119h0m17 0h0m112-17h0m45 6h0m18-17h0m-50 39h0m36 0h0m12 6h0m90-12h0m6 6h0m-797 125h0m88 7h0m28 0h0m504-13h0m90 112h0m174 6h0m0-19h0m-292 25h0m64 20h0m72-20h0m82 0h0m135 0h0m-789 125h0m33 0h0m57 0h0m47 9h0m12-9h0m21 0h0m4 0h0m85 242h0m149-12h0m-330 19h0m172 117h0m34-117h0m-104 124h0m3 0h0m3 8h0m13-8h0m5 0h0m38 8h0m19-8h0m3 8h0m3-8h0m4 0h0m8 15h0" stroke="#007ef6" stroke-width="19.0" stroke-linecap="round" fill="none"/>
<path transform="scale(0.1000,0.1)" d="M4043 1425h0m6 6h0m104-6h0m-251 12h0m82 7h0m62 19h0m21-19h0m20-7h0m10 32h0m26-19h0m2-13h0m11 7h0m5 101h0m7-69h0m42-39h0m-418 130h0m71-5h0m37 0h0m127 0h0m41 0h0m374 119h0m47 0h0m-10 5h0m10 17h0m139-11h0m-670 138h0m2-13h0m33-6h0m251 0h0m284 0h0m57 118h0m-287 122h0m6-90h0m200-26h0m22 0h0m7 0h0m286 7h0m1-7h0m-709 125h0m20 9h0m32-9h0m60 9h0m52 233h0m158-6h0m-326 19h0m48 0h0m108 0h0m15 13h0m13-13h0m15 111h0m2 0h0m-81 7h0m29 0h0m15 15h0m21 15h0m12 0h0m5-15h0" stroke="#006fed" stroke-width="19.0" stroke-linecap="round" fill="none"/>
<path transform="scale(0.1000,0.1)" d="M4006 1425h0m7 6h0m14-6h0m126-13h0m1 38h0m-47 117h0m109 0h0m36-5h0m157 119h0m65-6h0m11-17h0m0 17h0m41 6h0m-545 123h0m103-106h0m13 106h0m37-118h0m16 118h0m159-112h0m24 0h0m16-6h0m136 28h0m66-5h0m0-17h0m-539 119h0m32 0h0m54 0h0m321 6h0m16 0h0m94 0h0m11 7h0m12 105h0m1-118h0m0 25h0m10-25h0m-313 240h0m97-96h0m47-20h0m-254 125h0m24 0h0m4 0h0m7 9h0m84 0h0m-49 233h0m36-6h0m22 0h0m-65 19h0m5 19h0m42 84h0m4-96h0m30 74h0m132-74h0m59-13h0m-217 132h0m2-8h0m10 0h0m180 8h0" stroke="#575fdf" stroke-width="19.0" stroke-linecap="round" fill="none"/>
<path transform="scale(0.1000,0.1)" d="M4098 1431h0m44-13h0m-167 45h0m19-6h0m14-20h0m6 13h0m86-13h0m0 114h0m39 5h0m-71 11h0m71 0h0m2 12h0m71 102h0m99 0h0m51-6h0m53 6h0m136-6h0m-455 17h0m21-6h0m25 6h0m16-6h0m33 6h0m28-6h0m96 0h0m74 0h0m27 6h0m12 0h0m2-6h0m20 0h0m79 106h0m10 6h0m14-6h0m3 12h0m6 0h0m-566 7h0m32 6h0m64-6h0m255 6h0m97-6h0m54 0h0m41 0h0m27 6h0m-749 118h0m268 0h0m108 20h0m221 0h0m-225 114h0m84 233h0m2-6h0m6 6h0m9-6h0m1 6h0m90-6h0m-165 45h0m1-26h0m4 0h0m11 19h0m2 13h0m2-25h0m9 12h0m5-19h0m43 13h0m63-13h0m63-6h0" stroke="#794cce" stroke-width="19.0" stroke-linecap="round" fill="none"/>
<path transform="scale(0.1000,0.1)" d="M4019 1567h0m8-5h0m77 119h0m376-119h0m13 5h0m-428 237h0m140-112h0m49 6h0m276 100h0m1 6h0m18 0h0m-604 125h0m2-112h0m316 0h0m22 93h0m120-99h0m57 0h0m131 0h0m88 0h0m-742 124h0m8 0h0m53 7h0m40-7h0m188 0h0m201 107h0m43 9h0m-131 18h0m46 0h0m10-9h0m24 0h0m51 18h0m74-18h0m10 0h0m-346 223h0m3 0h0m69 13h0m-59 13h0m10 32h0m5-19h0m32 0h0m3 0h0m18 12h0m27-19h0m5 0h0m47 7h0m11-7h0m1-6h0m-10 124h0" stroke="#9233b9" stroke-width="19.0" stroke-linecap="round" fill="none"/>
<path transform="scale(0.1000,0.1)" d="M4315 1562h0m0 5h0m19-5h0m111 0h0m35 5h0m30-5h0m-431 130h0m5 0h0m47 0h0m154-6h0m-97 237h0m32-87h0m46-25h0m102 0h0m12 118h0m24-112h0m12 106h0m191-112h0m-655 124h0m116 0h0m35 0h0m36 13h0m333 85h0m-96 45h0m52-9h0m113-9h0m-203 381h0" stroke="#aa17a7" stroke-width="19.0" stroke-linecap="round" fill="none"/>
<path transform="scale(0.1000,0.1)" d="M4342 1556h0m197-5h0m-288 130h0m272-102h0m-552 113h0m9 0h0m52 6h0m0-12h0m78 6h0m27 119h0m14 6h0m71 112h0m86-118h0m50 13h0m141-13h0m-629 124h0m238 0h0m121 7h0m16 6h0m4 13h0m41 90h0m59-90h0m9-13h0m26 0h0m2-6h0m7 0h0m11-7h0m-197 125h0m10 0h0m28 0h0m326 0h0m-279 366h0m41 0h0m32-117h0m7 6h0m16-6h0m-91 132h0m16-8h0m1 8h0m24-8h0" stroke="#c5009a" stroke-width="19.0" stroke-linecap="round" fill="none"/>
<path transform="scale(0.1000,0.1)" d="M4740 1425h0m-227 131h0m294-119h0m-809 244h0m71 5h0m83 12h0m42-12h0m-27 125h0m134 0h0m116 105h0m50-99h0m-555 118h0m51 7h0m34 0h0m28 6h0m67 0h0m72-13h0m26 26h0m32-26h0m18 0h0m10 0h0m60 13h0m26 103h0m-22 251h0m22 0h0m-19 124h0m43-98h0m-57 113h0" stroke="#db008a" stroke-width="19.0" stroke-linecap="round" fill="none"/>
<path transform="scale(0.1000,0.1)" d="M4485 1431h0m-107 120h0m103-107h0m14 0h0m44-7h0m26 7h0m164 13h0m15-7h0m5-13h0m65 0h0m50 7h0m-870 231h0m337-113h0m5 5h0m65-5h0m12 5h0m25 0h0m24-5h0m57 5h0m-533 125h0m121 106h0m1-19h0m-2 70h0m0-13h0m253-19h0m0 112h0m1-6h0m47-106h0m-486 131h0m174-13h0m96 116h0m219-103h0m-214 121h0m47 0h0m4 9h0m4-9h0m29-9h0m8 0h0m50 9h0m-22 253h0m43-13h0m-67 132h0m58 0h0m1-8h0" stroke="#ec0078" stroke-width="19.0" stroke-linecap="round" fill="none"/>
<path transform="scale(0.1000,0.1)" d="M4731 1425h0m70 6h0m61 0h0m-291 13h0m8 0h0m6-7h0m14 0h0m130 26h0m21-19h0m15 13h0m27 0h0m7-13h0m38-7h0m8 20h0m2-20h0m14 0h0m-1067 244h0m597-119h0m241 17h0m1-17h0m106 5h0m-910 125h0m41 6h0m2-6h0m17-6h0m8 6h0m9 0h0m21-6h0m5 0h0m102 0h0m180 112h0m0-19h0m0 32h0m385 92h0m-399 32h0m176 0h0m223 39h0m-260 104h0m46 0h0m-82 348h0" stroke="#fa0065" stroke-width="19.0" stroke-linecap="round" fill="none"/>
<path transform="scale(0.1000,0.1)" d="M4577 1425h0m167 6h0m-364 125h0m135 0h0m262-112h0m63 0h0m61 6h0m2-13h0m-944 244h0m405-114h0m10 0h0m148 17h0m8-22h0m219 0h0m2 5h0m-924 119h0m41 0h0m165 6h0m180 151h0m15 86h0m21-6h0m44-20h0m70 26h0m-86 13h0m-61 233h0m7 0h0m6 0h0m4-4h0m1 4h0m9-4h0m3-9h0m8 9h0m1 4h0m1-13h0m5 9h0m3 4h0m1-4h0m4 4h0m50-115h0m62 0h0m27 0h0m-217 129h0m12-9h0m4 13h0m0-13h0m3 4h0m1 0h0m3 9h0m2-4h0m5-9h0m2 27h0m9-18h0m0 4h0m4-4h0m1 4h0m0-9h0m4 9h0m1 9h0m1-13h0m3 13h0m0-4h0m0-18h0m1 4h0m1 0h0m3 5h0m1 36h0m2-32h0m3 23h0m4-36h0m5 9h0m1 13h0m4-4h0m0-9h0m1 13h0m0-22h0m44 261h0" stroke="#ff0051" stroke-width="19.0" stroke-linecap="round" fill="none"/>
<path transform="scale(0.1000,0.1)" d="M4086 1405h0m31 26h0m20 0h0m15-13h0m-218 19h0m49 0h0m77 20h0m36 0h0m12-20h0m-240 125h0m104 5h0m41-5h0m458 124h0m29 0h0m149 0h0m-722 125h0m134 6h0m189-6h0m33 19h0m517 99h0m-293 13h0m226 25h0m2-12h0m0 6h0m-758 99h0m385 124h0m46 5h0m2-5h0m45 0h0m8 14h0m0-18h0m1 9h0m45-5h0m10-4h0m8 4h0m53 0h0m5 0h0m15 5h0m26-5h0m-497 125h0m108 6h0m29 96h0m5 15h0m145-98h0m-169 105h0m3 15h0m11-7h0m4 15h0m16-15h0m2 15h0m4-15h0" stroke="#008bfb" stroke-width="19.0" stroke-linecap="round" fill="none"/>
<path transform="scale(0.1000,0.1)" d="M4011 1425h0m21 0h0m49-7h0m44 13h0m-187 13h0m37 25h0m15-6h0m6-19h0m61 6h0m43-6h0m31-7h0m-303 130h0m3 6h0m24-11h0m64 0h0m7 5h0m155 0h0m27 6h0m31-11h0m101 0h0m249 119h0m28 0h0m-625 123h0m343 0h0m77-118h0m67 0h0m19 0h0m90 12h0m16-12h0m8 6h0m14-6h0m8 17h0m70-17h0m-686 125h0m21 25h0m1-25h0m81 0h0m20 0h0m237 6h0m241 112h0m-274 113h0m196-107h0m11 0h0m36 7h0m36 6h0m209-6h0m1-7h0m-762 125h0m60 0h0m20 9h0m108-9h0m25 18h0m46-18h0m180 115h0m-323 127h0m121-12h0m26-7h0m8 7h0m16 0h0m41 12h0m114-19h0m-294 26h0m62 6h0m10-6h0m39 0h0m12 19h0m5-6h0m4 104h0m26-8h0m1 8h0m2-117h0m6 6h0m5 0h0m-92 118h0m14 0h0m7 0h0m6 0h0m4 0h0m2 8h0m9 0h0m6 0h0m5 0h0m1-8h0" stroke="#007ef6" stroke-width="19.0" stroke-linecap="round" fill="none"/>
<path transform="scale(0.1000,0.1)" d="M3963 1431h0m32-13h0m28 13h0m5-13h0m-119 32h0m44 0h0m23 0h0m60 13h0m49 6h0m34-12h0m-370 110h0m21-5h0m46 0h0m31 5h0m10-5h0m30 0h0m21 5h0m100 6h0m28-11h0m51 11h0m29-6h0m3-5h0m359 119h0m6-28h0m25 22h0m2-5h0m5 5h0m37 6h0m-614 111h0m279-100h0m146 6h0m6-12h0m101 118h0m8-112h0m57 0h0m15 28h0m0-6h0m-715 97h0m56 6h0m421 0h0m78 7h0m62-13h0m54 118h0m104-112h0m-316 118h0m15 0h0m243 13h0m13 0h0m-574 112h0m78 0h0m38 0h0m105 242h0m23 0h0m179-6h0m-383 13h0m5 0h0m45 0h0m23 0h0m62 0h0m10 0h0m28 0h0m25 6h0m21 103h0m26-109h0m7 117h0m131-92h0m-171 99h0m20 8h0m3 7h0m2-15h0m17 0h0m2 15h0" stroke="#006fed" stroke-width="19.0" stroke-linecap="round" fill="none"/>
<path transform="scale(0.1000,0.1)" d="M3997 1412h0m50 19h0m19-13h0m3 13h0m6-13h0m5 13h0m13-19h0m22 6h0m26-13h0m57 26h0m-245 13h0m11 19h0m9-6h0m1-13h0m29-7h0m21 13h0m58-6h0m11 19h0m20 93h0m13-112h0m11 13h0m7-20h0m36 7h0m-192 123h0m153 0h0m362 114h0m-270 11h0m60-6h0m16 118h0m34-112h0m30 6h0m85-6h0m28-6h0m30 0h0m11 12h0m19-12h0m-266 150h0m5 87h0m67-112h0m22 0h0m28 118h0m140-105h0m0-7h0m2-6h0m7 6h0m6 7h0m1 6h0m23-13h0m-160 118h0m-268 134h0m114 0h0m-58 272h0m39 85h0m13-117h0m4 13h0m7 96h0m15-109h0m186 0h0" stroke="#575fdf" stroke-width="19.0" stroke-linecap="round" fill="none"/>
<path transform="scale(0.1000,0.1)" d="M4006 1431h0m8-13h0m18 13h0m59-6h0m-74 131h0m21 0h0m37-119h0m3 0h0m6 119h0m12-106h0m36 0h0m47-13h0m-191 125h0m83 119h0m16-102h0m286 96h0m180-5h0m-482 16h0m2 12h0m110-6h0m61-6h0m15 0h0m83 118h0m17-112h0m22 6h0m-295 119h0m11 0h0m86-6h0m99 6h0m250 7h0m28 0h0m-276 131h0m30-20h0m26 13h0m35-6h0m16-7h0m26 116h0m-142 27h0m-69 218h0m31 0h0m34 6h0m14 0h0m-45 7h0m19 6h0m8-6h0m11 6h0m2 7h0m29 0h0m10-13h0m2 0h0m15 124h0" stroke="#794cce" stroke-width="19.0" stroke-linecap="round" fill="none"/>
<path transform="scale(0.1000,0.1)" d="M3994 1556h0m66 0h0m26 119h0m0 6h0m27-6h0m291-113h0m34 0h0m-354 242h0m306-6h0m43 6h0m101 0h0m19-118h0m-576 131h0m2-6h0m69 6h0m85-6h0m14 0h0m39 99h0m3-99h0m40 6h0m56 99h0m58 7h0m192-106h0m-559 118h0m165 7h0m47-7h0m136 7h0m21 109h0m5-109h0m80 91h0m-210 36h0m16-9h0m103 0h0m27 0h0m7 9h0m29-9h0m70 27h0m1-27h0m57 0h0m-315 230h0m10 12h0m125 0h0m6-6h0m14 6h0m-105 13h0m32 0h0m62 111h0m40-117h0m-105 124h0m26 8h0m51 0h0" stroke="#9233b9" stroke-width="19.0" stroke-linecap="round" fill="none"/>
<path transform="scale(0.1000,0.1)" d="M4412 1556h0m-217 125h0m147-119h0m174 11h0m-426 113h0m8 0h0m17 0h0m9 6h0m39-6h0m44 0h0m55 0h0m184 118h0m-353 125h0m34 0h0m157-6h0m21-106h0m25-6h0m67 112h0m197-106h0m-645 125h0m89 0h0m16-7h0m10 7h0m116 109h0m52-103h0m63-6h0m16 0h0m36 6h0m-146 112h0m154 0h0m71 18h0m2 9h0m6-18h0m38 27h0m85-36h0m-256 262h0m83 0h0m-39 111h0" stroke="#aa17a7" stroke-width="19.0" stroke-linecap="round" fill="none"/>
<path transform="scale(0.1000,0.1)" d="M4516 1551h0m-484 124h0m-49 11h0m199 0h0m41 6h0m132 112h0m-234 13h0m57-6h0m14 6h0m113 112h0m40-118h0m69 0h0m70 0h0m-484 124h0m25 0h0m24 7h0m138 25h0m72 84h0m21-116h0m5 116h0m86-116h0m52 0h0m-146 134h0m21-9h0m129 0h0m111 0h0m33 9h0m-260 246h0m-21 118h0m42 0h0m14 8h0m26 0h0" stroke="#c5009a" stroke-width="19.0" stroke-linecap="round" fill="none"/>
<path transform="scale(0.1000,0.1)" d="M4768 1431h0m-735 239h0m323-108h0m53 5h0m86-5h0m88 0h0m-476 242h0m-1 7h0m13 0h0m245 112h0m33-112h0m-508 131h0m127 0h0m48-7h0m189 7h0m79-7h0m6 7h0m-147 118h0m79 0h0m18 9h0m54-9h0m22 0h0m3 9h0m-15 246h0m1 7h0m17 6h0m4-13h0m-77 118h0m2 0h0m16 0h0m4 0h0m13 8h0" stroke="#db008a" stroke-width="19.0" stroke-linecap="round" fill="none"/>
<path transform="scale(0.1000,0.1)" d="M4587 1431h0m172-6h0m-114 19h0m2-7h0m95 7h0m17-7h0m-726 244h0m320-114h0m24-5h0m156 11h0m60-6h0m-485 225h0m-91 137h0m10-6h0m40 6h0m41-112h0m78 99h0m175-105h0m23 118h0m21-13h0m-410 19h0m30 20h0m72-13h0m188 13h0m139 114h0m-56 227h0m9 137h0" stroke="#ec0078" stroke-width="19.0" stroke-linecap="round" fill="none"/>
<path transform="scale(0.1000,0.1)" d="M4738 1431h0m28-13h0m38 7h0m98-7h0m-387 127h0m9 11h0m108-11h0m3-108h0m13 13h0m98 7h0m18-13h0m28 0h0m4 6h0m105-6h0m1 13h0m-1118 224h0m560-114h0m191 0h0m30-5h0m37 0h0m30 22h0m105-22h0m-985 124h0m10 0h0m83 6h0m46-6h0m15 0h0m86 12h0m40 5h0m75 140h0m108-26h0m169-6h0m39 112h0m177-13h0m-468 32h0m76-7h0m179 125h0m30 9h0m-113 364h0m39 0h0" stroke="#fa0065" stroke-width="19.0" stroke-linecap="round" fill="none"/>
<path transform="scale(0.1000,0.1)" d="M4571 1431h0m218-6h0m50-7h0m10 13h0m-495 125h0m145-119h0m78 13h0m55 84h0m2 5h0m101-89h0m7-13h0m42 7h0m15 13h0m48-7h0m2-13h0m-1092 244h0m780-108h0m96 28h0m-872 91h0m23 0h0m61-6h0m19 0h0m23 6h0m72-6h0m641 230h0m-224 135h0m7-9h0m33-94h0m7 0h0m176-6h0m1 19h0m0-13h0m-389 227h0m4-4h0m5 0h0m1-5h0m18 5h0m1-5h0m1-4h0m4 13h0m2-9h0m4 5h0m1-18h0m2 4h0m1-9h0m2 27h0m1-13h0m1-5h0m7 5h0m4 13h0m37-115h0m-102 129h0m6 0h0m3 9h0m5-5h0m4-4h0m1 9h0m2-9h0m0-5h0m0 14h0m6-14h0m2-4h0m5 9h0m3-9h0m4 13h0m6 18h0m0-4h0m3 13h0m0-22h0m1 4h0m3 5h0m0-27h0m1 31h0m1-22h0m3 4h0m3 0h0m0-13h0m3 4h0m1 9h0m75 233h0m278-117h0m-300 124h0" stroke="#ff0051" stroke-width="19.0" stroke-linecap="round" fill="none"/>
<path transform="scale(0.0718,0.1)" d="M2251 2976h0m6 38h0m6-19h0m12 0h0m6 8h0m15 14h0m18 5h0m11-22h0m3-8h0m26 19h0m-251 100h0m15-7h0m131 0h0m18-7h0m-151 108h0m4 0h0m36 14h0m20 0h0m15 7h0m52 7h0m23 7h0m8-35h0m7 14h0m67 0h0m55 0h0m125 21h0m-159 71h0m27 19h0m25-3h0m20 13h0m1-6h0m18-26h0m14 3h0m4 29h0m4-16h0m4-3h0m3 9h0m8-3h0m241 108h0m55 0h0m5 0h0m26 0h0m17 2h0m2-4h0m4 2h0m10 0h0m5 0h0m9 2h0m20-2h0m21 0h0m7 0h0m-405 121h0m1 14h0m43-22h0m0-14h0m2 0h0m7 14h0m-64 112h0m2-9h0m18 0h0m18 0h0m41 0h0m61 0h0m31 0h0m-264 102h0m20 6h0m98 0h0m5 12h0m2-18h0m13 12h0m4-12h0m5 18h0m40-12h0m12-12h0m-39 120h0m35 0h0m8 0h0m6 18h0m11-27h0m30 18h0m40-18h0m2 9h0m11-9h0m-147 117h0m126 0h0m-148 102h0m25 24h0m2 6h0m46-12h0m2-12h0m6 24h0m4-24h0m6 0h0m26 6h0m2-12h0m-145 114h0m15 9h0m23 9h0m14-27h0m19 9h0m-74 114h0m59 102h0m3 27h0m-59 67h0m-37 129h0m14-7h0m5 7h0m91 7h0m5-7h0m4 7h0m1-14h0m34 0h0m-181 108h0m17 0h0m10-21h0m63 14h0m-66 120h0m30-10h0m4 20h0m3-15h0m4 5h0m1 10h0m1-30h0m1 20h0m5 0h0m0-5h0m1-5h0m2-10h0m1-5h0m0 46h0m10-31h0m1 5h0m1-10h0m1 25h0m0-15h0m3 0h0m5 5h0m1-5h0m2 15h0m2-25h0m-54 123h0m1-9h0m9 0h0m2 13h0m3-13h0m2 9h0m1 8h0m9-4h0m10 0h0m38-13h0m26 9h0m-117 97h0m3 24h0m1-12h0m0-6h0m13-24h0m0 30h0m0-18h0m0 36h0m4-30h0m3 0h0m6 0h0m7 0h0" stroke="#008bfb" stroke-width="25.0" stroke-linecap="round" fill="none"/>
<path transform="scale(0.0718,0.1)" d="M2111 3006h0m25-6h0m23 0h0m39 9h0m3-6h0m2 6h0m17-9h0m14 11h0m17-24h0m3 24h0m10-24h0m29 27h0m2 0h0m5-30h0m1 8h0m5-3h0m4 9h0m10-3h0m16 16h0m18-16h0m2-6h0m-404 122h0m47 0h0m81 0h0m155 7h0m8-21h0m1 28h0m4-14h0m7 21h0m53-35h0m6 21h0m47-7h0m-234 101h0m4 0h0m2 21h0m8-21h0m19 7h0m85 7h0m2-7h0m13-21h0m1 7h0m83 21h0m23-7h0m3 0h0m33 7h0m32-7h0m44 14h0m3-28h0m46 0h0m52 28h0m23 7h0m-235 84h0m0-10h0m0 16h0m5-3h0m11 0h0m7 0h0m2 7h0m8-7h0m16 7h0m2-4h0m13-6h0m8 0h0m1-10h0m2 7h0m0 32h0m1-26h0m1 32h0m1-48h0m2 29h0m0-36h0m1 23h0m6 0h0m3 3h0m3 13h0m2-9h0m9-17h0m1 26h0m7-32h0m1 16h0m2-16h0m4 23h0m0-17h0m10 17h0m-40 209h0m48 22h0m12-26h0m16-5h0m8 0h0m2 9h0m12 13h0m48-17h0m-129 121h0m4-18h0m147 9h0m15 0h0m2 9h0m59-9h0m9 18h0m-353 84h0m35 6h0m109-18h0m0 24h0m19-6h0m1-6h0m7 12h0m2-6h0m5 12h0m3-6h0m20-12h0m1 18h0m2-12h0m43 18h0m1-24h0m7 18h0m2-18h0m-119 123h0m25-9h0m5-9h0m4 27h0m5 9h0m18-27h0m22-9h0m21 18h0m12-18h0m3 27h0m9-27h0m25 18h0m4-27h0m4 18h0m15 0h0m12 18h0m6-27h0m4 18h0m25 0h0m4-18h0m-110 108h0m15 18h0m6-9h0m136 0h0m-219 108h0m64 6h0m2-6h0m1-24h0m15 36h0m1-42h0m3 42h0m11-6h0m-48 129h0m-190 81h0m59 6h0m13-18h0m3 18h0m19 6h0m51 0h0m54-12h0m55 0h0m-76 117h0m6-9h0m0 9h0m13-9h0m4 0h0m18 0h0m16 0h0m45 0h0m-170 108h0m1 7h0m-44 101h0m26 0h0m11 0h0m2 7h0m15-7h0m26 7h0m41 0h0m5 14h0m7-28h0m1-7h0m2 21h0m3 7h0m13-7h0m18-7h0m15 0h0m6 0h0m0 14h0m-213 94h0m15 14h0m7-21h0m9 14h0m23-7h0m1-7h0m13 0h0m2-7h0m8 14h0m11 0h0m-35 113h0m0-10h0m0 15h0m0 21h0m0-31h0m9 10h0m4 0h0m4-10h0m0-10h0m2 20h0m3-5h0m5 10h0m0-10h0m1 15h0m0-30h0m3 15h0m2-10h0m0 15h0m4 5h0m1-25h0m4-5h0m1 15h0m4-10h0m6 10h0m0 20h0m0-10h0m-66 103h0m6 0h0m0-5h0m2-4h0m2 0h0m3 4h0m3 13h0m0-26h0m3 9h0m9-23h0m1 32h0m1-14h0m2 14h0m9-5h0m5 9h0m0 4h0m9-22h0m2 9h0m7 5h0m5-5h0m3-4h0m1 9h0m11-5h0m17 0h0m-116 120h0m0-12h0m0-18h0m1 24h0m1-6h0m6 0h0m1 6h0m1 0h0m3-6h0m4 6h0m2 6h0m1-6h0m0 6h0m8-30h0m6 18h0m1 18h0m1-36h0m0 6h0m1 24h0m6-18h0m4 6h0m1 6h0m3-6h0m0 12h0m1-18h0m1 12h0m1-6h0m3 0h0" stroke="#007ef6" stroke-width="25.0" stroke-linecap="round" fill="none"/>
<path transform="scale(0.0718,0.1)" d="M2126 3003h0m7 3h0m14-6h0m31-2h0m35 5h0m45-3h0m17-2h0m18-3h0m7-19h0m12 30h0m13-17h0m-253 136h0m92 0h0m118-21h0m19-14h0m30 0h0m-231 143h0m11-14h0m32 0h0m34 14h0m55-14h0m1 7h0m18 0h0m14-7h0m41 0h0m40 14h0m1-21h0m65 21h0m6-7h0m97-21h0m11 7h0m9 7h0m51 29h0m-186 82h0m15-6h0m31-7h0m39 13h0m10 222h0m7-22h0m3 4h0m2 27h0m33-5h0m10-13h0m-116 126h0m9-9h0m2-9h0m23 0h0m36 18h0m60-18h0m7-9h0m37 18h0m8 0h0m83 0h0m0-9h0m-345 108h0m57 0h0m78 0h0m5 0h0m28 12h0m13-42h0m12 36h0m6-18h0m7 0h0m7 18h0m1-12h0m5 12h0m17-6h0m1 18h0m3-30h0m6 0h0m3-12h0m1 42h0m0-6h0m14-12h0m-135 117h0m1-9h0m24-9h0m21 9h0m30 0h0m7 9h0m31-18h0m1 18h0m41-9h0m4-9h0m67 9h0m12 0h0m-149 108h0m12 9h0m5-9h0m7-9h0m25 27h0m149-18h0m11 0h0m-223 114h0m22 0h0m4 0h0m11-6h0m1 6h0m8-6h0m23-12h0m3 6h0m6 12h0m5 6h0m-98 87h0m10 18h0m0-9h0m3-18h0m3 27h0m8 0h0m21-9h0m12 0h0m-165 108h0m20-6h0m16-6h0m10 12h0m19 18h0m6-6h0m8-12h0m79 0h0m2 108h0m3 0h0m86-9h0m-179 225h0m7-14h0m3 7h0m3 28h0m3-28h0m1 14h0m5-7h0m2 7h0m46-7h0m7 7h0m5-7h0m2 21h0m4-21h0m8 0h0m4 14h0m4-21h0m11 14h0m1-7h0m18 0h0m6 0h0m17 21h0m-241 94h0m14-7h0m40 7h0m2 0h0m1-21h0m0 43h0m8-22h0m6-14h0m15 14h0m20 7h0m4 7h0m3-21h0m5 7h0m21 0h0m-108 101h0m8 0h0m47 108h0m19 9h0m9-13h0m4 9h0m7 4h0m6-9h0m8 9h0m3 0h0m10-4h0m8 0h0m4-5h0m1 0h0m39 0h0" stroke="#006fed" stroke-width="25.0" stroke-linecap="round" fill="none"/>
<path transform="scale(0.0718,0.1)" d="M2136 2998h0m28 5h0m12 8h0m54-19h0m6 8h0m23 28h0m0-25h0m9 25h0m3-14h0m1-25h0m21 9h0m9 2h0m1 6h0m3-11h0m4 8h0m21-5h0m23 19h0m0-19h0m0 22h0m31-11h0m-287 95h0m22 7h0m9-7h0m18 7h0m12 0h0m87 7h0m23 14h0m4-14h0m79-14h0m1 115h0m235 21h0m12-28h0m-207 336h0m27-5h0m6 5h0m65-5h0m13 0h0m0-18h0m3 23h0m3-18h0m4-14h0m15 9h0m2 23h0m6 4h0m9-18h0m1 5h0m2 13h0m10-9h0m3 0h0m3 5h0m-137 112h0m23-18h0m14-9h0m29 27h0m5 0h0m2 9h0m169-18h0m-309 108h0m40 0h0m26 0h0m23 0h0m57 108h0m7 0h0m9-9h0m24 9h0m15 9h0m38 0h0m16 0h0m32 0h0m14-9h0m21 18h0m44-9h0m-133 126h0m40-18h0m6-9h0m-136 108h0m53-6h0m1 6h0m20 0h0m39-12h0m7 0h0m4-6h0m2 18h0m5-12h0m2 6h0m-115 132h0m50-27h0m-174 117h0m19 0h0m60 0h0m31-6h0m8 18h0m1-12h0m9-12h0m26 6h0m97 6h0m-50 117h0m7 0h0m5-18h0m8 9h0m11 0h0m18 0h0m42 18h0m-173 184h0m0 28h0m18-7h0m61 14h0m-127 80h0m7 21h0m0-14h0m3 7h0m3-7h0m18 0h0m25 21h0m4-35h0m21 7h0" stroke="#575fdf" stroke-width="25.0" stroke-linecap="round" fill="none"/>
<path transform="scale(0.0718,0.1)" d="M2211 3000h0m32 0h0m25 17h0m6-11h0m23-3h0m2 19h0m1 6h0m7-41h0m47 5h0m35 11h0m-85 129h0m42-14h0m163 130h0m22 0h0m46-36h0m8 14h0m11-14h0m-290 336h0m34-5h0m34 0h0m61-4h0m0 9h0m55-9h0m35 22h0m7-9h0m-87 126h0m12-18h0m16 0h0m-115 99h0m22 0h0m203 216h0m-40 225h0m33-9h0m19 18h0m-118 102h0m22-6h0m16 24h0m10-12h0m11-18h0m18 12h0m-65 105h0m59-9h0m9 0h0m3 0h0m6-9h0m4 9h0m5 0h0m7 0h0m30 0h0m22 0h0m20 9h0m4-9h0m-95 108h0m37 0h0m-120 209h0m21 7h0m3 21h0m18-35h0m0 28h0m104-14h0" stroke="#794cce" stroke-width="25.0" stroke-linecap="round" fill="none"/>
<path transform="scale(0.0718,0.1)" d="M2252 3097h0m24 28h0m15-21h0m73 7h0m65 0h0m418 14h0m-338 73h0m22 0h0m24 21h0m223-7h0m-461 327h0m76-5h0m23 14h0m0-9h0m29-5h0m24 9h0m51 0h0m8 5h0m-81 103h0m355 0h0m-457 102h0m355 6h0m16 0h0m-306 225h0m16-9h0m17 0h0m22 0h0m12-9h0m0 9h0m29 0h0m48-18h0m23 9h0m3 18h0m86 105h0m10-6h0m-158 117h0m8-18h0m5 0h0m27 0h0m15-18h0m4 36h0m10-18h0m0 27h0m9-27h0m0 18h0m7-9h0m-173 225h0m66-18h0m27 18h0m80 315h0m7 0h0m6 0h0" stroke="#9233b9" stroke-width="25.0" stroke-linecap="round" fill="none"/>
<path transform="scale(0.0718,0.1)" d="M2659 3104h0m5 7h0m34 7h0m-71 101h0m99 0h0m92 0h0m19 0h0m-503 306h0m0 5h0m6 18h0m21-9h0m119 130h0m5-27h0m323 9h0m-319 333h0m133-9h0m-174 108h0m242 0h0m-185 108h0m-21 102h0m16-6h0m1 6h0m44 0h0m206 12h0m-275 111h0m-41 106h0m21 14h0m1-42h0m2 14h0m1 7h0m11 7h0m3 14h0m10-7h0m50 216h0m15-7h0" stroke="#aa17a7" stroke-width="25.0" stroke-linecap="round" fill="none"/>
<path transform="scale(0.0718,0.1)" d="M2663 3125h0m79-7h0m122 0h0m136-7h0m-306 108h0m49 108h0m42 3h0m75-3h0m95 0h0m89 0h0m-735 216h0m47 5h0m44-5h0m7 5h0m5-5h0m49 9h0m310-4h0m65 103h0m-449 333h0m6 9h0m77-18h0m151-9h0m-134 129h0m-158 87h0m63 18h0m22 0h0m6 0h0m-22 87h0m130 6h0m-75 96h0m-9 105h0m9 7h0m3 7h0m19 0h0m0 14h0m12-14h0m47 230h0" stroke="#c5009a" stroke-width="25.0" stroke-linecap="round" fill="none"/>
<path transform="scale(0.0718,0.1)" d="M2813 3003h0m-102 115h0m39 0h0m56-7h0m3 7h0m-179 101h0m44 7h0m4 101h0m22 3h0m74-3h0m121 0h0m-551 216h0m2 5h0m33 0h0m55 4h0m9-4h0m13 0h0m30-5h0m33 5h0m183-5h0m17 0h0m-401 324h0m8 0h0m57 9h0m33 108h0m5-9h0m32-9h0m39 0h0m11 18h0m13 9h0m50-9h0m27 9h0m-181 207h0m59-9h0m-34 114h0m10-6h0m20 0h0m23 0h0m7-12h0m-43 147h0m8-36h0m54 0h0m1 27h0m-73 90h0m2-14h0m25 14h0m30 7h0m17-7h0m14 209h0m28 0h0m4 7h0m31 0h0" stroke="#db008a" stroke-width="25.0" stroke-linecap="round" fill="none"/>
<path transform="scale(0.0718,0.1)" d="M2824 3003h0m27 0h0m30 3h0m93 0h0m18-3h0m146 3h0m30 0h0m3-6h0m-569 111h0m78-21h0m4 50h0m9-29h0m202-7h0m59 0h0m-97 115h0m-182 108h0m386 0h0m-663 212h0m117 35h0m154-31h0m68 5h0m88 0h0m-520 112h0m6-9h0m113-9h0m238 117h0m-270 117h0m34-18h0m6 9h0m12 18h0m25-27h0m-80 108h0m5 36h0m5-27h0m35-9h0m16 9h0m46 18h0m15-9h0m13 0h0m8 0h0m77 0h0m-401 99h0m73 0h0m206-18h0m-174 126h0m59-9h0m42 27h0m76-18h0m1 9h0m16-9h0m4 0h0m-62 102h0m5 12h0m31 6h0m5-18h0m27-18h0m32 18h0m21 6h0m-192 108h0m1 0h0m97 18h0m2-18h0m14 9h0m21 0h0m10-9h0m7 0h0m-84 101h0m8 14h0m10-7h0m1-7h0m10-14h0m20 28h0m5 0h0m5-7h0m2 0h0m4 7h0m14 216h0m15-21h0m20 28h0m23-14h0m48 7h0m-231 101h0m-62 108h0m62 0h0m57 0h0m104 114h0m11-6h0m12 6h0m4-6h0m3 0h0m8 0h0m31 6h0" stroke="#ec0078" stroke-width="25.0" stroke-linecap="round" fill="none"/>
<path transform="scale(0.0718,0.1)" d="M2876 3003h0m134 0h0m93 0h0m38 0h0m20 11h0m-548 97h0m52 7h0m18 7h0m7-21h0m58 0h0m101 7h0m49-14h0m-225 115h0m180 0h0m194 7h0m-345 108h0m73 3h0m-264 186h0m20 40h0m132-17h0m1 9h0m49-14h0m-380 333h0m91 9h0m-36 90h0m7-9h0m13 36h0m23-27h0m18 9h0m48 9h0m58 9h0m-391 90h0m45 6h0m116 0h0m106-6h0m-105 108h0m80 9h0m96 93h0m7 24h0m-115 90h0m20 0h0m11 0h0m1 9h0m28-18h0m20 9h0m19 0h0m8 9h0m-118 99h0m10 0h0m43-7h0m5 14h0m6-28h0m3 21h0m12-14h0m8 14h0m7 7h0m55-7h0m11 0h0m-165 108h0m10 7h0m6-7h0m16 0h0m44 7h0m17 0h0m91 108h0m6-7h0m7 0h0m18 0h0m38 0h0m-270 108h0m20 0h0m1 113h0m72 0h0m80 103h0m44 0h0m7 0h0m61 6h0" stroke="#fa0065" stroke-width="25.0" stroke-linecap="round" fill="none"/>
<path transform="scale(0.0718,0.1)" d="M2857 3003h0m7-3h0m113 3h0m95 0h0m54 0h0m33 14h0m93-14h0m-510 122h0m136-7h0m-215 101h0m361 0h0m68 7h0m-604 176h0m299-75h0m223 0h0m-599 110h0m1-2h0m8-2h0m6-3h0m3 3h0m2 4h0m9 5h0m1-12h0m1 5h0m2 0h0m0 7h0m1-16h0m3 11h0m2 12h0m2-19h0m0 5h0m1 7h0m1-24h0m3 31h0m1-21h0m1 0h0m3 12h0m3-5h0m0 7h0m0-19h0m4 7h0m0 24h0m2-31h0m1 12h0m0-7h0m1 14h0m0-12h0m0-16h0m1 23h0m0 12h0m0-33h0m0-9h0m1 47h0m0-31h0m1-7h0m0 29h0m0-24h0m1 28h0m1-7h0m0 24h0m1-55h0m1 24h0m1 12h0m1-19h0m2 14h0m1-21h0m0-3h0m1-11h0m0 49h0m0-30h0m0 14h0m0-3h0m0 22h0m1-55h0m0 26h0m0 22h0m1 14h0m0-57h0m1 38h0m0 21h0m2-33h0m0 12h0m0-17h0m1 7h0m221 111h0m80 0h0m33-5h0m-415 108h0m-26 216h0m73 0h0m-10 126h0m145-9h0m33 0h0m-315 99h0m28 0h0m127 0h0m-172 108h0m79 108h0m25-6h0m84 0h0m10-6h0m0-6h0m37 12h0m-28 114h0m32 0h0m14-9h0m-71 131h0m34-21h0m168 7h0m-248 108h0m14 216h0m-85 108h0m201 108h0" stroke="#ff0051" stroke-width="25.0" stroke-linecap="round" fill="none"/>
<path transform="scale(0.0718,0.1)" d="M2140 3009h0m104-6h0m18 8h0m44 22h0m0-13h0m17 0h0m-227 98h0m38 0h0m9-7h0m89 0h0m67-7h0m-199 122h0m66-14h0m1 14h0m33 0h0m8-14h0m5 21h0m24 0h0m13-21h0m41 7h0m88 0h0m9-7h0m107 7h0m100 14h0m-227 88h0m0 19h0m0 7h0m40-20h0m18-3h0m14-3h0m4-13h0m5 13h0m7-10h0m0 26h0m3 3h0m3-26h0m5 26h0m13-3h0m3 6h0m0-19h0m5 23h0m2-23h0m270 111h0m23 0h0m6 0h0m39 0h0m14 5h0m3-5h0m14-2h0m10 4h0m1-4h0m11 2h0m-367 108h0m5-4h0m29 22h0m31-18h0m17 5h0m-64 112h0m116 0h0m-249 105h0m102-12h0m31 0h0m1-18h0m7 18h0m63 0h0m1-12h0m7 12h0m-124 87h0m22 45h0m1 0h0m59-27h0m10 9h0m30 0h0m32 18h0m58-9h0m18 0h0m-222 201h0m126 6h0m2 18h0m3 12h0m37-30h0m-144 117h0m13-9h0m139 0h0m-177 114h0m190 0h0m-91 102h0m46 9h0m27-9h0m-144 237h0m22-14h0m25 0h0m7 0h0m15-7h0m5-14h0m1-7h0m15 21h0m20 0h0m-174 108h0m2 0h0m3 7h0m7 0h0m2-7h0m32 88h0m0 5h0m7 10h0m3 0h0m6 10h0m4-15h0m10 20h0m2 0h0m0 5h0m2 0h0m1-25h0m0 0h0m6 20h0m1 5h0m1 5h0m3-10h0m6-5h0m-64 103h0m4-4h0m10 9h0m7-5h0m3-13h0m0 18h0m5-5h0m0-4h0m7-5h0m9 14h0m27-14h0m40 9h0m-128 114h0m8 6h0m3-12h0m3 0h0m7 6h0m1 0h0m0-12h0m6 6h0m0 30h0m2-42h0m1 12h0m5 0h0m0-6h0m1 12h0m2 6h0m3-6h0m2-6h0m6 6h0" stroke="#008bfb" stroke-width="25.0" stroke-linecap="round" fill="none"/>
<path transform="scale(0.0718,0.1)" d="M2122 3000h0m87 6h0m26 3h0m6 8h0m8 3h0m9 10h0m1-41h0m27 22h0m9-30h0m4 14h0m3 3h0m2 22h0m17-22h0m35 16h0m2 8h0m-381 89h0m153 0h0m109 14h0m4-21h0m45 7h0m22 0h0m33-21h0m3 21h0m-250 115h0m9-7h0m7 14h0m24-28h0m5 21h0m61-7h0m11 7h0m11 0h0m2-7h0m5-14h0m21 28h0m18 0h0m7-21h0m9 0h0m107 7h0m28 0h0m161-14h0m16 0h0m-230 138h0m0-6h0m0-10h0m2-10h0m23 10h0m20-6h0m7 6h0m0 7h0m6-13h0m8 13h0m1-4h0m4 7h0m3 19h0m4-6h0m0-26h0m1 19h0m4 4h0m2 9h0m0-32h0m0 10h0m0 9h0m1 10h0m5-32h0m1 3h0m0 26h0m1-16h0m2-4h0m4-13h0m5 4h0m3 6h0m1-13h0m3 33h0m9-7h0m4-23h0m1 23h0m4-16h0m360 113h0m-421 97h0m8 5h0m66-27h0m6 9h0m1 40h0m32-36h0m0 5h0m2 18h0m2-14h0m27 14h0m-137 94h0m13 9h0m44 0h0m31 0h0m17 0h0m99 0h0m32 0h0m29 9h0m-350 105h0m90-6h0m7 0h0m26 0h0m20-12h0m8 12h0m22 18h0m4-12h0m0-18h0m3-6h0m6 6h0m6 6h0m3 12h0m2-6h0m9 0h0m14-6h0m1 6h0m4 6h0m0-12h0m6 6h0m2 12h0m14-6h0m5-24h0m2 36h0m6-6h0m-133 105h0m22 18h0m2-54h0m3 9h0m9 27h0m7 9h0m14-18h0m47 9h0m24 9h0m13-9h0m19-27h0m11 18h0m4-9h0m19 9h0m1-9h0m-74 135h0m187-18h0m-277 108h0m5 0h0m24 6h0m16-18h0m1 12h0m7-12h0m0 18h0m0-24h0m5 6h0m18 0h0m10 6h0m7 18h0m6-6h0m3-24h0m6 30h0m6-6h0m13-12h0m-126 105h0m4 9h0m7 18h0m41 0h0m144-18h0m-312 114h0m62-6h0m2-6h0m11 12h0m37 0h0m12-6h0m20 0h0m9 108h0m22 9h0m34 0h0m43-9h0m2 0h0m-165 216h0m3 7h0m22 7h0m2-7h0m4-28h0m1 21h0m1-14h0m3 21h0m6-7h0m21 0h0m1 7h0m24-7h0m12 7h0m1-14h0m5 7h0m1 29h0m1-15h0m0-42h0m3 35h0m4-7h0m0 7h0m6-21h0m4 7h0m15 7h0m33-7h0m0-14h0m-238 129h0m47 7h0m32 7h0m22-21h0m6 7h0m2-7h0m-71 115h0m14 0h0m14 0h0m13-10h0m1 5h0m2 10h0m5-5h0m0 5h0m4-5h0m1-5h0m2 5h0m1-5h0m3 0h0m2 15h0m3-20h0m0 25h0m3-20h0m0 5h0m1 10h0m2-15h0m4-10h0m1 25h0m1-15h0m1 10h0m1 5h0m2-15h0m0 10h0m4-15h0m2 10h0m1 5h0m4 5h0m1-15h0m1 31h0m0-31h0m-85 126h0m23-13h0m1 5h0m10-5h0m0 9h0m4 0h0m1-4h0m7-27h0m1 9h0m0 35h0m1-13h0m5 0h0m1-4h0m1-9h0m0 4h0m1 18h0m4-9h0m9-9h0m7 5h0m8-5h0m7 5h0m2-9h0m10 4h0m3 5h0m15 0h0m0-5h0m-111 114h0m1 0h0m0-18h0m2 6h0m4 12h0m0-12h0m2 0h0m2 0h0m3 0h0m1 6h0m3 0h0m4-6h0m1 6h0m0-6h0m0 12h0m0 12h0m3-12h0m2 6h0m0-24h0m0-6h0m9 18h0m6 0h0" stroke="#007ef6" stroke-width="25.0" stroke-linecap="round" fill="none"/>
<path transform="scale(0.0718,0.1)" d="M2116 3009h0m9-3h0m50 0h0m51-8h0m14-6h0m12 0h0m1 6h0m1 24h0m2-27h0m1 11h0m7-25h0m1 19h0m0-2h0m3-14h0m5 33h0m4-30h0m25-14h0m3 63h0m3-44h0m16 14h0m3 5h0m1-11h0m26 3h0m8 3h0m5-3h0m22 3h0m1-6h0m-399 111h0m58 0h0m86 14h0m29-7h0m16-7h0m6 14h0m76-28h0m-131 129h0m4-7h0m2-21h0m80 21h0m31-7h0m19 21h0m125-7h0m17 0h0m95-7h0m0 7h0m3-14h0m3 0h0m5 21h0m19 0h0m5-14h0m-135 115h0m28-13h0m7-4h0m22 30h0m15-4h0m-25 191h0m56-9h0m10 23h0m1-23h0m12 9h0m29 18h0m1 0h0m29 0h0m4-9h0m10 0h0m-145 135h0m1-27h0m2 18h0m104-27h0m9 18h0m1-9h0m36 0h0m11 9h0m29-9h0m54 9h0m-285 105h0m95-6h0m4 6h0m10 0h0m8-6h0m33 0h0m13 0h0m8 6h0m11 6h0m7-12h0m7 6h0m-120 102h0m15 9h0m36 0h0m19-9h0m6 18h0m18-27h0m36 9h0m13 9h0m27 0h0m7-9h0m7 9h0m2-9h0m6 0h0m14 9h0m11 9h0m-160 81h0m-57 123h0m23 0h0m15-6h0m17 6h0m14 6h0m4-12h0m7 18h0m13-12h0m1-6h0m28 18h0m6-12h0m4-12h0m11-6h0m8 18h0m6-6h0m-130 99h0m5-9h0m31 9h0m6 18h0m6-27h0m3 45h0m43-27h0m20 0h0m-100 108h0m5 12h0m48 87h0m34 18h0m56-9h0m9 9h0m-217 200h0m28 7h0m7 7h0m6 0h0m2-7h0m7 14h0m20-14h0m16 0h0m7 0h0m46 7h0m9 7h0m1-14h0m-138 108h0m12 0h0m2 7h0m7-21h0m11 14h0m2 0h0m6 0h0m0-7h0m2 0h0m12 14h0m10-14h0m1 21h0m6-7h0m9-14h0m-78 115h0m-13 104h0m7 4h0m3 0h0m35 18h0m1-36h0m1 31h0m3-26h0m2 9h0m3-9h0" stroke="#006fed" stroke-width="25.0" stroke-linecap="round" fill="none"/>
<path transform="scale(0.0718,0.1)" d="M2143 3003h0m87 11h0m1-19h0m20-14h0m43-3h0m8 11h0m1-2h0m10-11h0m7 8h0m10 19h0m24-16h0m27 16h0m-239 101h0m36 7h0m17 7h0m7-14h0m10 14h0m4-7h0m6 7h0m45-7h0m8-7h0m12 14h0m13 7h0m41 0h0m2 7h0m12-28h0m12 14h0m42 101h0m4-7h0m68 0h0m75 14h0m5 0h0m4-7h0m12 0h0m10-21h0m-226 350h0m146 26h0m32-26h0m5 0h0m5 8h0m20-13h0m19 5h0m10-5h0m-156 81h0m20 45h0m1-9h0m10 9h0m11-9h0m9 18h0m11-36h0m9 18h0m43-9h0m5 0h0m11 9h0m47-9h0m-270 108h0m76 6h0m80 84h0m22 27h0m11-9h0m46 0h0m38 9h0m24 9h0m3-18h0m2-9h0m-54 126h0m2-9h0m20 0h0m6-9h0m-122 117h0m48 0h0m21-6h0m13 6h0m44-24h0m14 24h0m1-12h0m19 30h0m-130 108h0m3-18h0m3 0h0m47-18h0m-127 132h0m93 0h0m-2 102h0m25-18h0m34 18h0m68 9h0m12-18h0m1 9h0m-119 108h0m45 0h0m-125 115h0m16 0h0m11-7h0m73-21h0m10 28h0m-133 101h0m64 7h0m2-7h0m13 7h0m4-7h0m2 0h0m5 0h0" stroke="#575fdf" stroke-width="25.0" stroke-linecap="round" fill="none"/>
<path transform="scale(0.0718,0.1)" d="M2200 3006h0m40 5h0m5-5h0m11-28h0m7 42h0m0-17h0m2 3h0m12 3h0m17 16h0m3 5h0m6-19h0m20 11h0m2-35h0m11 27h0m40-14h0m-74 111h0m39 7h0m1-21h0m382 14h0m-251 108h0m3 7h0m20-14h0m13 28h0m2-14h0m23 0h0m54-7h0m29-7h0m-310 331h0m25 22h0m4-22h0m1 9h0m25-18h0m24 9h0m15 5h0m63-5h0m13-4h0m16 9h0m54-18h0m20 9h0m-118 130h0m22-36h0m43 18h0m-171 114h0m95 0h0m38-6h0m134 207h0m-82 252h0m6-36h0m15 9h0m-151 120h0m96-12h0m24 6h0m36-6h0m79 0h0m-67 108h0m77 0h0m4 0h0m1 9h0m13-9h0m5 0h0m10 0h0m-79 115h0m-131 216h0m55 7h0m6-28h0m11 0h0m3 7h0m2 7h0m26 7h0m9-7h0m60 0h0" stroke="#794cce" stroke-width="25.0" stroke-linecap="round" fill="none"/>
<path transform="scale(0.0718,0.1)" d="M2335 3132h0m91-21h0m2-7h0m223 7h0m25 0h0m80 7h0m10 7h0m-151 80h0m352 122h0m-635 221h0m0-9h0m49 4h0m38 5h0m31 0h0m2 4h0m61-31h0m13 9h0m0 26h0m-61 95h0m2-9h0m2-18h0m22 18h0m-74 117h0m79 0h0m-11 99h0m-60 117h0m10 18h0m32-18h0m2 9h0m23-9h0m56 9h0m4-9h0m73 0h0m-297 216h0m17 9h0m4-18h0m22 9h0m16-9h0m5 9h0m13 0h0m7 0h0m62 9h0m-94 99h0m83 6h0m66 0h0m2-24h0m220 18h0m-293 108h0m13 0h0m9 0h0m24 0h0m10-9h0m24 333h0m11 14h0m61-7h0" stroke="#9233b9" stroke-width="25.0" stroke-linecap="round" fill="none"/>
<path transform="scale(0.0718,0.1)" d="M2704 3111h0m70-7h0m-65 115h0m108 108h0m-518 221h0m21-5h0m4 5h0m3-5h0m43 5h0m45-5h0m39 13h0m50-8h0m-16 103h0m340 0h0m-85 108h0m-256 126h0m2-9h0m-100 108h0m60 0h0m52-9h0m2 18h0m32-18h0m3-9h0m32 9h0m41 0h0m-131 114h0m-58 102h0m-40 102h0m86 6h0m16 6h0m28-6h0m19 18h0m11-18h0m2 6h0m-87 102h0m22-9h0m42 0h0m11 0h0m-85 110h0m4 21h0m4-21h0m8 28h0m4-14h0m2-14h0m41 21h0m8-21h0m43 209h0m2 14h0m14 0h0" stroke="#aa17a7" stroke-width="25.0" stroke-linecap="round" fill="none"/>
<path transform="scale(0.0718,0.1)" d="M2745 3111h0m171 108h0m-581 337h0m12-22h0m126 9h0m-78 423h0m11 0h0m13 18h0m19-9h0m13 9h0m39-9h0m4-18h0m28 27h0m16-9h0m36 9h0m-203 225h0m45-18h0m30 0h0m52 0h0m-34 102h0m30 0h0m2 0h0m4 6h0m1-18h0m4 24h0m1-6h0m5-18h0m51 18h0m-123 108h0m3 0h0m21 18h0m3-18h0m30 0h0m19 0h0m0 9h0m-74 92h0m10 0h0m31 7h0m45 223h0m31-14h0" stroke="#c5009a" stroke-width="25.0" stroke-linecap="round" fill="none"/>
<path transform="scale(0.0718,0.1)" d="M2682 3118h0m81-14h0m245 7h0m-365 108h0m144-14h0m-48 125h0m-368 213h0m77 0h0m16-4h0m2 9h0m28 8h0m18-13h0m229 0h0m39 0h0m-21 216h0m-456 108h0m56 0h0m18 0h0m48 0h0m29 108h0m8-9h0m31 27h0m4-27h0m59 0h0m37-9h0m-142 126h0m-67 117h0m6 99h0m11 0h0m87 6h0m3 6h0m4-12h0m11 6h0m-64 111h0m7-9h0m28 9h0m64-9h0m1-9h0m-128 124h0m23 7h0m4-14h0m10 0h0m3 14h0m4-7h0m7 7h0m36-14h0m75 223h0m28-14h0m0 14h0m40-7h0" stroke="#db008a" stroke-width="25.0" stroke-linecap="round" fill="none"/>
<path transform="scale(0.0718,0.1)" d="M2856 3006h0m6 0h0m192-3h0m-351 115h0m195 7h0m56-14h0m124 108h0m-597 324h0m4-4h0m34-9h0m162 13h0m116 5h0m79-5h0m-555 108h0m73 0h0m-36 225h0m62-9h0m39 0h0m-73 108h0m27 0h0m4-9h0m12 9h0m57 9h0m38-9h0m31 9h0m23-9h0m-228 108h0m102 6h0m21-6h0m-195 108h0m67 0h0m57 9h0m55-9h0m-74 108h0m15 24h0m61-12h0m90-12h0m-175 108h0m17 0h0m42 0h0m16 9h0m17 0h0m9-18h0m37 9h0m-104 108h0m39 14h0m2-28h0m28 14h0m8-14h0m1 14h0m32-21h0m17 21h0m-157 101h0m33 0h0m34 7h0m6 0h0m70 129h0m49-21h0m3 0h0m-140 216h0m156 114h0" stroke="#ec0078" stroke-width="25.0" stroke-linecap="round" fill="none"/>
<path transform="scale(0.0718,0.1)" d="M2879 3003h0m34 0h0m7 0h0m140 3h0m20-3h0m22 3h0m12-6h0m5 3h0m32 0h0m1 3h0m8 5h0m-486 107h0m6-7h0m39 0h0m146 0h0m39 0h0m50 7h0m-171 108h0m37-7h0m165 0h0m-307 111h0m248-3h0m-279 216h0m13 0h0m34 0h0m75 0h0m116 0h0m-114 216h0m42 6h0m1-6h0m-501 117h0m18-9h0m61 0h0m77 9h0m2-9h0m-60 108h0m23 27h0m11-18h0m35 0h0m25-9h0m35 0h0m23-9h0m31 0h0m10 0h0m29 9h0m-359 114h0m83-6h0m0 6h0m8 102h0m22 18h0m122-9h0m-111 81h0m57 18h0m29 0h0m20 0h0m6-12h0m6 6h0m14 18h0m41-12h0m-171 108h0m0 9h0m13-9h0m27-9h0m30 18h0m-90 99h0m3 7h0m17-7h0m49 14h0m6 15h0m5-22h0m7-7h0m3 14h0m5-14h0m9 7h0m16-14h0m5 0h0m5 14h0m1-7h0m-101 115h0m123 87h0m3 21h0m17-14h0m9 7h0m24 0h0m-156 108h0m-54 108h0m6 0h0m41 0h0m1 0h0m29 0h0m84 108h0m9 0h0m12 0h0m3 6h0m31-6h0m48 0h0" stroke="#fa0065" stroke-width="25.0" stroke-linecap="round" fill="none"/>
<path transform="scale(0.0718,0.1)" d="M2983 3006h0m99 0h0m37 5h0m57-2h0m-331 109h0m15-14h0m-13 115h0m9 14h0m235-14h0m-675 216h0m8 2h0m1-9h0m0 12h0m2-7h0m5 7h0m2-17h0m0 12h0m1-2h0m0 4h0m0 8h0m4-5h0m2 7h0m2-10h0m0-4h0m2-5h0m1 2h0m1 10h0m3-12h0m1 19h0m1-7h0m1 12h0m2-26h0m0 14h0m2 2h0m1 5h0m1-12h0m2 7h0m1 3h0m4-24h0m0 12h0m1 4h0m0-19h0m0 29h0m0-19h0m1 17h0m1 16h0m1-52h0m0 9h0m1-7h0m0 15h0m1 26h0m1 4h0m1-23h0m0 28h0m1-14h0m3 5h0m0-15h0m0-11h0m0-12h0m1 45h0m1-10h0m0-26h0m1 17h0m1-14h0m0-10h0m1 38h0m0-24h0m1-12h0m0 19h0m0 15h0m2 2h0m0-31h0m0 12h0m2-24h0m0 31h0m0-9h0m2-7h0m1 19h0m0-3h0m0-9h0m238 110h0m45 0h0m26 0h0m-474 117h0m404 99h0m-332 117h0m22 90h0m14-9h0m159 18h0m-204 216h0m7 114h0m145 0h0m-12 102h0m2 9h0m-140 99h0m49 0h0m25-14h0m214 21h0m-101 216h0m-235 101h0m67 0h0m13 0h0m-57 108h0m188 108h0m29 0h0m7 6h0m27-6h0m25 0h0" stroke="#ff0051" stroke-width="25.0" stroke-linecap="round" fill="none"/>
<path transform="scale(0.0718,0.1)" d="M2113 3003h0m110 3h0m12 0h0m24 3h0m40 0h0m8-31h0m6 6h0m2 46h0m-89 74h0m17 7h0m75 14h0m9-7h0m8-7h0m-239 108h0m28 7h0m11 14h0m25-7h0m5-28h0m23 7h0m44 28h0m41-14h0m88 0h0m130 0h0m36 0h0m13-14h0m67 21h0m3 0h0m-238 97h0m18 0h0m50-3h0m2-26h0m2 3h0m2 43h0m3-33h0m2 3h0m5-13h0m9 20h0m0-3h0m2 16h0m7-13h0m1 6h0m6 4h0m10 3h0m2-10h0m2 7h0m224 101h0m17 2h0m38-2h0m9 2h0m18-2h0m3 2h0m14-2h0m16 0h0m19 0h0m12 2h0m6-2h0m0 0h0m-364 126h0m40-9h0m-108 99h0m132 0h0m18 0h0m43 0h0m25 0h0m-309 114h0m22-6h0m131 12h0m7-6h0m21-18h0m9 42h0m3-12h0m0-30h0m27 24h0m19-6h0m14-6h0m17 6h0m0-12h0m-125 105h0m23 18h0m17-18h0m1 9h0m80-18h0m8 18h0m12 0h0m47 9h0m16-9h0m-179 99h0m67 0h0m108 18h0m43-9h0m-240 108h0m19-6h0m64 0h0m28 12h0m16-12h0m38 6h0m2 12h0m-135 105h0m44-27h0m14 27h0m4-18h0m18 9h0m20 0h0m-179 114h0m89 0h0m10 0h0m63-6h0m2 108h0m0 9h0m-96 113h0m1 7h0m-8 87h0m9 7h0m0-14h0m0-7h0m60 14h0m16 14h0m7-21h0m5 28h0m1-7h0m8-7h0m-129 101h0m3 7h0m27 0h0m13 7h0m-26 114h0m0-45h0m5 25h0m4 15h0m2-25h0m2 15h0m6-5h0m1-5h0m3 25h0m1-20h0m2 5h0m4-5h0m0-10h0m0 15h0m3-5h0m9-5h0m2 20h0m7-25h0m2-10h0m0-5h0m0 40h0m-85 84h0m29 14h0m4 4h0m10-27h0m0 31h0m2 14h0m1-18h0m1 22h0m12-35h0m7 0h0m2 9h0m5-5h0m29 9h0m41-9h0m-139 126h0m1-30h0m13 24h0m4-12h0m2 0h0m1-6h0m1 18h0m4-6h0m1 12h0m6-30h0m1 18h0m3 0h0m4-6h0m9 0h0" stroke="#008bfb" stroke-width="25.0" stroke-linecap="round" fill="none"/>
<path transform="scale(0.0718,0.1)" d="M2152 3003h0m7 3h0m19 8h0m23-14h0m20 3h0m6 0h0m10-8h0m8 3h0m5 35h0m14-44h0m9 3h0m20 11h0m1 30h0m17-19h0m0 14h0m11-19h0m-398 102h0m155 7h0m23-7h0m15 7h0m22 0h0m46-14h0m0-7h0m24 14h0m47-7h0m7 7h0m24 7h0m-194 94h0m12 0h0m7 0h0m11 7h0m58 0h0m12 0h0m18-7h0m22 0h0m0-14h0m10 7h0m7 14h0m14 29h0m3-36h0m4 7h0m100 7h0m15 0h0m13-14h0m0 21h0m197-7h0m10 0h0m-238 108h0m25-10h0m13 0h0m1 6h0m11-13h0m1 20h0m2-7h0m6-3h0m1 3h0m11 10h0m0-26h0m4 16h0m1-32h0m3 39h0m0 13h0m2-20h0m1-19h0m1-3h0m0 29h0m2-39h0m1 3h0m2 16h0m1-3h0m11 13h0m2 7h0m0-4h0m2 10h0m6-19h0m3-4h0m3 20h0m2-10h0m1-13h0m4 7h0m6 16h0m0-16h0m0 9h0m302 107h0m-364 106h0m56-9h0m34 9h0m3-4h0m4 4h0m2-4h0m46 0h0m7 4h0m-156 99h0m1 18h0m10 9h0m72-27h0m43 18h0m154-18h0m-297 117h0m11-6h0m40 6h0m56 6h0m15 12h0m2-18h0m8-6h0m3 6h0m26 0h0m3 6h0m14-12h0m9 30h0m1-18h0m1 24h0m3-30h0m3 6h0m6-6h0m-129 135h0m23-18h0m4-18h0m17 18h0m4-27h0m18 27h0m13-18h0m11 18h0m3-18h0m6 9h0m14 18h0m12-9h0m82-9h0m3 9h0m21-27h0m-177 135h0m176-9h0m-171 108h0m13 18h0m18-6h0m1-6h0m22-6h0m14-18h0m0 36h0m6-24h0m9 12h0m0 12h0m13 0h0m1-36h0m8 18h0m13-12h0m-94 120h0m2 27h0m12-27h0m11 0h0m27 0h0m84 0h0m-262 114h0m29-12h0m3 12h0m35 6h0m174-12h0m-123 117h0m8-18h0m7 0h0m15 18h0m31-18h0m5 9h0m15-9h0m-40 117h0m-123 108h0m34 21h0m4 0h0m3 8h0m21-29h0m20 0h0m32-7h0m2-7h0m2 7h0m4 0h0m8 7h0m3-7h0m3 14h0m3-7h0m2-7h0m14 14h0m-181 101h0m26 0h0m0 14h0m12-7h0m17-7h0m11-7h0m1 7h0m4-14h0m0 28h0m1-14h0m32 0h0m-95 113h0m42 10h0m0 11h0m2-26h0m2 5h0m1-5h0m3-10h0m0-5h0m3 20h0m0 5h0m7 0h0m4-10h0m0 10h0m2-25h0m0 10h0m2 15h0m5-10h0m2-10h0m0 5h0m2 10h0m0-5h0m3 5h0m5 5h0m0-20h0m0 15h0m1-10h0m1 15h0m0-5h0m1-10h0m3 0h0m2 5h0m1 5h0m1-20h0m-85 128h0m10-5h0m18-9h0m1 18h0m6-13h0m1-5h0m2 14h0m4 17h0m2-31h0m1 9h0m0 18h0m8-18h0m2 13h0m3-8h0m1-5h0m4 0h0m5 0h0m8-4h0m13 4h0m6 5h0m2-5h0m14 0h0m46 0h0m-153 132h0m1-30h0m4 6h0m2-6h0m1 6h0m5-18h0m1 6h0m9 12h0m1 6h0m2-6h0m2 12h0m1 0h0m4-12h0m1 12h0m1 12h0m1-6h0m2-18h0m0-6h0m1 0h0m0 6h0m1 6h0m0 6h0m3-6h0m0 6h0m6-18h0m2 12h0" stroke="#007ef6" stroke-width="25.0" stroke-linecap="round" fill="none"/>
<path transform="scale(0.0718,0.1)" d="M2105 3003h0m6-3h0m37 9h0m30-9h0m64 9h0m5 5h0m9 3h0m0-33h0m6 8h0m3 33h0m43 0h0m5-25h0m5 3h0m4 14h0m32-8h0m-282 95h0m40 14h0m50-14h0m1-7h0m24 21h0m7-7h0m65 14h0m3-7h0m-153 108h0m15 7h0m46-21h0m6-7h0m1 21h0m9 0h0m21 7h0m59-7h0m15 0h0m211 7h0m28-14h0m62 0h0m4-7h0m-154 122h0m37 3h0m5-23h0m-51 238h0m2-13h0m77 13h0m4-13h0m1 13h0m6 13h0m9-9h0m18-17h0m5 17h0m4 5h0m14-22h0m22 13h0m6-13h0m2 9h0m-131 85h0m10 9h0m4 9h0m7 0h0m4-18h0m5 0h0m3 18h0m67 9h0m23 0h0m47-18h0m0 18h0m75-9h0m-294 114h0m2-12h0m86 6h0m35 24h0m3-12h0m4 0h0m4-12h0m12 6h0m29-12h0m9 0h0m1 12h0m0-18h0m0 24h0m7-24h0m3-6h0m-122 108h0m4 18h0m70 0h0m40 0h0m6 9h0m9-18h0m3 9h0m23 0h0m27-9h0m2 18h0m22-18h0m16 18h0m11-9h0m10 0h0m-164 126h0m178-18h0m17 0h0m-257 114h0m29 0h0m36 6h0m3-18h0m4 6h0m17 12h0m10-6h0m10 18h0m19-6h0m5-6h0m-113 78h0m19 18h0m30 18h0m5-18h0m53 9h0m79-9h0m-250 102h0m0 6h0m47 24h0m1-36h0m160 12h0m-81 108h0m55-9h0m43 9h0m-182 216h0m7-7h0m4 0h0m6 7h0m2 14h0m6-21h0m7 7h0m4 0h0m11 0h0m1 0h0m15 7h0m3-7h0m24-14h0m23 14h0m10 0h0m26 0h0m5 0h0m7-14h0m-244 122h0m3 0h0m30 7h0m11-7h0m2-7h0m16 0h0m7 7h0m5 0h0m36-7h0m2-7h0m-53 122h0m-6 108h0m0 9h0m21-13h0m8 4h0m5 18h0m11-22h0m1 4h0m2-9h0m12 5h0m2 9h0m6-14h0m14 5h0m10 4h0m9-4h0m47 4h0" stroke="#006fed" stroke-width="25.0" stroke-linecap="round" fill="none"/>
<path transform="scale(0.0718,0.1)" d="M2156 3006h0m22 3h0m0-6h0m74 22h0m10-11h0m2 8h0m10-2h0m1-20h0m0 11h0m11-2h0m21 2h0m6-2h0m1 8h0m2-44h0m7 41h0m8-19h0m2 14h0m1-3h0m7-3h0m19-3h0m19 6h0m-196 84h0m0 42h0m17-14h0m131-14h0m31 14h0m3 7h0m66 101h0m115 0h0m69-7h0m-316 324h0m148 9h0m71 0h0m0-18h0m23 9h0m6-18h0m2 14h0m5 0h0m42-5h0m1 5h0m2 13h0m-155 81h0m14 9h0m157 9h0m10 9h0m-280 99h0m128 126h0m3-18h0m8 0h0m15 0h0m18 0h0m18 9h0m15-18h0m24 18h0m21-9h0m30-9h0m57-9h0m28 9h0m2 9h0m-193 108h0m80 18h0m41-9h0m-153 99h0m0 18h0m0-30h0m0 6h0m69 0h0m3 18h0m4-24h0m1 6h0m1 12h0m27-12h0m19-6h0m1 6h0m-88 123h0m28-9h0m23 9h0m8 0h0m10 0h0m-153 105h0m3-6h0m29 0h0m7-6h0m38-12h0m45 117h0m4 18h0m13-9h0m17 9h0m24-9h0m23 9h0m10 0h0m-69 207h0m1 0h0m24-14h0m54 21h0m-198 101h0m3 7h0m2 7h0m4-21h0m2 7h0m3 21h0m12-21h0m6 0h0m3 7h0m5 0h0m7-7h0m18 0h0m8-7h0m9 7h0m84-7h0" stroke="#575fdf" stroke-width="25.0" stroke-linecap="round" fill="none"/>
<path transform="scale(0.0718,0.1)" d="M2178 2995h0m37 14h0m22-20h0m21-16h0m4 36h0m25-9h0m6 6h0m16-25h0m-28 130h0m23 7h0m8-14h0m5-7h0m5 14h0m18-14h0m24 7h0m370 7h0m-198 101h0m62 7h0m-264 342h0m11-22h0m3 13h0m13-9h0m23-4h0m8 4h0m16-4h0m97 17h0m4-17h0m3-5h0m6 31h0m2-13h0m66-13h0m18 9h0m-175 103h0m42 27h0m17-18h0m2 9h0m-68 90h0m13 0h0m12 6h0m8 0h0m46 12h0m103 207h0m-65 216h0m7 0h0m-95 99h0m8 18h0m41-42h0m16 42h0m4-24h0m1 12h0m3-6h0m3 12h0m2-24h0m-89 129h0m13 0h0m38-9h0m4-9h0m2 18h0m22-9h0m28-18h0m23 27h0m8 9h0m3-27h0m102 18h0m-190 322h0m14-7h0m6 7h0m10 0h0m17 7h0m10-14h0m15 7h0" stroke="#794cce" stroke-width="25.0" stroke-linecap="round" fill="none"/>
<path transform="scale(0.0718,0.1)" d="M2333 3125h0m94-7h0m1 0h0m394-7h0m39 0h0m-379 108h0m1 7h0m28-7h0m62 7h0m42 0h0m242 0h0m27-7h0m-551 315h0m17 9h0m16 9h0m60-13h0m1 4h0m14 5h0m80 13h0m-92 90h0m18 9h0m34-18h0m5 27h0m13-27h0m-107 123h0m17 0h0m-12 201h0m22 27h0m22-9h0m80-18h0m16 18h0m11-9h0m14 9h0m16 9h0m-228 198h0m65-9h0m25 9h0m14 9h0m25 0h0m45-9h0m35 0h0m7 0h0m31-18h0m-224 132h0m9 0h0m90 12h0m1-6h0m18 6h0m-55 90h0m50 0h0m4-9h0m39 18h0m15-9h0m46 108h0m7 0h0m-59 230h0m6-7h0m94 0h0" stroke="#9233b9" stroke-width="25.0" stroke-linecap="round" fill="none"/>
<path transform="scale(0.0718,0.1)" d="M2842 3104h0m11 21h0m6-7h0m-545 425h0m43 0h0m35-4h0m117 31h0m236 189h0m20 0h0m-276 126h0m-84 99h0m27 0h0m21 9h0m56-9h0m6-9h0m-43 108h0m-141 117h0m41 0h0m37-9h0m33 0h0m-44 126h0m99-6h0m22 0h0m36-12h0m20 6h0m167-6h0m-297 99h0m20 0h0m6 27h0m46-36h0m21 18h0m-110 108h0m29 0h0m8-21h0m3 28h0m14 7h0m1-14h0m63 216h0m10-7h0m3 14h0" stroke="#aa17a7" stroke-width="25.0" stroke-linecap="round" fill="none"/>
<path transform="scale(0.0718,0.1)" d="M2686 3097h0m79 14h0m2 7h0m50-7h0m87 21h0m23-21h0m-303 115h0m105-7h0m57 0h0m131 7h0m-599 322h0m135-9h0m26 9h0m173-5h0m-256 432h0m26 9h0m41 0h0m90 0h0m-168 207h0m-14 108h0m144 24h0m16-24h0m44 0h0m-145 99h0m32 9h0m25 0h0m6 9h0m-73 99h0m13 0h0m3 0h0m17-28h0m1 28h0m3 29h0m1-43h0m5 28h0m1-7h0m10-21h0m8 7h0m4 14h0m12-7h0m8 14h0m23 209h0" stroke="#c5009a" stroke-width="25.0" stroke-linecap="round" fill="none"/>
<path transform="scale(0.0718,0.1)" d="M2686 3132h0m107-21h0m-119 108h0m79 0h0m33 14h0m49-7h0m53-7h0m-11 108h0m-487 225h0m64-9h0m14 5h0m10-9h0m8 13h0m24 4h0m17-4h0m-147 99h0m65 225h0m-52 108h0m53-18h0m14 9h0m16 9h0m4-9h0m85-9h0m-88 117h0m34 234h0m20 6h0m11-30h0m-88 132h0m1-9h0m50-9h0m19 0h0m3 9h0m-94 106h0m11 14h0m8-14h0m31 0h0m23 0h0m66 216h0" stroke="#db008a" stroke-width="25.0" stroke-linecap="round" fill="none"/>
<path transform="scale(0.0718,0.1)" d="M2967 3006h0m74-3h0m39-3h0m84 6h0m14-3h0m-283 115h0m-261 108h0m273-7h0m75 108h0m-580 216h0m76 5h0m9 0h0m31-18h0m5 4h0m116 9h0m37 0h0m39 9h0m75-9h0m12 0h0m83 5h0m-603 103h0m22-9h0m25 9h0m372 114h0m-358 102h0m3 9h0m39-18h0m14 9h0m46 0h0m0-9h0m-54 117h0m14 0h0m88 9h0m13-18h0m12 18h0m14-18h0m25 9h0m4 18h0m23-18h0m21-18h0m4 36h0m-334 90h0m97 0h0m112 6h0m-207 111h0m200-9h0m4 0h0m-68 108h0m25 0h0m22-12h0m37 18h0m3 18h0m7-42h0m6 12h0m52 6h0m-111 108h0m88 9h0m6 0h0m-101 120h0m11 0h0m7-28h0m-81 115h0m58 0h0m11-7h0m182 115h0m-264 216h0m172 108h0m19 0h0m27-6h0m34 6h0" stroke="#ec0078" stroke-width="25.0" stroke-linecap="round" fill="none"/>
<path transform="scale(0.0718,0.1)" d="M2953 3003h0m9 0h0m51 3h0m56 0h0m25-3h0m8-3h0m10-2h0m6-3h0m1 11h0m1 3h0m22-9h0m18 9h0m3-9h0m1-8h0m9 11h0m-525 115h0m39-14h0m54 0h0m18 7h0m117 0h0m86 108h0m62 7h0m-143 104h0m-442 213h0m274 0h0m4-4h0m28 4h0m-447 108h0m91 0h0m-166 216h0m90 0h0m92 0h0m-6 117h0m28 0h0m9 0h0m1-9h0m49 0h0m12 0h0m63 0h0m39 18h0m1-9h0m5-9h0m37 0h0m-352 108h0m34 0h0m106 108h0m45-9h0m6 18h0m-39 93h0m73-6h0m-86 120h0m21-9h0m21 0h0m76 27h0m-134 90h0m35 7h0m2 14h0m2-42h0m5 35h0m12-28h0m14 7h0m16 21h0m46-14h0m-158 108h0m66 0h0m14 0h0m62 122h0m15-7h0m0 7h0m12-7h0m55-7h0m-220 108h0m186 216h0m16 0h0m26 0h0m5 0h0m3 0h0m2 0h0m17 0h0" stroke="#fa0065" stroke-width="25.0" stroke-linecap="round" fill="none"/>
<path transform="scale(0.0718,0.1)" d="M3142 3009h0m19-14h0m2 3h0m2 5h0m-541 108h0m43-7h0m-34 108h0m154 115h0m138 0h0m81 0h0m-589 110h0m5 0h0m1-2h0m1 0h0m3 7h0m0 3h0m2-15h0m3 5h0m2-7h0m0 12h0m3-14h0m0 4h0m0 17h0m0-5h0m2 3h0m1-17h0m0-2h0m4 21h0m1-2h0m0-12h0m4 12h0m2-8h0m1-14h0m0 10h0m1-12h0m1 5h0m1 7h0m3 12h0m0-22h0m0 14h0m0-7h0m2 0h0m0 3h0m0-10h0m1 3h0m1 9h0m0 12h0m0-10h0m1 12h0m3-23h0m0 26h0m1-12h0m2 9h0m0-4h0m4 14h0m1-19h0m0 7h0m0-26h0m1-3h0m0 38h0m1-26h0m0-21h0m0 55h0m2-36h0m0 7h0m1 5h0m0-7h0m0 0h0m2-12h0m1 24h0m2 16h0m1-47h0m0 2h0m0 33h0m0-4h0m2 19h0m1-36h0m1 0h0m1 12h0m143 103h0m-328 108h0m66 0h0m17 207h0m123 117h0m92-18h0m0 18h0m-371 114h0m1-6h0m252 108h0m43 114h0m15-18h0m-80 129h0m4-9h0m36 9h0m-109 106h0m7 0h0m45 0h0m5-21h0m44 14h0m8-7h0m-126 122h0m6-7h0m138 115h0m-139 205h0" stroke="#ff0051" stroke-width="25.0" stroke-linecap="round" fill="none"/>
<path transform="scale(0.0720,0.1)" d="M5449 3015h0m0 3h0m52-16h0m15-3h0m133-4h0m33-13h0m36 39h0m-183 92h0m67 8h0m2-8h0m33 0h0m4 15h0m49 0h0m7 0h0m327 100h0m26-12h0m67 12h0m53-24h0m-221 126h0m83 4h0m6 16h0m1-4h0m6-12h0m10-16h0m8 8h0m12 8h0m9-8h0m6 4h0m19 4h0m28 4h0m-495 101h0m327 12h0m89-6h0m-170 88h0m5 7h0m51 14h0m12-21h0m3 14h0m25 0h0m17-7h0m1 90h0m1-76h0m15-14h0m10 0h0m11 14h0m23-7h0m13 0h0m5 14h0m14-14h0m10 0h0m13 7h0m22 0h0m-176 96h0m17 11h0m7 0h0m4 15h0m8-5h0m1-16h0m4 16h0m15-16h0m12 6h0m6-6h0m37 6h0m-76 110h0m55-7h0m43-14h0m13 7h0m1 28h0m29 0h0m-299 87h0m221-18h0m-81 133h0m16 12h0m2-36h0m9 6h0m13 0h0m23 12h0m22 0h0m-257 108h0m65 0h0m155 22h0m-209 94h0m28-8h0m1 15h0m6 0h0m53-15h0m10 0h0m4 8h0m66-8h0m26 0h0m113 109h0m99 0h0m-426 108h0m74-9h0m34 18h0m5 9h0m8 0h0m47-9h0m16-9h0m-46 109h0m13 6h0m22-12h0m11 0h0m11-12h0m1 0h0m9 36h0m21-24h0m-92 110h0m0 9h0m40-9h0m36 9h0m14-9h0m3 4h0m2 0h0m4 9h0m22-13h0m7 0h0m14 4h0m-230 116h0m42 0h0m50 0h0m3-8h0m18 8h0m1-22h0m2 7h0m7 7h0m10 15h0m-59 94h0m10 4h0m5-9h0m2 9h0m11 0h0m1 0h0m5-13h0m3 4h0m3 9h0m6 0h0m3-9h0m4 18h0m2-22h0m3 18h0m6 13h0m3-22h0m2-18h0m1 9h0m2 18h0m0-5h0m3 23h0m1-27h0m2-18h0m4 4h0m6 9h0m24 5h0m25 9h0m0-27h0m-144 133h0m1-28h0m1 28h0m6 0h0m27 76h0m4-90h0m1 14h0m1-14h0m1 29h0m3-15h0m5-14h0m-122 116h0m26 10h0m1 10h0m5-15h0m6 5h0m1-10h0m5 10h0m3 0h0m0-10h0m7 10h0m6-5h0m20 5h0m7-15h0m8-6h0m3 0h0m5 6h0m0 15h0m3 10h0" stroke="#008bfb" stroke-width="25.0" stroke-linecap="round" fill="none"/>
<path transform="scale(0.0720,0.1)" d="M5440 3005h0m18-6h0m37 3h0m3-3h0m14 6h0m8 7h0m5-7h0m6-10h0m15 10h0m28 0h0m3-16h0m1 29h0m12-23h0m28 13h0m29-3h0m1 20h0m4-10h0m6-3h0m10-4h0m7-16h0m4 23h0m17-16h0m-145 114h0m30 0h0m1-7h0m29 15h0m10 7h0m11-29h0m39 0h0m16 22h0m10-15h0m3 0h0m8 7h0m60 0h0m197 109h0m39 6h0m17 12h0m13-12h0m15 0h0m44 6h0m1-6h0m73 12h0m17-30h0m38-6h0m0 18h0m-253 112h0m73 8h0m10-8h0m1-8h0m4 4h0m17-4h0m52 12h0m12-12h0m0 8h0m-393 111h0m53-6h0m76 0h0m85-6h0m45 12h0m17-6h0m56-6h0m48 6h0m2 6h0m-290 102h0m50 22h0m17-15h0m0-7h0m18 0h0m3-14h0m0 7h0m9 21h0m9-14h0m1-7h0m0 7h0m10 7h0m41-7h0m2 14h0m2-21h0m1-7h0m5 14h0m2-21h0m4 28h0m1-21h0m5 28h0m6 0h0m5-14h0m3 7h0m5 0h0m1-7h0m15 0h0m7-7h0m1 0h0m7-14h0m1 21h0m11 7h0m9 0h0m1 7h0m4-7h0m3-14h0m43 21h0m-190 105h0m0-21h0m0 10h0m0-15h0m9 15h0m7 0h0m10 11h0m7-26h0m8 26h0m12 15h0m0-26h0m0-20h0m0 51h0m4-25h0m1-16h0m6 21h0m0-16h0m1 26h0m2 5h0m1-41h0m10 10h0m1-5h0m5 0h0m2 21h0m2-5h0m5-6h0m39-5h0m2 11h0m16 0h0m-114 103h0m50 14h0m23-7h0m28 0h0m1 7h0m4-7h0m1-21h0m1 21h0m4 14h0m0-21h0m6-22h0m13 8h0m5 14h0m1 14h0m16-7h0m-379 101h0m8 0h0m53-9h0m5 18h0m1 9h0m19-27h0m38 9h0m83 0h0m31-9h0m51 9h0m2 0h0m75 0h0m-194 109h0m18 6h0m5 0h0m3-6h0m21 0h0m8-6h0m4-6h0m2 30h0m2-36h0m1 6h0m0 18h0m6-6h0m3 29h0m2-17h0m2 6h0m0-36h0m10 12h0m1 18h0m26-6h0m26-6h0m54 6h0m-386 102h0m97 7h0m4-14h0m41 7h0m27 0h0m19 0h0m55 0h0m12-7h0m17 7h0m65 0h0m-259 101h0m6 15h0m18 7h0m8-7h0m1-8h0m4 8h0m0-15h0m1 7h0m5 0h0m2-7h0m10 7h0m5 0h0m1-7h0m4 0h0m22 15h0m15-15h0m14-7h0m72 14h0m99 8h0m38 101h0m53 0h0m-442 108h0m54 18h0m0-18h0m14 9h0m4 0h0m15-9h0m1 0h0m5 0h0m57 0h0m8-9h0m22 18h0m10-18h0m3 118h0m2 0h0m52 12h0m2 6h0m3-18h0m10-12h0m4 30h0m7-42h0m3 18h0m-96 101h0m56 9h0m12 9h0m22 0h0m24-14h0m2 14h0m4 4h0m7 0h0m7-13h0m-224 112h0m28 0h0m4 0h0m22 15h0m1-7h0m5-8h0m29 0h0m2-7h0m5 22h0m2-22h0m1 15h0m1-15h0m0-14h0m2 21h0m10-7h0m7 15h0m7 7h0m1-22h0m6-14h0m2 29h0m0-22h0m0 36h0m0-29h0m115 7h0m-176 113h0m16-4h0m5 0h0m1-5h0m1 5h0m1 13h0m3-4h0m0-23h0m2 5h0m2 9h0m4-5h0m1 5h0m3 9h0m0-18h0m10 18h0m0 4h0m8-9h0m5 5h0m0-18h0m6 4h0m3 9h0m1-9h0m1 23h0m2-32h0m1 14h0m11 4h0m4-4h0m2 4h0m23-9h0m2 5h0m12 0h0m9 27h0m-183 81h0m14 0h0m2 7h0m14 0h0m11 22h0m4-36h0m5 14h0m0-14h0m1 14h0m2-7h0m4 7h0m12-7h0m7-7h0m9 22h0m1-22h0m-119 141h0m11-25h0m6 5h0m2 5h0m4 5h0m1-26h0m3 16h0m6-5h0m2 10h0m1-21h0m9 11h0m2 15h0m1-31h0m5 16h0m0 10h0m4-10h0m0-5h0m20 5h0m1-5h0m4-6h0m5 11h0m8 0h0m0-16h0m5 16h0m2 0h0m3 5h0m0 10h0m1-26h0m0-5h0m5 31h0m4-10h0m17-5h0m0 5h0m8 0h0m22 0h0m5-10h0m0 15h0" stroke="#007ef6" stroke-width="25.0" stroke-linecap="round" fill="none"/>
<path transform="scale(0.0720,0.1)" d="M5459 2989h0m11 36h0m15-26h0m24 6h0m24-3h0m20 6h0m6 13h0m2-26h0m25 20h0m38-20h0m3 20h0m21 6h0m1-22h0m7-7h0m29 33h0m23-17h0m1-19h0m5 16h0m1-23h0m1 43h0m10-10h0m1-3h0m64-4h0m-267 105h0m17 8h0m81 0h0m4-8h0m8 8h0m32 0h0m26-8h0m39 8h0m45-8h0m173 91h0m0 30h0m7-12h0m31 0h0m12 0h0m15 0h0m5 6h0m9 12h0m13-24h0m12 24h0m2-6h0m8 6h0m7-24h0m25 0h0m84 18h0m2 12h0m29-24h0m11 18h0m-253 90h0m53 4h0m4 0h0m13 0h0m8 4h0m4-8h0m52 0h0m10-4h0m17 16h0m6-4h0m19-12h0m4 4h0m10-8h0m-170 123h0m38-6h0m7 12h0m14 67h0m14-61h0m4-6h0m-228 89h0m22 7h0m20 7h0m2 15h0m0-8h0m3-21h0m22 14h0m4-14h0m11 7h0m121-14h0m10 28h0m17-14h0m-100 103h0m3 16h0m34-5h0m-8 103h0m15 0h0m9 7h0m10-7h0m2 0h0m55 7h0m7-14h0m4 7h0m11-7h0m-395 115h0m104 9h0m2-18h0m8 18h0m59-9h0m85 9h0m40 0h0m46 0h0m-63 82h0m7 36h0m1-6h0m7-18h0m0-12h0m40 36h0m34-18h0m29 0h0m-286 108h0m36 0h0m86 7h0m9 7h0m14-7h0m-182 109h0m15 7h0m1-22h0m5 7h0m8-7h0m33 7h0m47 8h0m0-15h0m25 15h0m77 0h0m22 14h0m-233 195h0m9 0h0m35-9h0m6 0h0m8 18h0m5-9h0m9 0h0m4-18h0m0 27h0m4-9h0m1 9h0m42-9h0m31-9h0m56 9h0m20 18h0m9-36h0m-109 127h0m52-6h0m1 6h0m8 6h0m2-18h0m3 30h0m3-24h0m1 6h0m1 12h0m7-18h0m0 12h0m4 0h0m9 0h0m4 18h0m1-18h0m23 6h0m-118 87h0m49 9h0m1 5h0m6-5h0m26 0h0m5 0h0m5 9h0m5-4h0m4-14h0m1 14h0m0-9h0m1 13h0m1-9h0m5 0h0m2-4h0m5 0h0m3 13h0m5-9h0m1-13h0m9 18h0m-236 103h0m83 0h0m9 8h0m0-8h0m3 8h0m1 7h0m4 14h0m2-29h0m1 15h0m9 7h0m5-36h0m5 14h0m1 22h0m2-7h0m-56 195h0m7 7h0m11 7h0m3-7h0m23 0h0m15 22h0" stroke="#006fed" stroke-width="25.0" stroke-linecap="round" fill="none"/>
<path transform="scale(0.0720,0.1)" d="M5719 2976h0m-273 32h0m46-16h0m0 23h0m4-26h0m9 3h0m15 10h0m13 13h0m10 0h0m36-7h0m14-9h0m5 13h0m81-7h0m0 13h0m7-29h0m6 23h0m2-26h0m4 6h0m11 33h0m27-7h0m68-10h0m6 4h0m-182 94h0m4 15h0m30-22h0m27 14h0m46-7h0m1 7h0m11 8h0m9-15h0m2-7h0m11 29h0m8-22h0m15 7h0m99 0h0m135 97h0m34 18h0m5-6h0m40 6h0m8 0h0m45 0h0m11-12h0m0-6h0m3 18h0m4-6h0m3-18h0m-161 118h0m10 8h0m11 32h0m0-44h0m9 28h0m0-16h0m21 0h0m42 0h0m22-16h0m-98 119h0m3 12h0m-161 81h0m0 14h0m17 14h0m24-7h0m15-7h0m-31 305h0m45-74h0m28-7h0m47-7h0m9 7h0m33 0h0m25 0h0m7-7h0m6 14h0m3 14h0m17-28h0m0 28h0m15-21h0m-327 108h0m17-9h0m151 9h0m52 9h0m-65 215h0m9-7h0m137 22h0m-82 79h0m0 22h0m-33 220h0m27-9h0m57-9h0m-145 115h0m62-12h0m7-6h0m1 18h0m3-18h0m2 30h0m6-24h0m3-6h0m2 12h0m1 12h0m10-18h0m62 110h0" stroke="#575fdf" stroke-width="25.0" stroke-linecap="round" fill="none"/>
<path transform="scale(0.0720,0.1)" d="M5446 2995h0m13 26h0m73-22h0m8 0h0m19 26h0m89-13h0m97-7h0m49 7h0m109-4h0m30 443h0m19-6h0m99-12h0m30 24h0m24-12h0m-159 427h0m38 0h0m64 9h0m33-9h0m-97 203h0m63 7h0m43 7h0m21-7h0m-137 115h0m46 0h0m-41 226h0m75 0h0m36 0h0" stroke="#794cce" stroke-width="25.0" stroke-linecap="round" fill="none"/>
<path transform="scale(0.0720,0.1)" d="M5826 3008h0m97 105h0m-87 121h0m12-24h0m27 12h0m24 12h0m19-18h0m135 223h0m86-18h0m-348 343h0m27 0h0m7 14h0m113-14h0m34 99h0m7-9h0m21 9h0m57 27h0m-49 213h0m15-28h0m7 21h0m-35 101h0m68 217h0m29 0h0" stroke="#9233b9" stroke-width="25.0" stroke-linecap="round" fill="none"/>
<path transform="scale(0.0720,0.1)" d="M5671 3216h0m21 0h0m156 12h0m20 0h0m0-6h0m36 6h0m16-6h0m24 24h0m-181 84h0m10 0h0m51 0h0m22 4h0m5-4h0m5 4h0m9-8h0m15 0h0m36 8h0m37 105h0m2 12h0m13 17h0m22-17h0m30-6h0m66 0h0m-298 326h0m57 0h0m208 74h0m37 27h0m-87 231h0m14 8h0m13-22h0m81 0h0m-82 130h0m-70 204h0m-102 204h0m190 336h0m48-7h0" stroke="#aa17a7" stroke-width="25.0" stroke-linecap="round" fill="none"/>
<path transform="scale(0.0720,0.1)" d="M5675 3234h0m38-12h0m1-6h0m5 18h0m11-12h0m69 0h0m2-12h0m56 24h0m4-18h0m10 18h0m51 0h0m-134 96h0m15 8h0m41-12h0m52 4h0m10-4h0m6 0h0m55 137h0m34-12h0m29-18h0m3 18h0m15 6h0m35-24h0m-328 217h0m16 114h0m40 0h0m63 14h0m11-14h0m22 108h0m45 9h0m5 0h0m95-18h0m46 9h0m27 9h0m-140 222h0m18-21h0m80 7h0m-44 94h0m46 22h0m68-15h0m-192 242h0m5-27h0m65 9h0m59 0h0m-201 222h0m17 0h0m26-23h0m130 343h0m37 0h0m34 7h0" stroke="#c5009a" stroke-width="25.0" stroke-linecap="round" fill="none"/>
<path transform="scale(0.0720,0.1)" d="M6368 3005h0m-324 108h0m-372 121h0m5-6h0m17-18h0m18 18h0m25-6h0m12 18h0m15-24h0m106 0h0m65 12h0m3 6h0m-155 96h0m76 8h0m5-16h0m10 4h0m19 8h0m8-8h0m8 4h0m60 127h0m39-6h0m24-12h0m46 6h0m-322 210h0m25 109h0m8 14h0m71-21h0m77 124h0m57-9h0m75 0h0m-226 109h0m47 0h0m4 0h0m79 94h0m18 14h0m7-7h0m4 14h0m13-21h0m13 7h0m22 108h0m7 0h0m40 7h0m-55 235h0m1-27h0m20 9h0m-216 109h0m26 108h0m35-9h0m6 14h0m2-5h0m17 13h0m32 312h0m0 7h0m41-7h0m2 0h0m89 7h0m6-7h0" stroke="#db008a" stroke-width="25.0" stroke-linecap="round" fill="none"/>
<path transform="scale(0.0720,0.1)" d="M6122 3008h0m103 0h0m62-3h0m142 0h0m15 0h0m138 10h0m27-16h0m24 9h0m-632 105h0m86 8h0m77-15h0m8 15h0m17-29h0m29 21h0m2-7h0m-541 116h0m13 6h0m75-6h0m3 0h0m8 0h0m13 0h0m9-6h0m20 6h0m54 18h0m65-24h0m5 12h0m0-18h0m-165 124h0m7 0h0m83-4h0m1 0h0m31 0h0m68 103h0m6 0h0m42 18h0m61-12h0m104 0h0m-547 216h0m114 0h0m26 109h0m7 7h0m4-7h0m54 0h0m57 0h0m3 0h0m36 7h0m0-7h0m35 90h0m66 18h0m-299 109h0m75 6h0m109-6h0m4 0h0m35 122h0m42-14h0m10 101h0m59 7h0m10 0h0m64 0h0m-131 217h0m7 0h0m73-9h0m10 9h0m-354 222h0m129-5h0m26-4h0m120 112h0m59 8h0m-212 101h0m100 108h0m69 7h0m71-7h0" stroke="#ec0078" stroke-width="25.0" stroke-linecap="round" fill="none"/>
<path transform="scale(0.0720,0.1)" d="M6107 3005h0m183 3h0m9-6h0m271 3h0m14-3h0m103 6h0m22-3h0m-618 108h0m108 15h0m12-22h0m10 22h0m-601 94h0m73 12h0m32-18h0m2 12h0m24-6h0m101 0h0m10 12h0m-204 96h0m13 0h0m85 0h0m86 0h0m75-4h0m6 8h0m110 111h0m-300 102h0m12 0h0m5 0h0m74 217h0m46-7h0m66 133h0m1-18h0m3 0h0m1 9h0m30-18h0m20 18h0m10-9h0m33 9h0m1-9h0m13-9h0m-194 118h0m20 0h0m79 108h0m12 0h0m10-7h0m1 21h0m31 94h0m34 15h0m-12 193h0m69 27h0m-314 199h0m45 0h0m29 0h0m3 0h0m47 9h0m24 0h0m-272 208h0m92 0h0m215 108h0m80 0h0m57-7h0" stroke="#fa0065" stroke-width="25.0" stroke-linecap="round" fill="none"/>
<path transform="scale(0.0720,0.1)" d="M6295 3005h0m294 0h0m25 0h0m2 3h0m-436 98h0m32 15h0m-493 89h0m2 12h0m38 0h0m43 0h0m45 12h0m-150 96h0m84 8h0m33-8h0m64 0h0m55 103h0m150 6h0m-288 332h0m64-7h0m14 7h0m-12 210h0m51 0h0m101 87h0m20 21h0m10 7h0m65 7h0m21-14h0m-219 191h0m9 0h0m5 0h0m83-68h0m45-15h0m7-14h0m-186 128h0m6-5h0m3 0h0m3 0h0m6-5h0m1 20h0m4-5h0m1-20h0m0 20h0m2-15h0m2 20h0m0-10h0m3 5h0m1-25h0m0 10h0m3 25h0m0-30h0m1 25h0m1-36h0m2 16h0m1 5h0m2 20h0m2-15h0m0-5h0m1 15h0m1-25h0m0 30h0m4-10h0m0 5h0m1-15h0m1-5h0m0 10h0m1-26h0m35 120h0m67 36h0m58-18h0m17 0h0m-351 100h0m-9 108h0m18 0h0m18 0h0m60 0h0m30 5h0m135 103h0m-28 217h0m80 7h0m49 0h0m162 102h0" stroke="#ff0051" stroke-width="25.0" stroke-linecap="round" fill="none"/>
<path transform="scale(0.0720,0.1)" d="M5463 2979h0m15 33h0m91-4h0m50 10h0m30 0h0m18-3h0m6-20h0m-80 126h0m49-8h0m18 22h0m3-7h0m10-7h0m7 0h0m81-8h0m26 15h0m207 100h0m29-18h0m4 24h0m24-24h0m15 6h0m3 6h0m50-12h0m71 12h0m-196 108h0m2 4h0m16 0h0m51 0h0m33-4h0m23-4h0m6 8h0m15-4h0m4 0h0m9 4h0m15 4h0m-295 107h0m74-6h0m-110 115h0m75-7h0m7-21h0m34 35h0m34-7h0m17 7h0m9-14h0m6-14h0m13 14h0m15 0h0m1 14h0m10 0h0m1-7h0m5 0h0m3 15h0m4-22h0m5 7h0m5-14h0m4 7h0m2-14h0m0 7h0m-112 115h0m5 16h0m5-21h0m8 21h0m23-36h0m17 20h0m4-5h0m5 16h0m6 98h0m11 81h0m39-67h0m41 0h0m0-21h0m-445 115h0m125 9h0m154 9h0m39-18h0m-75 109h0m46 6h0m5 0h0m4 6h0m2-18h0m4 0h0m6 30h0m7-24h0m5 0h0m2 12h0m2-12h0m6 6h0m38 6h0m3-6h0m-414 102h0m125 7h0m56 0h0m163-7h0m22 0h0m36 14h0m-216 87h0m21 15h0m14-8h0m9 8h0m38-8h0m12 15h0m2-15h0m78 109h0m15 0h0m10 0h0m33 0h0m145 0h0m-352 108h0m16-9h0m34-9h0m10 36h0m21-9h0m10 0h0m15 100h0m2 6h0m7-6h0m32 12h0m3 0h0m-81 123h0m1-27h0m35 0h0m2 0h0m24-4h0m19 9h0m33-27h0m0 22h0m11 0h0m36 0h0m-258 108h0m12 0h0m32 8h0m10-8h0m13-7h0m14 15h0m17 0h0m7 7h0m10-7h0m5-22h0m0-7h0m2 14h0m5 15h0m2-22h0m28 96h0m103-96h0m-157 141h0m2-14h0m3 9h0m0-13h0m0-5h0m3 14h0m3-23h0m5 23h0m5-9h0m0-5h0m2 9h0m3-4h0m5 0h0m12 0h0m1-9h0m6-5h0m0-8h0m0 49h0m2-49h0m8 13h0m1 13h0m6-9h0m2 14h0m4-5h0m4-4h0m10 0h0m4 4h0m25-18h0m1 27h0m-166 95h0m5-7h0m10 0h0m2-7h0m7 29h0m0-15h0m17 0h0m14-7h0m6 7h0m2 0h0m9 7h0m-95 102h0m3-5h0m2 5h0m1 15h0m4 5h0m4-31h0m0 6h0m9 0h0m20 5h0m17 5h0m1 0h0m7-26h0m0 31h0m3 0h0m9-31h0m0 26h0m1-5h0m2 20h0m2-31h0m7 16h0m8-5h0m9 0h0" stroke="#008bfb" stroke-width="25.0" stroke-linecap="round" fill="none"/>
<path transform="scale(0.0720,0.1)" d="M5469 3005h0m10 13h0m19-3h0m0 10h0m10-30h0m21 13h0m28-6h0m3 10h0m17-7h0m13-13h0m5 10h0m4 13h0m40-7h0m7 0h0m19-3h0m2-13h0m21 29h0m9-3h0m15-26h0m-146 129h0m24 7h0m1-15h0m17-7h0m16 7h0m37-7h0m10 0h0m2 22h0m25-7h0m6-8h0m15 0h0m4 8h0m26-8h0m31 0h0m4-7h0m165 104h0m46 24h0m7-12h0m9 0h0m17 0h0m0-6h0m3 12h0m9 24h0m1-24h0m16-12h0m5 12h0m28-6h0m18-6h0m11 6h0m12 0h0m29 0h0m7 12h0m5 0h0m1-18h0m1-6h0m39 18h0m4-6h0m5-6h0m-244 114h0m31 0h0m17 0h0m8 8h0m5-12h0m86 0h0m8 20h0m1-28h0m1 4h0m-170 117h0m35 0h0m12 24h0m12-24h0m20-6h0m-172 121h0m1-14h0m26 21h0m11-14h0m1-7h0m5-7h0m9 14h0m10-7h0m9-7h0m9 36h0m21-22h0m11 14h0m0-21h0m3 90h0m18-83h0m6 14h0m3-35h0m4 0h0m31 7h0m0 7h0m2 0h0m2 21h0m1 8h0m2-22h0m1-14h0m0 43h0m10-36h0m7 0h0m8 14h0m4-14h0m0-7h0m30 14h0m1-7h0m21 29h0m0-36h0m-186 138h0m0 5h0m24-15h0m2-6h0m5 11h0m2-26h0m1 31h0m1 10h0m3-20h0m12-21h0m2 26h0m8-21h0m4 26h0m2-21h0m12 21h0m22-16h0m15 0h0m4 0h0m8 0h0m22 0h0m-143 116h0m77-7h0m50-7h0m7 0h0m12 21h0m5-28h0m6 14h0m1-22h0m2 36h0m11-14h0m9 28h0m-436 89h0m140 9h0m1 9h0m8-27h0m4 9h0m4-18h0m111 27h0m13 0h0m23 61h0m-69 30h0m43 12h0m7 0h0m16-12h0m0 18h0m5-12h0m0-12h0m3-6h0m11 6h0m2 18h0m1-18h0m7 6h0m30-12h0m2 18h0m15 0h0m-445 102h0m127 0h0m2 7h0m0-14h0m8 14h0m0-7h0m11 7h0m3-7h0m1 0h0m125 7h0m3-7h0m17 7h0m37-7h0m-158 108h0m4 8h0m43-8h0m15 8h0m9-8h0m16 0h0m35 8h0m10-8h0m102-21h0m1 29h0m8 7h0m20-7h0m29-8h0m36 0h0m14 0h0m-348 226h0m2-18h0m0 18h0m15-9h0m8-9h0m26 18h0m15 0h0m16-9h0m27 9h0m2-9h0m3 0h0m2 9h0m3 0h0m4-18h0m6 9h0m4 0h0m20 0h0m38-9h0m14 18h0m12-18h0m36 9h0m18-9h0m10 0h0m-135 112h0m22 18h0m16-12h0m3 0h0m3 6h0m17-6h0m9-18h0m4 18h0m3 12h0m0-30h0m4 30h0m16 69h0m1-75h0m2-12h0m-59 119h0m19-5h0m2 5h0m1-9h0m13 17h0m1-17h0m9 0h0m6 4h0m4 27h0m5-36h0m8 0h0m1 14h0m0 4h0m1-9h0m27 0h0m-255 108h0m22 0h0m8 0h0m21 0h0m2-7h0m5 0h0m2 15h0m8 0h0m4-8h0m6 0h0m7 0h0m8-7h0m3-7h0m0-7h0m14 50h0m3-36h0m1 15h0m4-8h0m3 8h0m10-8h0m9 8h0m3-8h0m-51 109h0m3 0h0m11-18h0m8 31h0m1-18h0m4 18h0m10-22h0m10 9h0m3 0h0m4 13h0m6-27h0m1 14h0m1 22h0m1-13h0m2 22h0m0-13h0m2-23h0m2 18h0m1-4h0m3 4h0m2-13h0m7-9h0m2 9h0m2 9h0m8 0h0m2-5h0m14-9h0m15 5h0m5 18h0m-176 90h0m15 7h0m0 8h0m4-15h0m2 7h0m1-14h0m2 14h0m1-28h0m1 36h0m4-15h0m22 15h0m0-29h0m9 7h0m4 22h0m1-8h0m3 0h0m0 8h0m5 0h0m0-29h0m8 14h0m-122 129h0m9-20h0m9 0h0m2-11h0m0 11h0m7-5h0m0-11h0m7 11h0m3-11h0m1 31h0m0-10h0m1-10h0m6 0h0m2 10h0m0-16h0m5 16h0m8-5h0m5 0h0m10 5h0m3-16h0m4 11h0m0 5h0m3-16h0m5 11h0m3 5h0m10 10h0m1-31h0m9 0h0m3 26h0m4-15h0m27 5h0m14 0h0" stroke="#007ef6" stroke-width="25.0" stroke-linecap="round" fill="none"/>
<path transform="scale(0.0720,0.1)" d="M5447 3005h0m2-6h0m16 29h0m2-33h0m7-3h0m22 16h0m0-13h0m13 23h0m6-3h0m41-16h0m70-7h0m14 20h0m24 6h0m14-16h0m17 16h0m3-6h0m2-7h0m11-6h0m1 16h0m11 16h0m12-26h0m20 0h0m17 3h0m25-6h0m-255 111h0m15-7h0m43 7h0m24-7h0m95 15h0m29-22h0m201 141h0m31-18h0m4 12h0m2-6h0m0-12h0m2-6h0m11 18h0m21-12h0m1 6h0m1 12h0m17-30h0m8 18h0m18 12h0m36-6h0m19 12h0m49-18h0m15-6h0m17 6h0m-252 112h0m12-8h0m28 8h0m8-4h0m22 8h0m10-16h0m1 16h0m5-4h0m1-8h0m4 32h0m1-36h0m2 32h0m1-28h0m1 16h0m3-24h0m54 4h0m15 12h0m7-8h0m11 0h0m8 0h0m25 0h0m0 8h0m-210 111h0m70-18h0m111 30h0m-277 83h0m1 14h0m4 0h0m18-14h0m15 14h0m17 15h0m2-29h0m59 7h0m44 7h0m52-21h0m15 36h0m-119 86h0m26 11h0m31 0h0m2 5h0m67-16h0m-139 109h0m17 0h0m4 7h0m10-7h0m6 0h0m9 7h0m12-7h0m30-7h0m11 7h0m12 7h0m18-7h0m8 0h0m6 21h0m1-21h0m3 28h0m2-28h0m11 7h0m2 0h0m20-21h0m-364 122h0m7 0h0m4 0h0m14 0h0m19 0h0m17-9h0m9 18h0m17 0h0m33 0h0m73-9h0m1 9h0m61-9h0m23-18h0m-122 121h0m57 0h0m1 18h0m6-12h0m5-6h0m5-6h0m1 6h0m11 12h0m5 0h0m7 6h0m32-12h0m-185 115h0m40 0h0m102 7h0m93-28h0m-231 130h0m20-8h0m34-7h0m92 15h0m8 7h0m-215 202h0m3-9h0m13 9h0m15 0h0m41 9h0m18-9h0m10-9h0m36 9h0m70 9h0m48 0h0m12-27h0m8 27h0m-176 100h0m39-6h0m6 6h0m2-6h0m3 12h0m4-12h0m9 12h0m34-12h0m7 12h0m11 0h0m10-6h0m-69 113h0m19 4h0m1-9h0m33-9h0m16 22h0m10-8h0m4-14h0m3 5h0m5 4h0m-233 101h0m60 15h0m2-8h0m32 0h0m13 0h0m1 8h0m5-22h0m7 29h0m11-22h0m3 15h0m-101 216h0m30-7h0m53-14h0" stroke="#006fed" stroke-width="25.0" stroke-linecap="round" fill="none"/>
<path transform="scale(0.0720,0.1)" d="M5443 3002h0m23 6h0m33-19h0m6 23h0m50 3h0m3-26h0m1 29h0m1-13h0m10-13h0m28 13h0m14 3h0m1-13h0m17 10h0m82-10h0m0 39h0m8-45h0m13 13h0m-141 104h0m67 7h0m26-7h0m2-7h0m27 22h0m287 95h0m9 0h0m43 6h0m6-18h0m5 6h0m14 12h0m10 6h0m4-6h0m88 18h0m0-30h0m42 18h0m0-18h0m-250 120h0m47 0h0m15 0h0m21-8h0m23 8h0m8 4h0m1-4h0m7 4h0m37-4h0m26 4h0m-224 105h0m44 0h0m15 0h0m68 0h0m-215 108h0m17 0h0m15 0h0m5 0h0m11-14h0m21 7h0m24 14h0m5 0h0m20 210h0m46 0h0m25-7h0m26 7h0m42 14h0m37-36h0m-313 139h0m31-9h0m4 18h0m10-18h0m28-9h0m36-9h0m42 45h0m100-27h0m-65 203h0m4-7h0m9 21h0m20 14h0m7-14h0m59-21h0m-58 129h0m5 15h0m7-15h0m88-14h0m-164 240h0m101 9h0m-186 97h0m8-6h0m32 6h0m77 18h0m8-24h0m4 0h0m12 0h0m-68 108h0m61 5h0" stroke="#575fdf" stroke-width="25.0" stroke-linecap="round" fill="none"/>
<path transform="scale(0.0720,0.1)" d="M5718 2979h0m-244 23h0m53 10h0m11-4h0m29 7h0m95 6h0m15-35h0m8 22h0m12-9h0m25 3h0m26 6h0m214 425h0m103 12h0m3 6h0m6-18h0m-248 324h0m114 106h0m2 9h0m13 0h0m22 18h0m-41 199h0m27-7h0m7 0h0m43 21h0m4-14h0m23 0h0m17 0h0m-28 108h0m9-7h0m2 0h0m-50 215h0m38 0h0" stroke="#794cce" stroke-width="25.0" stroke-linecap="round" fill="none"/>
<path transform="scale(0.0720,0.1)" d="M5774 3005h0m27 0h0m12 0h0m6 0h0m35 223h0m32-12h0m171 235h0m45-12h0m19 0h0m-358 318h0m70 0h0m25 14h0m16-7h0m29 126h0m92-9h0m28-9h0m-19 217h0m1-14h0m148 144h0m-72 204h0" stroke="#9233b9" stroke-width="25.0" stroke-linecap="round" fill="none"/>
<path transform="scale(0.0720,0.1)" d="M5784 3222h0m79 0h0m1-6h0m12-12h0m53 12h0m-80 122h0m4-4h0m7-8h0m27 4h0m36-4h0m4 8h0m35 111h0m22-6h0m21-6h0m23 18h0m19 0h0m20-24h0m2 6h0m5-12h0m-230 343h0m59 135h0m49-27h0m95 18h0m18-27h0m-55 197h0m-36 58h0m3-50h0m31 50h0m-3 87h0m11-8h0m29 8h0m0-8h0m43-7h0m-8 215h0m-216 118h0m-17 113h0m4-5h0m20 9h0m160 99h0m-40 224h0m85 0h0m37 0h0" stroke="#aa17a7" stroke-width="25.0" stroke-linecap="round" fill="none"/>
<path transform="scale(0.0720,0.1)" d="M5709 3234h0m52-6h0m114 0h0m33-18h0m22 18h0m-164 110h0m0-16h0m13 8h0m51 0h0m27-8h0m47 12h0m50 105h0m26 0h0m30-6h0m33 12h0m42-24h0m-329 240h0m152-6h0m-123 109h0m45 0h0m2 0h0m10 14h0m14-14h0m48 7h0m16-7h0m5 7h0m-22 83h0m62 27h0m30 9h0m61-27h0m49 9h0m-108 224h0m21 0h0m-74 109h0m83-15h0m5 15h0m9-8h0m7-7h0m-50 224h0m86 18h0m-247 204h0m12-9h0m38 9h0m21-5h0m105 325h0m62 0h0" stroke="#c5009a" stroke-width="25.0" stroke-linecap="round" fill="none"/>
<path transform="scale(0.0720,0.1)" d="M5670 3228h0m128 0h0m20-12h0m49 12h0m56-6h0m15 0h0m-33 112h0m6 4h0m10-8h0m60 103h0m17 0h0m15-6h0m43 6h0m-437 222h0m241 0h0m-96 109h0m71 0h0m18-7h0m26 7h0m26 0h0m4 7h0m90 110h0m-188 100h0m168 101h0m47 115h0m1-14h0m-31 231h0m33 9h0m-138 100h0m-38 113h0m4 0h0m213 320h0" stroke="#db008a" stroke-width="25.0" stroke-linecap="round" fill="none"/>
<path transform="scale(0.0720,0.1)" d="M6117 3005h0m13 0h0m21 0h0m149 3h0m136 0h0m134-6h0m57 3h0m-640 108h0m167-7h0m4 22h0m18-15h0m-498 109h0m42 6h0m117-6h0m7-6h0m-83 114h0m76 0h0m38-4h0m52 4h0m212 97h0m0 18h0m23-6h0m-390 108h0m-159 114h0m164-6h0m55 0h0m85 109h0m14 117h0m121 18h0m-235 82h0m175 130h0m65-22h0m58-7h0m-109 108h0m11 15h0m16-22h0m1 14h0m2 0h0m4 8h0m4 7h0m109-7h0m0-29h0m-185 238h0m11-9h0m26 9h0m11 9h0m81-9h0m-408 109h0m77 0h0m88 0h0m-51 108h0m87 0h0m14 0h0m3-4h0m1 9h0m3-5h0m184 101h0m-40 224h0m14 7h0m24-7h0m17 0h0m12 0h0m13 0h0m-13 109h0" stroke="#ec0078" stroke-width="25.0" stroke-linecap="round" fill="none"/>
<path transform="scale(0.0720,0.1)" d="M6087 3005h0m52 0h0m352 0h0m81 3h0m7 10h0m0-13h0m5 7h0m27 0h0m95-4h0m-624 105h0m17 0h0m57 8h0m32-22h0m1 36h0m4-29h0m1-7h0m3 14h0m9 0h0m8 15h0m3-7h0m8-8h0m-596 109h0m6 0h0m37 0h0m5-6h0m27 6h0m37 6h0m9-12h0m49 18h0m6 6h0m30-24h0m51 6h0m6 6h0m30-12h0m23 0h0m-141 114h0m7 0h0m3-4h0m25 0h0m19 0h0m11 8h0m10 0h0m10-8h0m43 4h0m33 91h0m14 24h0m85-6h0m14 12h0m61-18h0m-330 114h0m-286 108h0m87 0h0m75 0h0m11 0h0m9 0h0m98 0h0m-34 109h0m23-14h0m78 14h0m34-7h0m4 7h0m20-7h0m5 115h0m30-9h0m25 18h0m73 18h0m16-18h0m-316 100h0m106 0h0m5 6h0m114 124h0m4-29h0m63 0h0m52 7h0m-36 101h0m59 7h0m-165 217h0m31 9h0m138-9h0m11 0h0m-409 109h0m12 0h0m44 0h0m-54 108h0m80 0h0m8 5h0m20 0h0m33-9h0m12 0h0m-208 221h0m101 0h0m193 115h0m18-7h0m33 7h0m65-7h0m103 109h0m63 0h0" stroke="#fa0065" stroke-width="25.0" stroke-linecap="round" fill="none"/>
<path transform="scale(0.0720,0.1)" d="M6187 3085h0m39-80h0m3 0h0m25 0h0m330-13h0m5 20h0m91-7h0m-519 123h0m2-15h0m14 8h0m29 7h0m79-15h0m-579 115h0m109-6h0m21 6h0m91 0h0m114 211h0m32 0h0m6 18h0m20-12h0m-304 319h0m-11 217h0m253 224h0m18 0h0m-180 101h0m0 5h0m1-10h0m3 10h0m4-10h0m0 15h0m1 5h0m2-10h0m3 0h0m2 0h0m1-5h0m1 10h0m3 5h0m3-15h0m4 0h0m1-15h0m2 30h0m0-5h0m0-20h0m2 5h0m0 5h0m1 10h0m4-25h0m0 20h0m0 5h0m2-20h0m0 5h0m3-16h0m1 46h0m0-10h0m1-5h0m2-31h0m0 41h0m1-30h0m2 41h0m-116 186h0m36 0h0m-77 108h0m19 0h0m89 5h0m18-5h0m26 0h0m7 0h0m127 108h0m-386 109h0m145 0h0m215 108h0" stroke="#ff0051" stroke-width="25.0" stroke-linecap="round" fill="none"/>
<path transform="scale(0.0720,0.1)" d="M5452 3002h0m15 10h0m0-10h0m28 16h0m81-16h0m1 10h0m7-13h0m7 19h0m2-23h0m105 7h0m8 19h0m4-9h0m2 6h0m7-10h0m9 0h0m-99 120h0m10-22h0m66 15h0m18-8h0m26 22h0m259 93h0m35 6h0m4-6h0m5-24h0m9 36h0m24-18h0m36-6h0m59 12h0m3 6h0m2-12h0m-65 108h0m6-8h0m-475 117h0m67 0h0m89 0h0m189 12h0m52-12h0m32-12h0m-232 120h0m30 14h0m1 8h0m8 7h0m29-22h0m9 0h0m20 7h0m62 0h0m1-28h0m1 36h0m1-29h0m7 29h0m4-29h0m44 36h0m4-15h0m6 8h0m64-29h0m-149 110h0m1-10h0m23 5h0m4 21h0m8-11h0m6-5h0m32 11h0m-74 110h0m32 0h0m73 7h0m6-28h0m5 21h0m18-7h0m-417 108h0m138 0h0m15 0h0m126 0h0m67 18h0m-122 97h0m52-12h0m6 6h0m9-12h0m4 24h0m10-18h0m5-6h0m7 12h0m7 6h0m24-6h0m4 0h0m36-6h0m16 12h0m2-6h0m-468 108h0m3 0h0m261 7h0m19 0h0m54 0h0m-174 101h0m9 0h0m22 0h0m50 0h0m2 8h0m177 101h0m29 0h0m55 0h0m28 0h0m12 0h0m27 0h0m9 0h0m-396 117h0m1-9h0m46 18h0m14-9h0m7 0h0m4-9h0m44 0h0m4 0h0m120 0h0m5 0h0m-110 109h0m2 6h0m5-6h0m20 18h0m1-6h0m26 0h0m12-24h0m-66 120h0m29 5h0m8-5h0m20 0h0m21-13h0m2 44h0m1-49h0m45 23h0m-262 111h0m82 0h0m5-8h0m14 8h0m5-15h0m8 15h0m5 7h0m2-22h0m1-7h0m7 29h0m5-22h0m130 22h0m0-15h0m-171 113h0m10 0h0m5-9h0m2-9h0m1 5h0m13-5h0m7 5h0m8 13h0m5-13h0m2 13h0m0-18h0m0 9h0m4 0h0m3 9h0m0 14h0m7 4h0m1-9h0m4-27h0m1 32h0m1-23h0m1 0h0m20 5h0m1-5h0m5 5h0m11 4h0m3-4h0m3 0h0m7 4h0m6-13h0m1 4h0m-193 106h0m25 0h0m9 7h0m18 22h0m1-36h0m2 14h0m4 0h0m14 7h0m6 0h0m11-28h0m6 7h0m1 21h0m0-7h0m-120 98h0m0 16h0m0-26h0m0 5h0m6 16h0m16-5h0m0 10h0m10 0h0m11 0h0m11 0h0m16-10h0m4 5h0m5 10h0m4-15h0m3 15h0m7 5h0m1 5h0m2-25h0m5-11h0m7 41h0m3-20h0m0-10h0m2-16h0m1 16h0m29 5h0m24 5h0m0-5h0m0 15h0m0-31h0" stroke="#008bfb" stroke-width="25.0" stroke-linecap="round" fill="none"/>
<path transform="scale(0.0720,0.1)" d="M5460 3031h0m8-13h0m13-13h0m13 20h0m0-4h0m29-13h0m23 4h0m21-13h0m8 13h0m6 13h0m7-23h0m19 0h0m22-3h0m24 3h0m14 0h0m15 6h0m8-16h0m45 29h0m-199 100h0m17-8h0m1 8h0m56-8h0m42 8h0m1-8h0m16 0h0m81-7h0m5 29h0m1-7h0m1-7h0m7-22h0m2 22h0m2-15h0m6 15h0m8 0h0m181 101h0m33-6h0m38 6h0m8 80h0m1-92h0m16 12h0m0-12h0m111 18h0m10-6h0m-151 104h0m13 12h0m2-16h0m2 28h0m11-16h0m6-4h0m40 4h0m1-8h0m20 12h0m44-8h0m-564 109h0m140 0h0m229 6h0m40-12h0m2 6h0m7 12h0m54 67h0m5-103h0m5 12h0m27 12h0m26 12h0m-293 103h0m25-7h0m15 14h0m11-14h0m3-7h0m11 21h0m9 0h0m11-28h0m0 21h0m2 7h0m19-21h0m1 7h0m35 78h0m11-71h0m4-21h0m1 36h0m3-29h0m3 14h0m1 15h0m5-22h0m2 7h0m4-7h0m4 7h0m14-7h0m5 0h0m5 7h0m1 0h0m6 15h0m3-43h0m5 7h0m9 43h0m2-50h0m1 35h0m1-28h0m7 28h0m5-14h0m49 0h0m-190 114h0m5-11h0m7 11h0m8 0h0m8-11h0m4-5h0m3 41h0m0-51h0m5 20h0m1-10h0m5 10h0m2-10h0m2 16h0m3 15h0m3-26h0m6 5h0m0 6h0m1-11h0m3 5h0m10 6h0m6-21h0m0 36h0m19-15h0m4-6h0m8 0h0m4-5h0m2 16h0m0-5h0m42 0h0m-267 184h0m101-81h0m45 7h0m3-7h0m4 14h0m29-14h0m9 0h0m65-7h0m26-7h0m-422 122h0m13 0h0m106 0h0m13 0h0m12 0h0m29 0h0m181 0h0m4 18h0m1-18h0m57 0h0m-136 109h0m20 6h0m0 0h0m1-30h0m4 48h0m2-12h0m5 6h0m9-12h0m5-6h0m6 0h0m7 0h0m29 6h0m4-6h0m36 0h0m-430 108h0m98 0h0m36 0h0m17 0h0m14 0h0m18 7h0m0-7h0m4 0h0m25 0h0m2 0h0m2 7h0m15-14h0m17 7h0m45-14h0m26 0h0m45 14h0m-242 108h0m0-7h0m2 7h0m14 0h0m11 0h0m10 8h0m1-22h0m8 7h0m38 7h0m14 8h0m2-8h0m22 0h0m6 0h0m2-7h0m99 0h0m18 15h0m37-8h0m-301 217h0m11 0h0m4 9h0m48 0h0m30-9h0m11-9h0m4 9h0m16 9h0m2-18h0m2 9h0m13-9h0m0 9h0m1 9h0m16-9h0m6 9h0m45-27h0m31 18h0m-122 109h0m31 0h0m45 0h0m11 6h0m10 0h0m16 0h0m10 23h0m8-29h0m0 6h0m-102 80h0m0 40h0m0 4h0m58-22h0m16 0h0m7-4h0m19 4h0m6-4h0m3 9h0m0 4h0m3 4h0m4-26h0m3 9h0m3 9h0m5 8h0m-214 95h0m19 8h0m4-8h0m4 8h0m6-8h0m3 0h0m2 15h0m12-15h0m2-7h0m0 15h0m3-8h0m29 0h0m1 15h0m2 7h0m11-22h0m4 0h0m5 15h0m3-15h0m8 0h0m2 15h0m5-15h0m4 0h0m12 82h0m109-74h0m-179 101h0m21 9h0m4 0h0m6-18h0m4 13h0m4-4h0m2 13h0m2-4h0m4-14h0m8 14h0m2-14h0m1 18h0m5-9h0m3-22h0m1 31h0m2-4h0m4 4h0m2-31h0m1 9h0m2 13h0m1-13h0m3 18h0m5-9h0m8-5h0m8 9h0m16 5h0m18-9h0m1 22h0m1-18h0m0-26h0m-194 130h0m12 7h0m4-7h0m9 7h0m2-7h0m2 7h0m12-7h0m1 15h0m3-15h0m1-7h0m0 14h0m7-14h0m3 29h0m17-22h0m3 0h0m0 0h0m9 0h0m2 22h0m0-7h0m3-8h0m4-7h0m0-7h0m-116 131h0m0-20h0m0 15h0m13-5h0m5-10h0m4 15h0m3-31h0m2 36h0m28-26h0m5 6h0m3 10h0m7 0h0m28-10h0m1 25h0m0-5h0m1-10h0m3-16h0m3 21h0m1-15h0m1 35h0m1-20h0m2-10h0m6 0h0m3 0h0m2 0h0m45-11h0" stroke="#007ef6" stroke-width="25.0" stroke-linecap="round" fill="none"/>
<path transform="scale(0.0720,0.1)" d="M5437 3008h0m9 4h0m20-26h0m7 29h0m4-16h0m9 13h0m1-7h0m10 3h0m43-6h0m29 19h0m29-13h0m16 4h0m1-7h0m6-3h0m5 3h0m34-6h0m12 26h0m1-13h0m4 16h0m4-39h0m48 3h0m77 7h0m39 6h0m-283 108h0m30 8h0m159 7h0m201 94h0m77-18h0m4 12h0m4 30h0m1-24h0m2 18h0m28-12h0m41-6h0m3 0h0m28 0h0m16 0h0m26-6h0m5 12h0m7 0h0m28 6h0m0 12h0m-268 84h0m7 4h0m2-4h0m25 0h0m23-4h0m28-16h0m8 4h0m8 24h0m2 4h0m63-8h0m11 0h0m1 8h0m19-12h0m17 12h0m-197 73h0m0 24h0m29 0h0m6 0h0m41-12h0m92 36h0m-263 70h0m1 21h0m10-7h0m0 7h0m5-7h0m6 0h0m9 7h0m18 15h0m4-8h0m7-28h0m64 14h0m66 7h0m14 15h0m-95 107h0m2-31h0m13 5h0m22 11h0m88-6h0m-149 109h0m21 7h0m14-14h0m0-7h0m3 14h0m5 0h0m6 7h0m94-21h0m4 28h0m1-7h0m7 7h0m0-21h0m1 28h0m8-14h0m-296 101h0m16-18h0m120 9h0m14 0h0m-28 118h0m33 6h0m1-6h0m7 0h0m5 6h0m2 6h0m13-6h0m0-6h0m7 18h0m41-12h0m5-12h0m12 6h0m16 6h0m27-6h0m5-6h0m-301 114h0m62 0h0m26 0h0m199 29h0m-283 87h0m2 7h0m32-7h0m32-8h0m16 0h0m34 0h0m90-21h0m17 36h0m-201 211h0m4-9h0m5 0h0m2 9h0m9-9h0m3 9h0m12 0h0m4-9h0m2 18h0m39 0h0m11-18h0m38 0h0m63 9h0m-129 100h0m79-12h0m4 12h0m11 12h0m15-24h0m13 24h0m7-6h0m8-6h0m-91 108h0m33 9h0m10-9h0m26 5h0m5 8h0m7-22h0m4 14h0m0 4h0m2-18h0m1 18h0m0 13h0m0-9h0m1 5h0m5-18h0m7 5h0m13-5h0m11 0h0m-228 116h0m4-8h0m3 0h0m60-7h0m7 15h0m2-15h0m17 0h0m7 29h0m5-22h0m9 8h0m-118 209h0m53 22h0m10-36h0m2 29h0m14-22h0" stroke="#006fed" stroke-width="25.0" stroke-linecap="round" fill="none"/>
<path transform="scale(0.0720,0.1)" d="M5467 3015h0m3-23h0m10 3h0m3 13h0m19 13h0m51-29h0m16 26h0m19 3h0m23-22h0m23 3h0m16-13h0m36 16h0m7-3h0m5-7h0m8 20h0m8 23h0m6-10h0m2-42h0m3 9h0m4 4h0m55 6h0m-200 116h0m23 7h0m42-7h0m32-8h0m63 0h0m4-21h0m201 136h0m43-12h0m1 6h0m46-24h0m20 36h0m41-12h0m18 12h0m4-12h0m4 6h0m3 0h0m31 0h0m-175 102h0m36-4h0m13-4h0m5-16h0m2 8h0m0 16h0m17-4h0m7 4h0m15 0h0m24 8h0m13-8h0m12 0h0m14 4h0m-177 111h0m24-12h0m19 12h0m15 12h0m57-6h0m47-18h0m-245 121h0m0-14h0m2-14h0m36 28h0m13-7h0m22 210h0m23 7h0m9-7h0m7 14h0m9-14h0m34 14h0m7 0h0m24-7h0m9 0h0m36 0h0m-281 108h0m2 9h0m49 0h0m11-9h0m58-9h0m22 18h0m77 0h0m10 0h0m15-18h0m-115 226h0m24 0h0m8 14h0m-44 94h0m4 0h0m89-14h0m14 14h0m96 15h0m-171 211h0m96 0h0m18 0h0m-137 100h0m0 6h0m6 6h0m7-24h0m13 18h0m8-12h0m0 18h0m8-24h0m5 6h0m4 6h0m5 0h0m6-6h0m2 24h0m4-30h0m1 30h0m7-24h0m-95 114h0m133 5h0" stroke="#575fdf" stroke-width="25.0" stroke-linecap="round" fill="none"/>
<path transform="scale(0.0720,0.1)" d="M5458 2982h0m110 13h0m43 20h0m14-3h0m35-17h0m16 26h0m7-22h0m8 16h0m3-20h0m209 10h0m24 108h0m6 332h0m-93 326h0m109 110h0m13-9h0m10-18h0m35 18h0m57 9h0m24-9h0m-112 239h0m13-8h0m30-7h0m40 0h0m-74 101h0m59 22h0m12-36h0m22 14h0m66 0h0m-178 235h0m86-18h0m10 9h0m40-9h0" stroke="#794cce" stroke-width="25.0" stroke-linecap="round" fill="none"/>
<path transform="scale(0.0720,0.1)" d="M5805 3002h0m5 111h0m57 0h0m36 97h0m6 24h0m35 6h0m1-6h0m10 193h0m72 18h0m44-18h0m11 36h0m32-18h0m15-6h0m-297 332h0m3 0h0m48-7h0m25-7h0m134 124h0m31 0h0m-104 215h0m48-14h0m-23 123h0m37-22h0m-39 231h0m52 0h0m44-9h0" stroke="#9233b9" stroke-width="25.0" stroke-linecap="round" fill="none"/>
<path transform="scale(0.0720,0.1)" d="M5823 3113h0m9 0h0m-107 109h0m79 6h0m52-6h0m22-12h0m9 18h0m13 12h0m9-24h0m11 12h0m-151 106h0m11-8h0m45 8h0m8 4h0m8-4h0m21 0h0m20-4h0m21 8h0m111 83h0m-252 350h0m63 0h0m48-14h0m59 7h0m28 126h0m2-9h0m99-18h0m10 9h0m14 9h0m-93 194h0m100 21h0m-136 101h0m33 8h0m6-15h0m51 7h0m-54 235h0m91-18h0m-248 217h0m13 0h0m5 0h0m21 9h0m171 316h0m15 0h0m32 7h0" stroke="#aa17a7" stroke-width="25.0" stroke-linecap="round" fill="none"/>
<path transform="scale(0.0720,0.1)" d="M5681 3228h0m38 12h0m32-6h0m8-18h0m41 0h0m84 12h0m3 6h0m13 12h0m10-18h0m1-6h0m-117 112h0m79 0h0m23 0h0m20-4h0m100 127h0m18-30h0m13-6h0m-202 336h0m45 7h0m3 0h0m19 0h0m11 0h0m4 0h0m6-7h0m-30 124h0m70-9h0m54 0h0m-17 239h0m17-8h0m-1 109h0m3-7h0m13 14h0m2 7h0m15-21h0m8 0h0m1-8h0m-108 199h0m82 18h0m-222 109h0m55 0h0m1 108h0m45 0h0m166 325h0m44 0h0" stroke="#c5009a" stroke-width="25.0" stroke-linecap="round" fill="none"/>
<path transform="scale(0.0720,0.1)" d="M6092 3008h0m-113 105h0m127 0h0m-415 109h0m13-6h0m47 12h0m27 0h0m21-18h0m42 18h0m15 0h0m17 6h0m6-18h0m2 6h0m15 0h0m6-18h0m28 18h0m-127 108h0m77 4h0m45 4h0m181 101h0m-449 216h0m79 0h0m55 116h0m1-14h0m59 14h0m19 0h0m156 92h0m16 9h0m-285 109h0m254 115h0m16 0h0m-36 101h0m54-7h0m42 22h0m-66 220h0m9-36h0m6 18h0m49 325h0" stroke="#db008a" stroke-width="25.0" stroke-linecap="round" fill="none"/>
<path transform="scale(0.0720,0.1)" d="M6593 3002h0m8 3h0m-481 116h0m1-8h0m22 0h0m12 0h0m33 15h0m4-22h0m-441 104h0m42 18h0m11 6h0m17-6h0m4 0h0m116-6h0m5-6h0m-242 114h0m61 4h0m1-8h0m29 4h0m4 4h0m31-8h0m82 4h0m56 97h0m21 18h0m26 0h0m4-12h0m4 0h0m27 12h0m90-6h0m-543 216h0m166 0h0m45 116h0m47 0h0m59 0h0m23 92h0m42 18h0m12-9h0m30 9h0m34 0h0m-311 100h0m38 0h0m211 115h0m18-14h0m103 7h0m-90 108h0m49-7h0m4 7h0m-93 208h0m-96 118h0m-15 104h0m15 4h0m123 325h0m46-7h0" stroke="#ec0078" stroke-width="25.0" stroke-linecap="round" fill="none"/>
<path transform="scale(0.0720,0.1)" d="M6070 3005h0m151-3h0m362 19h0m0-13h0m2-13h0m18 13h0m5-6h0m83 0h0m65 3h0m-590 116h0m5-8h0m18 8h0m0 21h0m0-29h0m6 8h0m11-15h0m8 7h0m83 0h0m-682 109h0m104-6h0m21 6h0m26 6h0m40-24h0m7 24h0m14-6h0m8 0h0m9 0h0m54-6h0m-218 114h0m10 0h0m101 4h0m19 0h0m23 0h0m14-4h0m14 8h0m27-4h0m6-4h0m38 4h0m-172 430h0m23-7h0m57 0h0m13 7h0m96 99h0m127 27h0m-251 91h0m106 122h0m45-7h0m29 0h0m49 0h0m62 0h0m-69 327h0m81-9h0m-467 109h0m144 0h0m-59 108h0m38 5h0m25-5h0m2 0h0m30 5h0m3-9h0m17 9h0m7-5h0m28 0h0m222 108h0m-434 109h0m53 0h0m254 108h0m11 0h0m34 0h0m7 0h0m85 109h0m140 5h0" stroke="#fa0065" stroke-width="25.0" stroke-linecap="round" fill="none"/>
<path transform="scale(0.0720,0.1)" d="M6582 2999h0m7 9h0m176-3h0m0 3h0m-560 113h0m55-8h0m74 0h0m-435 109h0m2 6h0m4-6h0m39-18h0m-283 126h0m111 0h0m26-4h0m16 8h0m44-4h0m1 0h0m53 4h0m161 111h0m80-6h0m-465 108h0m9 0h0m109 0h0m-27 108h0m30 102h0m38 7h0m21 0h0m77 117h0m38-18h0m82 9h0m10-18h0m-144 228h0m54 0h0m126 14h0m-202 179h0m144-85h0m-187 116h0m18-10h0m1-5h0m3 15h0m5-10h0m0 15h0m1-15h0m0 5h0m1 5h0m2 15h0m2-30h0m1 20h0m0-15h0m1 30h0m3-25h0m1 10h0m0-5h0m3 25h0m1-5h0m0-15h0m1 26h0m1-46h0m0 30h0m5-30h0m1 25h0m1-20h0m1 15h0m1-5h0m0-5h0m2-10h0m2 0h0m0 40h0m-151 192h0m-24 108h0m72 0h0m24 0h0m29 5h0m10-5h0m188 108h0" stroke="#ff0051" stroke-width="25.0" stroke-linecap="round" fill="none"/>
</svg></body></html>
